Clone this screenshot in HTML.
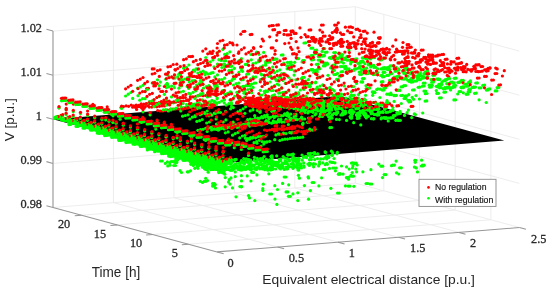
<!DOCTYPE html>
<html><head><meta charset="utf-8"><style>
html,body{margin:0;padding:0;background:#fff;}
svg{display:block;}
</style></head><body>
<svg width="550" height="292" viewBox="0 0 550 292">
<rect width="550" height="292" fill="#fff"/>
<line x1="113.46" y1="202.62" x2="113.46" y2="26.22" stroke="#ebebeb" stroke-width="0.9"/>
<line x1="173.92" y1="197.74" x2="173.92" y2="21.34" stroke="#ebebeb" stroke-width="0.9"/>
<line x1="234.38" y1="192.86" x2="234.38" y2="16.46" stroke="#ebebeb" stroke-width="0.9"/>
<line x1="294.84" y1="187.98" x2="294.84" y2="11.58" stroke="#ebebeb" stroke-width="0.9"/>
<line x1="355.30" y1="183.10" x2="355.30" y2="6.70" stroke="#ebebeb" stroke-width="0.9"/>
<line x1="53.00" y1="163.40" x2="355.30" y2="139.00" stroke="#ebebeb" stroke-width="0.9"/>
<line x1="53.00" y1="119.30" x2="355.30" y2="94.90" stroke="#ebebeb" stroke-width="0.9"/>
<line x1="53.00" y1="75.20" x2="355.30" y2="50.80" stroke="#ebebeb" stroke-width="0.9"/>
<line x1="53.00" y1="31.10" x2="355.30" y2="6.70" stroke="#ebebeb" stroke-width="0.9"/>
<line x1="53.00" y1="207.50" x2="355.30" y2="183.10" stroke="#ebebeb" stroke-width="0.9"/>
<line x1="490.87" y1="219.77" x2="490.87" y2="43.37" stroke="#ebebeb" stroke-width="0.9"/>
<line x1="455.19" y1="210.12" x2="455.19" y2="33.72" stroke="#ebebeb" stroke-width="0.9"/>
<line x1="419.51" y1="200.47" x2="419.51" y2="24.07" stroke="#ebebeb" stroke-width="0.9"/>
<line x1="383.84" y1="190.82" x2="383.84" y2="14.42" stroke="#ebebeb" stroke-width="0.9"/>
<line x1="355.30" y1="139.00" x2="519.40" y2="183.39" stroke="#ebebeb" stroke-width="0.9"/>
<line x1="355.30" y1="94.90" x2="519.40" y2="139.29" stroke="#ebebeb" stroke-width="0.9"/>
<line x1="355.30" y1="50.80" x2="519.40" y2="95.19" stroke="#ebebeb" stroke-width="0.9"/>
<line x1="355.30" y1="6.70" x2="519.40" y2="51.09" stroke="#ebebeb" stroke-width="0.9"/>
<line x1="355.30" y1="183.10" x2="519.40" y2="227.49" stroke="#ebebeb" stroke-width="0.9"/>
<line x1="113.46" y1="202.62" x2="277.56" y2="247.01" stroke="#ebebeb" stroke-width="0.9"/>
<line x1="173.92" y1="197.74" x2="338.02" y2="242.13" stroke="#ebebeb" stroke-width="0.9"/>
<line x1="234.38" y1="192.86" x2="398.49" y2="237.25" stroke="#ebebeb" stroke-width="0.9"/>
<line x1="294.84" y1="187.98" x2="458.95" y2="232.37" stroke="#ebebeb" stroke-width="0.9"/>
<line x1="188.56" y1="244.17" x2="490.87" y2="219.77" stroke="#ebebeb" stroke-width="0.9"/>
<line x1="152.89" y1="234.52" x2="455.19" y2="210.12" stroke="#ebebeb" stroke-width="0.9"/>
<line x1="117.22" y1="224.87" x2="419.51" y2="200.47" stroke="#ebebeb" stroke-width="0.9"/>
<line x1="81.54" y1="215.22" x2="383.84" y2="190.82" stroke="#ebebeb" stroke-width="0.9"/>
<line x1="53" y1="31.10" x2="53" y2="207.50" stroke="#c4c4c4" stroke-width="2"/>
<line x1="53.00" y1="207.50" x2="217.10" y2="251.89" stroke="#979797" stroke-width="1.05"/>
<line x1="217.10" y1="251.89" x2="519.40" y2="227.49" stroke="#979797" stroke-width="1.05"/>
<line x1="53.00" y1="207.50" x2="46.45" y2="205.73" stroke="#979797" stroke-width="1.05"/>
<line x1="53.00" y1="163.40" x2="46.45" y2="161.63" stroke="#979797" stroke-width="1.05"/>
<line x1="53.00" y1="119.30" x2="46.45" y2="117.53" stroke="#979797" stroke-width="1.05"/>
<line x1="53.00" y1="75.20" x2="46.45" y2="73.43" stroke="#979797" stroke-width="1.05"/>
<line x1="53.00" y1="31.10" x2="46.45" y2="29.33" stroke="#979797" stroke-width="1.05"/>
<line x1="188.56" y1="244.17" x2="181.79" y2="244.72" stroke="#979797" stroke-width="1.05"/>
<line x1="152.89" y1="234.52" x2="146.11" y2="235.07" stroke="#979797" stroke-width="1.05"/>
<line x1="117.22" y1="224.87" x2="110.44" y2="225.42" stroke="#979797" stroke-width="1.05"/>
<line x1="81.54" y1="215.22" x2="74.76" y2="215.77" stroke="#979797" stroke-width="1.05"/>
<line x1="217.10" y1="251.89" x2="223.67" y2="253.67" stroke="#979797" stroke-width="1.05"/>
<line x1="277.56" y1="247.01" x2="284.13" y2="248.79" stroke="#979797" stroke-width="1.05"/>
<line x1="338.02" y1="242.13" x2="344.59" y2="243.91" stroke="#979797" stroke-width="1.05"/>
<line x1="398.49" y1="237.25" x2="405.05" y2="239.03" stroke="#979797" stroke-width="1.05"/>
<line x1="458.95" y1="232.37" x2="465.51" y2="234.15" stroke="#979797" stroke-width="1.05"/>
<line x1="519.40" y1="227.49" x2="525.97" y2="229.27" stroke="#979797" stroke-width="1.05"/>
<text x="42" y="31.75" text-anchor="end" style="font-family:'Liberation Serif',serif;font-size:12.3px;fill:#2a2a2a;stroke:#2a2a2a;stroke-width:0.3px">1.02</text>
<text x="42" y="75.85" text-anchor="end" style="font-family:'Liberation Serif',serif;font-size:12.3px;fill:#2a2a2a;stroke:#2a2a2a;stroke-width:0.3px">1.01</text>
<text x="42" y="119.95" text-anchor="end" style="font-family:'Liberation Serif',serif;font-size:12.3px;fill:#2a2a2a;stroke:#2a2a2a;stroke-width:0.3px">1</text>
<text x="42" y="164.05" text-anchor="end" style="font-family:'Liberation Serif',serif;font-size:12.3px;fill:#2a2a2a;stroke:#2a2a2a;stroke-width:0.3px">0.99</text>
<text x="42" y="208.15" text-anchor="end" style="font-family:'Liberation Serif',serif;font-size:12.3px;fill:#2a2a2a;stroke:#2a2a2a;stroke-width:0.3px">0.98</text>
<text x="64.1" y="228.05" text-anchor="middle" style="font-family:'Liberation Serif',serif;font-size:12.3px;fill:#2a2a2a;stroke:#2a2a2a;stroke-width:0.3px">20</text>
<text x="99.9" y="237.55" text-anchor="middle" style="font-family:'Liberation Serif',serif;font-size:12.3px;fill:#2a2a2a;stroke:#2a2a2a;stroke-width:0.3px">15</text>
<text x="136.1" y="246.95" text-anchor="middle" style="font-family:'Liberation Serif',serif;font-size:12.3px;fill:#2a2a2a;stroke:#2a2a2a;stroke-width:0.3px">10</text>
<text x="174.8" y="257.35" text-anchor="middle" style="font-family:'Liberation Serif',serif;font-size:12.3px;fill:#2a2a2a;stroke:#2a2a2a;stroke-width:0.3px">5</text>
<text x="230.7" y="266.95" text-anchor="middle" style="font-family:'Liberation Serif',serif;font-size:12.3px;fill:#2a2a2a;stroke:#2a2a2a;stroke-width:0.3px">0</text>
<text x="296.4" y="261.55" text-anchor="middle" style="font-family:'Liberation Serif',serif;font-size:12.3px;fill:#2a2a2a;stroke:#2a2a2a;stroke-width:0.3px">0.5</text>
<text x="351.9" y="256.85" text-anchor="middle" style="font-family:'Liberation Serif',serif;font-size:12.3px;fill:#2a2a2a;stroke:#2a2a2a;stroke-width:0.3px">1</text>
<text x="417.7" y="251.85" text-anchor="middle" style="font-family:'Liberation Serif',serif;font-size:12.3px;fill:#2a2a2a;stroke:#2a2a2a;stroke-width:0.3px">1.5</text>
<text x="473.2" y="247.15" text-anchor="middle" style="font-family:'Liberation Serif',serif;font-size:12.3px;fill:#2a2a2a;stroke:#2a2a2a;stroke-width:0.3px">2</text>
<text x="538.8" y="243.05" text-anchor="middle" style="font-family:'Liberation Serif',serif;font-size:12.3px;fill:#2a2a2a;stroke:#2a2a2a;stroke-width:0.3px">2.5</text>
<text x="116" y="276.5" text-anchor="middle" textLength="48.5" lengthAdjust="spacingAndGlyphs" style="font-family:'Liberation Sans',Arial,sans-serif;fill:#262626;font-size:13.8px">Time [h]</text>
<text x="368.6" y="284.3" text-anchor="middle" textLength="212.5" lengthAdjust="spacingAndGlyphs" style="font-family:'Liberation Sans',Arial,sans-serif;fill:#262626;font-size:13.4px">Equivalent electrical distance [p.u.]</text>
<text transform="translate(13.9,119.8) rotate(-90)" text-anchor="middle" textLength="43" lengthAdjust="spacingAndGlyphs" style="font-family:'Liberation Sans',Arial,sans-serif;fill:#262626;font-size:13.6px">V [p.u.]</text>
<polygon points="53.00,119.30 217.10,163.69 504.29,140.51 340.19,96.12" fill="#000"/><polygon points="55.42,117.90 219.52,162.29 219.52,171.49 55.42,118.99" fill="#0f0"/>
<g fill="#0f0"><circle cx="341.9" cy="56.4" r="1.6"/><circle cx="340.2" cy="56.5" r="1.6"/></g>
<g fill="#f00"><circle cx="340.2" cy="40.2" r="1.6"/></g>
<g fill="#0f0"><circle cx="332.8" cy="58.2" r="1.6"/><circle cx="331.1" cy="58.3" r="1.6"/></g>
<g fill="#f00"><circle cx="336.4" cy="31.2" r="1.6"/><circle cx="338.3" cy="22.8" r="1.6"/><circle cx="334.7" cy="31.3" r="1.6"/><circle cx="336.4" cy="25.0" r="1.6"/><circle cx="332.8" cy="37.7" r="1.6"/><circle cx="334.7" cy="25.1" r="1.6"/><circle cx="331.1" cy="37.9" r="1.6"/></g>
<g fill="#0f0"><circle cx="324.0" cy="56.0" r="1.6"/><circle cx="324.7" cy="48.7" r="1.6"/><circle cx="322.3" cy="56.1" r="1.6"/><circle cx="323.0" cy="48.8" r="1.6"/><circle cx="349.0" cy="60.0" r="1.6"/></g>
<g fill="#f00"><circle cx="322.3" cy="41.2" r="1.6"/></g>
<g fill="#0f0"><circle cx="347.3" cy="60.2" r="1.6"/></g>
<g fill="#f00"><circle cx="323.2" cy="25.0" r="1.6"/></g>
<g fill="#0f0"><circle cx="313.5" cy="59.7" r="1.6"/></g>
<g fill="#f00"><circle cx="321.5" cy="25.1" r="1.6"/></g>
<g fill="#0f0"><circle cx="311.8" cy="59.9" r="1.6"/></g>
<g fill="#f00"><circle cx="347.3" cy="41.4" r="1.6"/><circle cx="313.5" cy="37.3" r="1.6"/><circle cx="311.8" cy="37.5" r="1.6"/><circle cx="343.6" cy="34.4" r="1.6"/><circle cx="345.4" cy="27.2" r="1.6"/></g>
<g fill="#0f0"><circle cx="303.8" cy="61.8" r="1.6"/></g>
<g fill="#f00"><circle cx="341.9" cy="34.5" r="1.6"/><circle cx="339.9" cy="41.5" r="1.6"/></g>
<g fill="#0f0"><circle cx="302.1" cy="61.9" r="1.6"/></g>
<g fill="#f00"><circle cx="338.3" cy="41.6" r="1.6"/><circle cx="308.1" cy="36.7" r="1.6"/></g>
<g fill="#0f0"><circle cx="305.7" cy="42.8" r="1.6"/></g>
<g fill="#f00"><circle cx="306.4" cy="36.8" r="1.6"/></g>
<g fill="#0f0"><circle cx="304.0" cy="43.0" r="1.6"/><circle cx="331.1" cy="57.6" r="1.6"/><circle cx="329.4" cy="57.8" r="1.6"/><circle cx="356.1" cy="61.4" r="1.6"/></g>
<g fill="#f00"><circle cx="329.4" cy="43.4" r="1.6"/></g>
<g fill="#0f0"><circle cx="354.5" cy="61.5" r="1.6"/><circle cx="322.1" cy="51.4" r="1.6"/></g>
<g fill="#f00"><circle cx="354.5" cy="43.7" r="1.6"/><circle cx="320.6" cy="40.9" r="1.6"/></g>
<g fill="#0f0"><circle cx="349.0" cy="50.1" r="1.6"/><circle cx="316.7" cy="50.2" r="1.6"/></g>
<g fill="#f00"><circle cx="318.9" cy="41.0" r="1.6"/><circle cx="352.6" cy="27.5" r="1.6"/></g>
<g fill="#0f0"><circle cx="315.0" cy="50.4" r="1.6"/></g>
<g fill="#f00"><circle cx="350.7" cy="26.9" r="1.6"/><circle cx="315.2" cy="40.9" r="1.6"/></g>
<g fill="#0f0"><circle cx="312.8" cy="48.1" r="1.6"/></g>
<g fill="#f00"><circle cx="286.0" cy="30.4" r="1.6"/><circle cx="349.0" cy="27.1" r="1.6"/><circle cx="313.5" cy="41.1" r="1.6"/></g>
<g fill="#0f0"><circle cx="311.1" cy="48.2" r="1.6"/></g>
<g fill="#f00"><circle cx="284.3" cy="30.5" r="1.6"/></g>
<g fill="#0f0"><circle cx="338.3" cy="58.6" r="1.6"/></g>
<g fill="#f00"><circle cx="309.2" cy="45.3" r="1.6"/><circle cx="341.8" cy="39.7" r="1.6"/></g>
<g fill="#0f0"><circle cx="336.6" cy="58.8" r="1.6"/><circle cx="336.4" cy="58.2" r="1.6"/><circle cx="335.5" cy="52.5" r="1.6"/><circle cx="363.3" cy="61.9" r="1.6"/></g>
<g fill="#f00"><circle cx="336.6" cy="44.5" r="1.6"/></g>
<g fill="#0f0"><circle cx="333.8" cy="52.6" r="1.6"/></g>
<g fill="#f00"><circle cx="278.4" cy="24.9" r="1.6"/></g>
<g fill="#0f0"><circle cx="361.6" cy="62.1" r="1.6"/></g>
<g fill="#f00"><circle cx="276.7" cy="25.1" r="1.6"/></g>
<g fill="#0f0"><circle cx="298.6" cy="58.6" r="1.6"/></g>
<g fill="#f00"><circle cx="337.4" cy="30.0" r="1.6"/></g>
<g fill="#0f0"><circle cx="327.7" cy="64.2" r="1.6"/></g>
<g fill="#f00"><circle cx="274.6" cy="29.7" r="1.6"/><circle cx="336.8" cy="28.2" r="1.6"/></g>
<g fill="#0f0"><circle cx="296.9" cy="58.7" r="1.6"/></g>
<g fill="#f00"><circle cx="335.7" cy="30.1" r="1.6"/></g>
<g fill="#0f0"><circle cx="326.0" cy="64.3" r="1.6"/></g>
<g fill="#f00"><circle cx="272.9" cy="29.8" r="1.6"/><circle cx="273.3" cy="25.5" r="1.6"/><circle cx="361.6" cy="44.3" r="1.6"/><circle cx="269.7" cy="36.8" r="1.6"/><circle cx="332.3" cy="32.6" r="1.6"/><circle cx="271.6" cy="25.6" r="1.6"/><circle cx="327.7" cy="41.8" r="1.6"/><circle cx="269.3" cy="26.1" r="1.6"/><circle cx="299.9" cy="27.9" r="1.6"/><circle cx="326.0" cy="41.9" r="1.6"/></g>
<g fill="#0f0"><circle cx="258.6" cy="60.6" r="1.6"/></g>
<g fill="#f00"><circle cx="359.7" cy="30.7" r="1.6"/><circle cx="263.4" cy="40.9" r="1.6"/></g>
<g fill="#0f0"><circle cx="259.0" cy="54.3" r="1.6"/><circle cx="318.1" cy="64.2" r="1.6"/><circle cx="320.0" cy="56.3" r="1.6"/></g>
<g fill="#f00"><circle cx="354.2" cy="42.7" r="1.6"/><circle cx="357.8" cy="29.2" r="1.6"/></g>
<g fill="#0f0"><circle cx="316.4" cy="64.3" r="1.6"/><circle cx="318.3" cy="56.4" r="1.6"/></g>
<g fill="#f00"><circle cx="352.5" cy="42.8" r="1.6"/></g>
<g fill="#0f0"><circle cx="256.6" cy="52.1" r="1.6"/></g>
<g fill="#f00"><circle cx="356.1" cy="29.3" r="1.6"/><circle cx="293.1" cy="31.6" r="1.6"/><circle cx="291.4" cy="31.7" r="1.6"/></g>
<g fill="#0f0"><circle cx="345.4" cy="59.3" r="1.6"/><circle cx="252.7" cy="54.4" r="1.6"/><circle cx="343.5" cy="63.1" r="1.6"/><circle cx="283.0" cy="54.9" r="1.6"/><circle cx="343.7" cy="59.4" r="1.6"/><circle cx="251.0" cy="54.5" r="1.6"/><circle cx="281.3" cy="55.0" r="1.6"/><circle cx="342.6" cy="54.5" r="1.6"/><circle cx="370.4" cy="63.1" r="1.6"/><circle cx="340.9" cy="54.7" r="1.6"/><circle cx="368.7" cy="63.2" r="1.6"/><circle cx="334.9" cy="64.9" r="1.6"/><circle cx="336.4" cy="57.7" r="1.6"/><circle cx="333.2" cy="65.0" r="1.6"/></g>
<g fill="#f00"><circle cx="310.8" cy="29.9" r="1.6"/><circle cx="368.7" cy="45.8" r="1.6"/><circle cx="340.4" cy="32.8" r="1.6"/><circle cx="276.9" cy="35.1" r="1.6"/><circle cx="309.1" cy="30.0" r="1.6"/></g>
<g fill="#0f0"><circle cx="361.3" cy="66.1" r="1.6"/></g>
<g fill="#f00"><circle cx="244.8" cy="31.3" r="1.6"/><circle cx="334.9" cy="43.4" r="1.6"/></g>
<g fill="#0f0"><circle cx="359.7" cy="66.2" r="1.6"/><circle cx="265.7" cy="63.5" r="1.6"/></g>
<g fill="#f00"><circle cx="365.0" cy="41.5" r="1.6"/><circle cx="243.1" cy="31.5" r="1.6"/><circle cx="333.2" cy="43.5" r="1.6"/><circle cx="240.8" cy="34.2" r="1.6"/><circle cx="363.3" cy="41.6" r="1.6"/></g>
<g fill="#0f0"><circle cx="325.2" cy="65.8" r="1.6"/></g>
<g fill="#f00"><circle cx="365.0" cy="31.2" r="1.6"/></g>
<g fill="#0f0"><circle cx="323.5" cy="65.9" r="1.6"/><circle cx="327.1" cy="52.1" r="1.6"/></g>
<g fill="#f00"><circle cx="363.3" cy="31.3" r="1.6"/><circle cx="361.2" cy="37.5" r="1.6"/></g>
<g fill="#0f0"><circle cx="263.7" cy="52.4" r="1.6"/><circle cx="325.4" cy="52.3" r="1.6"/></g>
<g fill="#f00"><circle cx="359.6" cy="37.7" r="1.6"/></g>
<g fill="#0f0"><circle cx="352.5" cy="61.7" r="1.6"/></g>
<g fill="#f00"><circle cx="356.0" cy="48.5" r="1.6"/></g>
<g fill="#0f0"><circle cx="350.6" cy="63.8" r="1.6"/></g>
<g fill="#f00"><circle cx="323.5" cy="48.5" r="1.6"/></g>
<g fill="#0f0"><circle cx="350.8" cy="61.8" r="1.6"/><circle cx="225.7" cy="60.7" r="1.6"/><circle cx="224.0" cy="60.9" r="1.6"/></g>
<g fill="#f00"><circle cx="350.8" cy="47.5" r="1.6"/><circle cx="292.7" cy="30.9" r="1.6"/></g>
<g fill="#0f0"><circle cx="283.8" cy="63.2" r="1.6"/><circle cx="317.2" cy="53.5" r="1.6"/></g>
<g fill="#f00"><circle cx="322.5" cy="32.2" r="1.6"/><circle cx="291.0" cy="31.1" r="1.6"/></g>
<g fill="#0f0"><circle cx="315.5" cy="53.7" r="1.6"/><circle cx="222.8" cy="49.4" r="1.6"/></g>
<g fill="#f00"><circle cx="351.7" cy="32.6" r="1.6"/><circle cx="288.8" cy="34.8" r="1.6"/></g>
<g fill="#0f0"><circle cx="342.0" cy="66.5" r="1.6"/><circle cx="343.5" cy="59.5" r="1.6"/><circle cx="218.9" cy="59.7" r="1.6"/><circle cx="312.9" cy="55.6" r="1.6"/></g>
<g fill="#f00"><circle cx="350.0" cy="32.7" r="1.6"/><circle cx="287.1" cy="34.9" r="1.6"/></g>
<g fill="#0f0"><circle cx="340.3" cy="66.6" r="1.6"/></g>
<g fill="#f00"><circle cx="222.8" cy="40.3" r="1.6"/></g>
<g fill="#0f0"><circle cx="311.2" cy="55.7" r="1.6"/></g>
<g fill="#f00"><circle cx="375.9" cy="46.3" r="1.6"/></g>
<g fill="#0f0"><circle cx="214.0" cy="66.8" r="1.6"/><circle cx="217.5" cy="52.5" r="1.6"/></g>
<g fill="#f00"><circle cx="347.6" cy="30.9" r="1.6"/><circle cx="220.1" cy="41.0" r="1.6"/><circle cx="284.0" cy="34.4" r="1.6"/></g>
<g fill="#0f0"><circle cx="340.7" cy="53.9" r="1.6"/><circle cx="277.0" cy="59.0" r="1.6"/><circle cx="370.4" cy="58.9" r="1.6"/></g>
<g fill="#f00"><circle cx="251.9" cy="34.4" r="1.6"/><circle cx="217.1" cy="48.0" r="1.6"/><circle cx="217.5" cy="43.5" r="1.6"/><circle cx="342.0" cy="43.3" r="1.6"/></g>
<g fill="#0f0"><circle cx="339.0" cy="54.0" r="1.6"/><circle cx="275.3" cy="59.1" r="1.6"/></g>
<g fill="#f00"><circle cx="311.8" cy="37.8" r="1.6"/><circle cx="250.2" cy="34.6" r="1.6"/><circle cx="372.1" cy="43.1" r="1.6"/><circle cx="340.3" cy="43.4" r="1.6"/></g>
<g fill="#0f0"><circle cx="273.3" cy="59.7" r="1.6"/></g>
<g fill="#f00"><circle cx="374.0" cy="32.2" r="1.6"/><circle cx="212.2" cy="53.4" r="1.6"/><circle cx="370.4" cy="43.3" r="1.6"/></g>
<g fill="#0f0"><circle cx="332.3" cy="67.7" r="1.6"/></g>
<g fill="#f00"><circle cx="279.6" cy="32.4" r="1.6"/><circle cx="368.5" cy="45.5" r="1.6"/></g>
<g fill="#0f0"><circle cx="334.2" cy="56.5" r="1.6"/><circle cx="207.5" cy="62.9" r="1.6"/><circle cx="330.6" cy="67.8" r="1.6"/></g>
<g fill="#f00"><circle cx="366.8" cy="45.6" r="1.6"/></g>
<g fill="#0f0"><circle cx="332.5" cy="56.6" r="1.6"/><circle cx="205.8" cy="57.5" r="1.6"/><circle cx="359.7" cy="63.2" r="1.6"/></g>
<g fill="#f00"><circle cx="367.3" cy="33.1" r="1.6"/></g>
<g fill="#0f0"><circle cx="358.0" cy="63.4" r="1.6"/></g>
<g fill="#f00"><circle cx="205.8" cy="48.8" r="1.6"/></g>
<g fill="#0f0"><circle cx="198.8" cy="68.9" r="1.6"/><circle cx="356.9" cy="58.9" r="1.6"/></g>
<g fill="#f00"><circle cx="202.8" cy="51.1" r="1.6"/></g>
<g fill="#0f0"><circle cx="384.7" cy="67.7" r="1.6"/><circle cx="197.1" cy="69.1" r="1.6"/><circle cx="355.2" cy="59.1" r="1.6"/><circle cx="290.9" cy="64.6" r="1.6"/><circle cx="260.8" cy="59.9" r="1.6"/><circle cx="324.4" cy="55.3" r="1.6"/></g>
<g fill="#f00"><circle cx="329.6" cy="35.8" r="1.6"/></g>
<g fill="#0f0"><circle cx="383.0" cy="67.8" r="1.6"/></g>
<g fill="#f00"><circle cx="233.1" cy="44.8" r="1.6"/></g>
<g fill="#0f0"><circle cx="259.1" cy="60.1" r="1.6"/><circle cx="322.7" cy="55.4" r="1.6"/></g>
<g fill="#f00"><circle cx="232.4" cy="43.2" r="1.6"/></g>
<g fill="#0f0"><circle cx="229.9" cy="51.8" r="1.6"/><circle cx="349.1" cy="68.9" r="1.6"/><circle cx="320.0" cy="60.0" r="1.6"/></g>
<g fill="#f00"><circle cx="296.0" cy="33.4" r="1.6"/></g>
<g fill="#0f0"><circle cx="224.6" cy="64.4" r="1.6"/><circle cx="227.2" cy="53.7" r="1.6"/><circle cx="347.4" cy="69.0" r="1.6"/></g>
<g fill="#f00"><circle cx="229.9" cy="42.7" r="1.6"/><circle cx="325.1" cy="36.1" r="1.6"/></g>
<g fill="#0f0"><circle cx="318.3" cy="60.1" r="1.6"/></g>
<g fill="#f00"><circle cx="294.3" cy="33.5" r="1.6"/><circle cx="383.0" cy="49.2" r="1.6"/></g>
<g fill="#0f0"><circle cx="223.0" cy="64.5" r="1.6"/></g>
<g fill="#f00"><circle cx="323.4" cy="36.2" r="1.6"/><circle cx="227.2" cy="44.7" r="1.6"/></g>
<g fill="#0f0"><circle cx="224.6" cy="54.3" r="1.6"/></g>
<g fill="#f00"><circle cx="291.1" cy="38.4" r="1.6"/><circle cx="353.7" cy="36.9" r="1.6"/><circle cx="192.5" cy="56.4" r="1.6"/></g>
<g fill="#0f0"><circle cx="375.6" cy="67.3" r="1.6"/></g>
<g fill="#f00"><circle cx="290.7" cy="34.7" r="1.6"/></g>
<g fill="#0f0"><circle cx="188.9" cy="65.0" r="1.6"/><circle cx="221.1" cy="60.4" r="1.6"/></g>
<g fill="#f00"><circle cx="349.1" cy="46.8" r="1.6"/><circle cx="190.8" cy="56.6" r="1.6"/><circle cx="224.2" cy="47.9" r="1.6"/><circle cx="224.6" cy="45.2" r="1.6"/></g>
<g fill="#0f0"><circle cx="373.9" cy="67.4" r="1.6"/><circle cx="345.2" cy="58.2" r="1.6"/></g>
<g fill="#f00"><circle cx="347.4" cy="46.9" r="1.6"/></g>
<g fill="#0f0"><circle cx="186.3" cy="67.3" r="1.6"/></g>
<g fill="#f00"><circle cx="188.9" cy="56.5" r="1.6"/><circle cx="379.2" cy="42.7" r="1.6"/></g>
<g fill="#0f0"><circle cx="343.6" cy="58.4" r="1.6"/></g>
<g fill="#f00"><circle cx="319.9" cy="30.1" r="1.6"/><circle cx="284.8" cy="43.6" r="1.6"/><circle cx="377.5" cy="42.9" r="1.6"/><circle cx="186.3" cy="58.8" r="1.6"/></g>
<g fill="#0f0"><circle cx="183.6" cy="68.2" r="1.6"/></g>
<g fill="#f00"><circle cx="219.3" cy="51.2" r="1.6"/></g>
<g fill="#0f0"><circle cx="341.4" cy="57.6" r="1.6"/></g>
<g fill="#f00"><circle cx="375.6" cy="45.6" r="1.6"/></g>
<g fill="#0f0"><circle cx="180.5" cy="74.0" r="1.6"/></g>
<g fill="#f00"><circle cx="183.6" cy="59.7" r="1.6"/><circle cx="313.7" cy="39.1" r="1.6"/></g>
<g fill="#0f0"><circle cx="339.7" cy="57.7" r="1.6"/></g>
<g fill="#f00"><circle cx="373.9" cy="45.7" r="1.6"/><circle cx="343.7" cy="42.0" r="1.6"/></g>
<g fill="#0f0"><circle cx="178.8" cy="74.2" r="1.6"/><circle cx="213.0" cy="59.9" r="1.6"/></g>
<g fill="#f00"><circle cx="342.0" cy="42.2" r="1.6"/><circle cx="370.3" cy="51.5" r="1.6"/></g>
<g fill="#0f0"><circle cx="367.5" cy="58.5" r="1.6"/><circle cx="304.4" cy="60.5" r="1.6"/><circle cx="210.3" cy="61.9" r="1.6"/></g>
<g fill="#f00"><circle cx="213.0" cy="51.2" r="1.6"/></g>
<g fill="#0f0"><circle cx="364.9" cy="63.7" r="1.6"/><circle cx="174.9" cy="75.1" r="1.6"/><circle cx="365.8" cy="58.6" r="1.6"/><circle cx="302.7" cy="60.6" r="1.6"/><circle cx="240.0" cy="62.3" r="1.6"/><circle cx="205.9" cy="72.6" r="1.6"/></g>
<g fill="#f00"><circle cx="176.8" cy="64.2" r="1.6"/><circle cx="210.3" cy="53.2" r="1.6"/></g>
<g fill="#0f0"><circle cx="207.7" cy="62.5" r="1.6"/></g>
<g fill="#f00"><circle cx="278.0" cy="32.6" r="1.6"/></g>
<g fill="#0f0"><circle cx="238.3" cy="62.5" r="1.6"/><circle cx="364.0" cy="57.8" r="1.6"/></g>
<g fill="#f00"><circle cx="210.0" cy="51.8" r="1.6"/></g>
<g fill="#0f0"><circle cx="204.2" cy="72.8" r="1.6"/><circle cx="391.8" cy="65.8" r="1.6"/></g>
<g fill="#f00"><circle cx="365.1" cy="49.1" r="1.6"/></g>
<g fill="#0f0"><circle cx="331.5" cy="57.6" r="1.6"/><circle cx="362.3" cy="57.9" r="1.6"/></g>
<g fill="#f00"><circle cx="207.7" cy="53.8" r="1.6"/></g>
<g fill="#0f0"><circle cx="268.0" cy="61.0" r="1.6"/></g>
<g fill="#f00"><circle cx="173.2" cy="64.5" r="1.6"/></g>
<g fill="#0f0"><circle cx="267.3" cy="61.6" r="1.6"/><circle cx="167.5" cy="84.7" r="1.6"/><circle cx="390.1" cy="65.9" r="1.6"/></g>
<g fill="#f00"><circle cx="336.7" cy="32.3" r="1.6"/></g>
<g fill="#0f0"><circle cx="329.8" cy="57.8" r="1.6"/></g>
<g fill="#f00"><circle cx="366.0" cy="38.8" r="1.6"/></g>
<g fill="#0f0"><circle cx="266.3" cy="61.1" r="1.6"/><circle cx="265.6" cy="61.8" r="1.6"/><circle cx="165.8" cy="84.8" r="1.6"/><circle cx="327.1" cy="63.1" r="1.6"/></g>
<g fill="#f00"><circle cx="170.5" cy="66.4" r="1.6"/></g>
<g fill="#0f0"><circle cx="167.9" cy="75.2" r="1.6"/><circle cx="356.3" cy="68.8" r="1.6"/></g>
<g fill="#f00"><circle cx="364.3" cy="39.0" r="1.6"/><circle cx="168.4" cy="72.3" r="1.6"/></g>
<g fill="#0f0"><circle cx="231.8" cy="66.2" r="1.6"/><circle cx="165.8" cy="79.3" r="1.6"/></g>
<g fill="#f00"><circle cx="332.2" cy="38.9" r="1.6"/><circle cx="237.0" cy="45.0" r="1.6"/></g>
<g fill="#0f0"><circle cx="325.4" cy="63.2" r="1.6"/><circle cx="354.6" cy="68.9" r="1.6"/></g>
<g fill="#f00"><circle cx="167.9" cy="66.8" r="1.6"/></g>
<g fill="#0f0"><circle cx="230.1" cy="66.4" r="1.6"/></g>
<g fill="#f00"><circle cx="330.5" cy="39.0" r="1.6"/></g>
<g fill="#0f0"><circle cx="196.0" cy="68.9" r="1.6"/><circle cx="291.2" cy="62.2" r="1.6"/></g>
<g fill="#f00"><circle cx="360.9" cy="34.8" r="1.6"/></g>
<g fill="#0f0"><circle cx="228.3" cy="64.6" r="1.6"/><circle cx="382.8" cy="68.7" r="1.6"/><circle cx="194.5" cy="71.2" r="1.6"/><circle cx="160.3" cy="82.1" r="1.6"/><circle cx="384.7" cy="58.2" r="1.6"/><circle cx="352.4" cy="60.3" r="1.6"/><circle cx="289.5" cy="62.4" r="1.6"/><circle cx="381.1" cy="68.8" r="1.6"/></g>
<g fill="#f00"><circle cx="386.4" cy="49.1" r="1.6"/><circle cx="196.0" cy="60.4" r="1.6"/></g>
<g fill="#0f0"><circle cx="193.4" cy="70.2" r="1.6"/><circle cx="287.1" cy="68.8" r="1.6"/></g>
<g fill="#f00"><circle cx="292.0" cy="49.5" r="1.6"/></g>
<g fill="#0f0"><circle cx="350.7" cy="60.4" r="1.6"/></g>
<g fill="#f00"><circle cx="384.7" cy="49.3" r="1.6"/></g>
<g fill="#0f0"><circle cx="287.5" cy="62.4" r="1.6"/></g>
<g fill="#f00"><circle cx="226.4" cy="56.4" r="1.6"/><circle cx="262.2" cy="39.1" r="1.6"/></g>
<g fill="#0f0"><circle cx="157.5" cy="79.8" r="1.6"/></g>
<g fill="#f00"><circle cx="160.1" cy="69.8" r="1.6"/><circle cx="193.4" cy="61.7" r="1.6"/></g>
<g fill="#0f0"><circle cx="346.6" cy="68.6" r="1.6"/></g>
<g fill="#f00"><circle cx="382.8" cy="49.2" r="1.6"/></g>
<g fill="#0f0"><circle cx="154.8" cy="82.4" r="1.6"/><circle cx="348.5" cy="56.6" r="1.6"/></g>
<g fill="#f00"><circle cx="350.9" cy="47.4" r="1.6"/></g>
<g fill="#0f0"><circle cx="344.9" cy="68.7" r="1.6"/></g>
<g fill="#f00"><circle cx="157.5" cy="70.7" r="1.6"/><circle cx="381.1" cy="49.3" r="1.6"/><circle cx="321.7" cy="38.5" r="1.6"/></g>
<g fill="#0f0"><circle cx="346.8" cy="56.7" r="1.6"/></g>
<g fill="#f00"><circle cx="349.2" cy="47.6" r="1.6"/><circle cx="320.0" cy="38.7" r="1.6"/></g>
<g fill="#0f0"><circle cx="152.2" cy="83.1" r="1.6"/></g>
<g fill="#f00"><circle cx="154.8" cy="73.3" r="1.6"/></g>
<g fill="#0f0"><circle cx="373.9" cy="65.4" r="1.6"/></g>
<g fill="#f00"><circle cx="253.5" cy="47.5" r="1.6"/><circle cx="154.0" cy="68.8" r="1.6"/></g>
<g fill="#0f0"><circle cx="217.5" cy="64.0" r="1.6"/><circle cx="374.7" cy="57.6" r="1.6"/></g>
<g fill="#f00"><circle cx="378.5" cy="43.2" r="1.6"/><circle cx="148.4" cy="88.3" r="1.6"/><circle cx="344.9" cy="52.1" r="1.6"/><circle cx="152.2" cy="74.0" r="1.6"/></g>
<g fill="#0f0"><circle cx="372.2" cy="65.5" r="1.6"/><circle cx="181.5" cy="79.3" r="1.6"/><circle cx="247.1" cy="64.3" r="1.6"/></g>
<g fill="#f00"><circle cx="152.3" cy="68.9" r="1.6"/></g>
<g fill="#0f0"><circle cx="373.0" cy="57.7" r="1.6"/></g>
<g fill="#f00"><circle cx="146.7" cy="88.5" r="1.6"/><circle cx="184.0" cy="65.7" r="1.6"/></g>
<g fill="#0f0"><circle cx="213.1" cy="72.7" r="1.6"/></g>
<g fill="#f00"><circle cx="217.5" cy="55.3" r="1.6"/></g>
<g fill="#0f0"><circle cx="179.8" cy="79.4" r="1.6"/><circle cx="180.3" cy="75.0" r="1.6"/><circle cx="245.4" cy="64.4" r="1.6"/></g>
<g fill="#f00"><circle cx="217.1" cy="53.1" r="1.6"/></g>
<g fill="#0f0"><circle cx="211.4" cy="72.8" r="1.6"/><circle cx="399.0" cy="69.9" r="1.6"/><circle cx="338.6" cy="62.5" r="1.6"/></g>
<g fill="#f00"><circle cx="372.2" cy="53.1" r="1.6"/><circle cx="214.8" cy="56.6" r="1.6"/><circle cx="214.4" cy="57.4" r="1.6"/></g>
<g fill="#0f0"><circle cx="177.7" cy="76.9" r="1.6"/></g>
<g fill="#f00"><circle cx="180.3" cy="66.6" r="1.6"/></g>
<g fill="#0f0"><circle cx="397.3" cy="70.0" r="1.6"/><circle cx="336.9" cy="62.6" r="1.6"/><circle cx="275.1" cy="59.0" r="1.6"/><circle cx="334.3" cy="70.3" r="1.6"/><circle cx="143.0" cy="85.3" r="1.6"/></g>
<g fill="#f00"><circle cx="372.5" cy="42.4" r="1.6"/><circle cx="212.7" cy="57.5" r="1.6"/><circle cx="310.2" cy="41.4" r="1.6"/><circle cx="177.7" cy="68.5" r="1.6"/></g>
<g fill="#0f0"><circle cx="175.0" cy="78.1" r="1.6"/><circle cx="273.4" cy="59.1" r="1.6"/><circle cx="332.6" cy="70.4" r="1.6"/><circle cx="363.4" cy="69.7" r="1.6"/></g>
<g fill="#f00"><circle cx="308.5" cy="41.6" r="1.6"/></g>
<g fill="#0f0"><circle cx="241.5" cy="58.6" r="1.6"/></g>
<g fill="#f00"><circle cx="143.0" cy="77.5" r="1.6"/></g>
<g fill="#0f0"><circle cx="140.3" cy="86.9" r="1.6"/></g>
<g fill="#f00"><circle cx="244.2" cy="47.8" r="1.6"/><circle cx="175.5" cy="70.1" r="1.6"/><circle cx="173.2" cy="78.1" r="1.6"/><circle cx="175.0" cy="69.6" r="1.6"/></g>
<g fill="#0f0"><circle cx="361.7" cy="69.8" r="1.6"/><circle cx="270.2" cy="62.0" r="1.6"/><circle cx="238.9" cy="60.9" r="1.6"/></g>
<g fill="#f00"><circle cx="397.3" cy="50.6" r="1.6"/><circle cx="140.3" cy="79.1" r="1.6"/><circle cx="241.5" cy="49.6" r="1.6"/></g>
<g fill="#0f0"><circle cx="137.6" cy="88.1" r="1.6"/><circle cx="362.1" cy="61.4" r="1.6"/></g>
<g fill="#f00"><circle cx="206.8" cy="60.3" r="1.6"/></g>
<g fill="#0f0"><circle cx="268.5" cy="62.2" r="1.6"/><circle cx="203.2" cy="71.0" r="1.6"/><circle cx="389.9" cy="69.6" r="1.6"/></g>
<g fill="#f00"><circle cx="238.5" cy="53.3" r="1.6"/><circle cx="238.9" cy="51.8" r="1.6"/><circle cx="137.6" cy="80.3" r="1.6"/></g>
<g fill="#0f0"><circle cx="360.4" cy="61.5" r="1.6"/></g>
<g fill="#f00"><circle cx="205.1" cy="60.5" r="1.6"/></g>
<g fill="#0f0"><circle cx="232.4" cy="72.8" r="1.6"/></g>
<g fill="#f00"><circle cx="305.0" cy="34.6" r="1.6"/></g>
<g fill="#0f0"><circle cx="167.1" cy="83.3" r="1.6"/><circle cx="388.2" cy="69.7" r="1.6"/></g>
<g fill="#f00"><circle cx="203.2" cy="62.6" r="1.6"/></g>
<g fill="#0f0"><circle cx="294.3" cy="71.1" r="1.6"/><circle cx="200.5" cy="72.0" r="1.6"/></g>
<g fill="#f00"><circle cx="299.1" cy="51.7" r="1.6"/></g>
<g fill="#0f0"><circle cx="130.9" cy="92.5" r="1.6"/><circle cx="294.7" cy="62.3" r="1.6"/></g>
<g fill="#f00"><circle cx="200.5" cy="63.5" r="1.6"/></g>
<g fill="#0f0"><circle cx="197.9" cy="73.1" r="1.6"/></g>
<g fill="#f00"><circle cx="301.0" cy="37.3" r="1.6"/><circle cx="233.6" cy="55.6" r="1.6"/><circle cx="223.5" cy="92.7" r="1.6"/></g>
<g fill="#0f0"><circle cx="353.7" cy="70.4" r="1.6"/><circle cx="228.9" cy="70.9" r="1.6"/><circle cx="194.8" cy="80.7" r="1.6"/><circle cx="292.3" cy="65.0" r="1.6"/></g>
<g fill="#f00"><circle cx="200.4" cy="59.4" r="1.6"/><circle cx="130.9" cy="85.3" r="1.6"/></g>
<g fill="#0f0"><circle cx="355.6" cy="59.9" r="1.6"/><circle cx="128.2" cy="94.2" r="1.6"/></g>
<g fill="#f00"><circle cx="188.6" cy="100.6" r="1.6"/></g>
<g fill="#0f0"><circle cx="352.0" cy="70.5" r="1.6"/></g>
<g fill="#f00"><circle cx="197.9" cy="64.7" r="1.6"/><circle cx="220.9" cy="93.6" r="1.6"/></g>
<g fill="#0f0"><circle cx="193.1" cy="80.8" r="1.6"/><circle cx="354.0" cy="60.0" r="1.6"/></g>
<g fill="#f00"><circle cx="358.0" cy="43.8" r="1.6"/><circle cx="328.0" cy="39.6" r="1.6"/><circle cx="128.2" cy="87.0" r="1.6"/></g>
<g fill="#0f0"><circle cx="227.2" cy="65.6" r="1.6"/><circle cx="125.6" cy="96.0" r="1.6"/><circle cx="159.3" cy="85.6" r="1.6"/></g>
<g fill="#f00"><circle cx="186.1" cy="100.5" r="1.6"/><circle cx="356.3" cy="43.9" r="1.6"/><circle cx="384.6" cy="53.4" r="1.6"/><circle cx="125.6" cy="88.8" r="1.6"/><circle cx="227.2" cy="56.9" r="1.6"/></g>
<g fill="#0f0"><circle cx="224.6" cy="66.4" r="1.6"/></g>
<g fill="#f00"><circle cx="191.1" cy="74.4" r="1.6"/></g>
<g fill="#0f0"><circle cx="381.8" cy="59.8" r="1.6"/></g>
<g fill="#f00"><circle cx="159.3" cy="76.4" r="1.6"/><circle cx="183.5" cy="101.0" r="1.6"/></g>
<g fill="#0f0"><circle cx="214.5" cy="101.3" r="1.6"/><circle cx="189.2" cy="77.7" r="1.6"/><circle cx="188.6" cy="79.5" r="1.6"/></g>
<g fill="#f00"><circle cx="215.8" cy="93.2" r="1.6"/><circle cx="155.5" cy="85.8" r="1.6"/></g>
<g fill="#0f0"><circle cx="380.1" cy="59.9" r="1.6"/><circle cx="221.9" cy="67.5" r="1.6"/></g>
<g fill="#f00"><circle cx="224.6" cy="57.7" r="1.6"/></g>
<g fill="#0f0"><circle cx="187.5" cy="77.7" r="1.6"/><circle cx="186.9" cy="79.6" r="1.6"/></g>
<g fill="#f00"><circle cx="181.0" cy="101.3" r="1.6"/><circle cx="153.8" cy="86.0" r="1.6"/></g>
<g fill="#0f0"><circle cx="345.8" cy="66.4" r="1.6"/></g>
<g fill="#f00"><circle cx="154.5" cy="82.6" r="1.6"/><circle cx="213.3" cy="94.2" r="1.6"/><circle cx="379.4" cy="54.3" r="1.6"/><circle cx="289.0" cy="43.0" r="1.6"/></g>
<g fill="#0f0"><circle cx="406.1" cy="69.6" r="1.6"/></g>
<g fill="#f00"><circle cx="221.9" cy="58.8" r="1.6"/></g>
<g fill="#0f0"><circle cx="344.1" cy="66.6" r="1.6"/></g>
<g fill="#f00"><circle cx="152.8" cy="82.8" r="1.6"/><circle cx="187.5" cy="69.2" r="1.6"/></g>
<g fill="#0f0"><circle cx="184.8" cy="79.0" r="1.6"/><circle cx="209.5" cy="102.5" r="1.6"/></g>
<g fill="#f00"><circle cx="178.4" cy="101.6" r="1.6"/></g>
<g fill="#0f0"><circle cx="404.4" cy="69.7" r="1.6"/><circle cx="251.3" cy="59.8" r="1.6"/></g>
<g fill="#f00"><circle cx="210.8" cy="94.2" r="1.6"/><circle cx="253.8" cy="48.4" r="1.6"/></g>
<g fill="#0f0"><circle cx="181.8" cy="82.5" r="1.6"/><circle cx="182.1" cy="80.8" r="1.6"/></g>
<g fill="#f00"><circle cx="184.8" cy="70.6" r="1.6"/><circle cx="380.2" cy="37.7" r="1.6"/><circle cx="175.9" cy="102.1" r="1.6"/></g>
<g fill="#0f0"><circle cx="206.9" cy="102.5" r="1.6"/></g>
<g fill="#f00"><circle cx="379.6" cy="38.5" r="1.6"/><circle cx="208.2" cy="95.8" r="1.6"/></g>
<g fill="#0f0"><circle cx="370.5" cy="71.1" r="1.6"/><circle cx="248.7" cy="61.4" r="1.6"/><circle cx="147.4" cy="89.5" r="1.6"/></g>
<g fill="#f00"><circle cx="251.3" cy="50.8" r="1.6"/></g>
<g fill="#0f0"><circle cx="180.1" cy="82.7" r="1.6"/><circle cx="341.4" cy="61.8" r="1.6"/></g>
<g fill="#f00"><circle cx="316.1" cy="39.4" r="1.6"/><circle cx="378.5" cy="37.8" r="1.6"/></g>
<g fill="#0f0"><circle cx="370.6" cy="67.0" r="1.6"/></g>
<g fill="#f00"><circle cx="182.1" cy="72.4" r="1.6"/></g>
<g fill="#0f0"><circle cx="368.8" cy="71.2" r="1.6"/><circle cx="204.4" cy="102.9" r="1.6"/></g>
<g fill="#f00"><circle cx="173.4" cy="102.4" r="1.6"/></g>
<g fill="#0f0"><circle cx="339.7" cy="62.0" r="1.6"/></g>
<g fill="#f00"><circle cx="404.4" cy="52.5" r="1.6"/><circle cx="147.4" cy="81.7" r="1.6"/></g>
<g fill="#0f0"><circle cx="144.8" cy="91.3" r="1.6"/></g>
<g fill="#f00"><circle cx="314.4" cy="39.6" r="1.6"/><circle cx="248.7" cy="52.3" r="1.6"/><circle cx="205.7" cy="95.5" r="1.6"/><circle cx="180.3" cy="72.5" r="1.6"/></g>
<g fill="#0f0"><circle cx="242.5" cy="71.3" r="1.6"/><circle cx="210.3" cy="73.5" r="1.6"/></g>
<g fill="#f00"><circle cx="170.8" cy="102.6" r="1.6"/><circle cx="144.8" cy="83.4" r="1.6"/></g>
<g fill="#0f0"><circle cx="397.0" cy="71.1" r="1.6"/><circle cx="242.3" cy="67.8" r="1.6"/></g>
<g fill="#f00"><circle cx="246.0" cy="53.9" r="1.6"/></g>
<g fill="#0f0"><circle cx="366.7" cy="68.2" r="1.6"/><circle cx="301.4" cy="78.6" r="1.6"/></g>
<g fill="#f00"><circle cx="312.2" cy="38.8" r="1.6"/></g>
<g fill="#0f0"><circle cx="398.9" cy="62.9" r="1.6"/><circle cx="174.3" cy="87.7" r="1.6"/></g>
<g fill="#f00"><circle cx="203.1" cy="95.7" r="1.6"/><circle cx="402.5" cy="47.3" r="1.6"/><circle cx="370.5" cy="49.8" r="1.6"/></g>
<g fill="#0f0"><circle cx="174.4" cy="84.1" r="1.6"/></g>
<g fill="#f00"><circle cx="210.3" cy="65.0" r="1.6"/></g>
<g fill="#0f0"><circle cx="395.3" cy="71.3" r="1.6"/><circle cx="240.6" cy="67.9" r="1.6"/><circle cx="365.0" cy="68.3" r="1.6"/></g>
<g fill="#f00"><circle cx="400.6" cy="51.4" r="1.6"/></g>
<g fill="#0f0"><circle cx="207.7" cy="73.9" r="1.6"/></g>
<g fill="#f00"><circle cx="341.3" cy="39.3" r="1.6"/></g>
<g fill="#0f0"><circle cx="199.3" cy="102.9" r="1.6"/></g>
<g fill="#f00"><circle cx="368.8" cy="49.9" r="1.6"/><circle cx="200.6" cy="95.2" r="1.6"/></g>
<g fill="#0f0"><circle cx="138.0" cy="95.7" r="1.6"/><circle cx="171.7" cy="86.0" r="1.6"/></g>
<g fill="#f00"><circle cx="398.9" cy="51.5" r="1.6"/><circle cx="240.7" cy="60.1" r="1.6"/><circle cx="174.4" cy="74.9" r="1.6"/><circle cx="207.7" cy="65.4" r="1.6"/></g>
<g fill="#0f0"><circle cx="205.0" cy="74.8" r="1.6"/></g>
<g fill="#f00"><circle cx="276.5" cy="40.6" r="1.6"/><circle cx="165.7" cy="104.0" r="1.6"/></g>
<g fill="#0f0"><circle cx="196.8" cy="103.7" r="1.6"/><circle cx="360.9" cy="71.8" r="1.6"/></g>
<g fill="#f00"><circle cx="207.5" cy="63.3" r="1.6"/></g>
<g fill="#0f0"><circle cx="225.6" cy="111.3" r="1.6"/></g>
<g fill="#f00"><circle cx="397.0" cy="52.0" r="1.6"/><circle cx="138.0" cy="88.6" r="1.6"/><circle cx="198.1" cy="95.7" r="1.6"/></g>
<g fill="#0f0"><circle cx="201.9" cy="80.5" r="1.6"/><circle cx="169.1" cy="86.9" r="1.6"/><circle cx="362.8" cy="61.2" r="1.6"/></g>
<g fill="#f00"><circle cx="171.7" cy="76.9" r="1.6"/><circle cx="272.9" cy="47.8" r="1.6"/></g>
<g fill="#0f0"><circle cx="359.2" cy="72.0" r="1.6"/></g>
<g fill="#f00"><circle cx="205.0" cy="66.3" r="1.6"/><circle cx="395.3" cy="52.1" r="1.6"/><circle cx="163.2" cy="103.6" r="1.6"/></g>
<g fill="#0f0"><circle cx="194.2" cy="104.0" r="1.6"/><circle cx="200.3" cy="80.7" r="1.6"/><circle cx="361.1" cy="61.4" r="1.6"/></g>
<g fill="#f00"><circle cx="271.2" cy="47.9" r="1.6"/></g>
<g fill="#0f0"><circle cx="234.4" cy="68.3" r="1.6"/></g>
<g fill="#f00"><circle cx="195.5" cy="96.6" r="1.6"/></g>
<g fill="#0f0"><circle cx="132.7" cy="98.4" r="1.6"/><circle cx="166.4" cy="87.6" r="1.6"/></g>
<g fill="#f00"><circle cx="169.1" cy="77.7" r="1.6"/></g>
<g fill="#0f0"><circle cx="388.9" cy="67.4" r="1.6"/></g>
<g fill="#f00"><circle cx="391.7" cy="56.8" r="1.6"/></g>
<g fill="#0f0"><circle cx="388.2" cy="68.9" r="1.6"/><circle cx="191.7" cy="104.1" r="1.6"/></g>
<g fill="#f00"><circle cx="395.8" cy="39.9" r="1.6"/></g>
<g fill="#0f0"><circle cx="220.5" cy="112.5" r="1.6"/></g>
<g fill="#f00"><circle cx="160.7" cy="103.4" r="1.6"/><circle cx="132.7" cy="91.3" r="1.6"/></g>
<g fill="#0f0"><circle cx="231.7" cy="70.0" r="1.6"/></g>
<g fill="#f00"><circle cx="234.4" cy="59.6" r="1.6"/><circle cx="166.4" cy="78.5" r="1.6"/></g>
<g fill="#0f0"><circle cx="387.2" cy="67.5" r="1.6"/></g>
<g fill="#f00"><circle cx="162.6" cy="91.4" r="1.6"/><circle cx="392.8" cy="46.2" r="1.6"/><circle cx="167.3" cy="74.1" r="1.6"/></g>
<g fill="#0f0"><circle cx="325.8" cy="63.3" r="1.6"/><circle cx="386.5" cy="69.1" r="1.6"/></g>
<g fill="#f00"><circle cx="359.2" cy="53.9" r="1.6"/></g>
<g fill="#0f0"><circle cx="189.1" cy="104.5" r="1.6"/></g>
<g fill="#f00"><circle cx="158.1" cy="103.8" r="1.6"/></g>
<g fill="#0f0"><circle cx="218.0" cy="112.3" r="1.6"/></g>
<g fill="#f00"><circle cx="231.7" cy="61.3" r="1.6"/></g>
<g fill="#0f0"><circle cx="229.1" cy="70.5" r="1.6"/></g>
<g fill="#f00"><circle cx="198.3" cy="69.0" r="1.6"/><circle cx="160.9" cy="91.5" r="1.6"/><circle cx="165.6" cy="74.2" r="1.6"/></g>
<g fill="#0f0"><circle cx="324.1" cy="63.5" r="1.6"/></g>
<g fill="#f00"><circle cx="190.4" cy="96.7" r="1.6"/><circle cx="230.3" cy="63.8" r="1.6"/></g>
<g fill="#0f0"><circle cx="259.5" cy="69.0" r="1.6"/><circle cx="92.9" cy="106.6" r="1.6"/></g>
<g fill="#f00"><circle cx="155.6" cy="104.7" r="1.6"/></g>
<g fill="#0f0"><circle cx="215.4" cy="113.4" r="1.6"/><circle cx="186.6" cy="104.5" r="1.6"/><circle cx="413.2" cy="71.9" r="1.6"/></g>
<g fill="#f00"><circle cx="229.1" cy="61.8" r="1.6"/><circle cx="386.5" cy="54.9" r="1.6"/><circle cx="92.9" cy="104.4" r="1.6"/></g>
<g fill="#0f0"><circle cx="257.8" cy="69.1" r="1.6"/></g>
<g fill="#f00"><circle cx="296.2" cy="41.6" r="1.6"/></g>
<g fill="#0f0"><circle cx="191.9" cy="80.8" r="1.6"/></g>
<g fill="#f00"><circle cx="358.1" cy="40.5" r="1.6"/></g>
<g fill="#0f0"><circle cx="254.5" cy="77.5" r="1.6"/><circle cx="411.5" cy="72.0" r="1.6"/><circle cx="288.7" cy="65.8" r="1.6"/></g>
<g fill="#f00"><circle cx="228.7" cy="57.4" r="1.6"/></g>
<g fill="#0f0"><circle cx="258.4" cy="61.7" r="1.6"/></g>
<g fill="#f00"><circle cx="153.0" cy="104.7" r="1.6"/></g>
<g fill="#0f0"><circle cx="348.5" cy="70.9" r="1.6"/></g>
<g fill="#f00"><circle cx="185.4" cy="97.6" r="1.6"/><circle cx="191.9" cy="72.3" r="1.6"/></g>
<g fill="#0f0"><circle cx="189.3" cy="82.0" r="1.6"/><circle cx="287.0" cy="65.9" r="1.6"/></g>
<g fill="#f00"><circle cx="227.0" cy="57.5" r="1.6"/><circle cx="260.9" cy="46.5" r="1.6"/><circle cx="157.2" cy="83.5" r="1.6"/><circle cx="151.5" cy="103.3" r="1.6"/></g>
<g fill="#0f0"><circle cx="187.2" cy="86.4" r="1.6"/><circle cx="377.7" cy="72.7" r="1.6"/><circle cx="255.8" cy="62.9" r="1.6"/></g>
<g fill="#f00"><circle cx="258.4" cy="52.7" r="1.6"/></g>
<g fill="#0f0"><circle cx="346.8" cy="71.1" r="1.6"/></g>
<g fill="#f00"><circle cx="189.8" cy="75.9" r="1.6"/><circle cx="190.1" cy="74.3" r="1.6"/></g>
<g fill="#0f0"><circle cx="210.3" cy="113.9" r="1.6"/><circle cx="253.2" cy="70.0" r="1.6"/><circle cx="377.7" cy="68.9" r="1.6"/></g>
<g fill="#f00"><circle cx="182.8" cy="97.7" r="1.6"/><circle cx="189.3" cy="73.6" r="1.6"/></g>
<g fill="#0f0"><circle cx="376.0" cy="72.8" r="1.6"/></g>
<g fill="#f00"><circle cx="187.4" cy="79.0" r="1.6"/><circle cx="154.6" cy="85.0" r="1.6"/></g>
<g fill="#0f0"><circle cx="251.5" cy="70.2" r="1.6"/></g>
<g fill="#f00"><circle cx="148.9" cy="103.9" r="1.6"/><circle cx="255.8" cy="53.9" r="1.6"/></g>
<g fill="#0f0"><circle cx="253.1" cy="63.6" r="1.6"/></g>
<g fill="#f00"><circle cx="411.5" cy="52.9" r="1.6"/><circle cx="148.0" cy="105.7" r="1.6"/></g>
<g fill="#0f0"><circle cx="207.8" cy="114.3" r="1.6"/></g>
<g fill="#f00"><circle cx="221.0" cy="64.6" r="1.6"/></g>
<g fill="#0f0"><circle cx="312.6" cy="69.5" r="1.6"/></g>
<g fill="#f00"><circle cx="180.3" cy="97.7" r="1.6"/></g>
<g fill="#0f0"><circle cx="217.5" cy="74.9" r="1.6"/></g>
<g fill="#f00"><circle cx="319.3" cy="43.2" r="1.6"/><circle cx="349.8" cy="43.3" r="1.6"/><circle cx="208.5" cy="105.0" r="1.6"/><circle cx="146.4" cy="104.1" r="1.6"/><circle cx="219.3" cy="64.8" r="1.6"/><circle cx="253.1" cy="54.6" r="1.6"/></g>
<g fill="#0f0"><circle cx="404.2" cy="71.2" r="1.6"/></g>
<g fill="#f00"><circle cx="145.4" cy="106.6" r="1.6"/></g>
<g fill="#0f0"><circle cx="311.0" cy="69.7" r="1.6"/></g>
<g fill="#f00"><circle cx="377.7" cy="51.9" r="1.6"/></g>
<g fill="#0f0"><circle cx="205.3" cy="113.7" r="1.6"/><circle cx="181.5" cy="86.0" r="1.6"/><circle cx="246.7" cy="74.3" r="1.6"/><circle cx="214.8" cy="76.9" r="1.6"/></g>
<g fill="#f00"><circle cx="177.8" cy="98.4" r="1.6"/><circle cx="313.4" cy="57.4" r="1.6"/><circle cx="217.5" cy="66.5" r="1.6"/></g>
<g fill="#0f0"><circle cx="402.5" cy="71.4" r="1.6"/></g>
<g fill="#f00"><circle cx="407.8" cy="50.8" r="1.6"/><circle cx="205.9" cy="105.2" r="1.6"/><circle cx="376.0" cy="52.1" r="1.6"/><circle cx="143.9" cy="104.2" r="1.6"/></g>
<g fill="#0f0"><circle cx="145.1" cy="98.7" r="1.6"/></g>
<g fill="#f00"><circle cx="142.9" cy="106.2" r="1.6"/></g>
<g fill="#0f0"><circle cx="178.9" cy="88.2" r="1.6"/></g>
<g fill="#f00"><circle cx="181.5" cy="76.8" r="1.6"/><circle cx="214.8" cy="68.5" r="1.6"/><circle cx="247.8" cy="61.2" r="1.6"/><circle cx="315.2" cy="42.1" r="1.6"/><circle cx="406.1" cy="50.9" r="1.6"/></g>
<g fill="#0f0"><circle cx="368.0" cy="73.5" r="1.6"/></g>
<g fill="#f00"><circle cx="145.1" cy="91.6" r="1.6"/><circle cx="203.4" cy="106.0" r="1.6"/><circle cx="404.2" cy="54.0" r="1.6"/><circle cx="141.3" cy="104.6" r="1.6"/></g>
<g fill="#0f0"><circle cx="369.9" cy="64.7" r="1.6"/></g>
<g fill="#f00"><circle cx="140.3" cy="106.8" r="1.6"/></g>
<g fill="#0f0"><circle cx="142.5" cy="98.7" r="1.6"/></g>
<g fill="#f00"><circle cx="178.9" cy="79.0" r="1.6"/></g>
<g fill="#0f0"><circle cx="200.2" cy="114.7" r="1.6"/></g>
<g fill="#f00"><circle cx="404.1" cy="51.2" r="1.6"/></g>
<g fill="#0f0"><circle cx="366.3" cy="73.7" r="1.6"/></g>
<g fill="#f00"><circle cx="402.5" cy="54.1" r="1.6"/></g>
<g fill="#0f0"><circle cx="368.2" cy="64.8" r="1.6"/></g>
<g fill="#f00"><circle cx="138.8" cy="105.3" r="1.6"/><circle cx="142.5" cy="91.6" r="1.6"/><circle cx="402.4" cy="51.4" r="1.6"/></g>
<g fill="#0f0"><circle cx="241.5" cy="70.3" r="1.6"/></g>
<g fill="#f00"><circle cx="200.9" cy="105.4" r="1.6"/></g>
<g fill="#0f0"><circle cx="139.8" cy="100.2" r="1.6"/></g>
<g fill="#f00"><circle cx="372.3" cy="46.5" r="1.6"/><circle cx="169.6" cy="105.0" r="1.6"/><circle cx="137.8" cy="106.7" r="1.6"/><circle cx="169.2" cy="101.2" r="1.6"/><circle cx="403.0" cy="42.5" r="1.6"/><circle cx="370.6" cy="46.6" r="1.6"/></g>
<g fill="#0f0"><circle cx="396.1" cy="67.4" r="1.6"/></g>
<g fill="#f00"><circle cx="139.8" cy="93.1" r="1.6"/><circle cx="274.9" cy="54.2" r="1.6"/></g>
<g fill="#0f0"><circle cx="238.9" cy="72.3" r="1.6"/></g>
<g fill="#f00"><circle cx="136.2" cy="105.6" r="1.6"/><circle cx="241.5" cy="61.6" r="1.6"/><circle cx="135.3" cy="107.3" r="1.6"/><circle cx="167.1" cy="104.4" r="1.6"/></g>
<g fill="#0f0"><circle cx="195.1" cy="115.6" r="1.6"/><circle cx="394.4" cy="67.6" r="1.6"/><circle cx="202.9" cy="84.5" r="1.6"/></g>
<g fill="#f00"><circle cx="366.3" cy="55.8" r="1.6"/><circle cx="166.6" cy="101.4" r="1.6"/><circle cx="238.9" cy="63.6" r="1.6"/><circle cx="195.8" cy="106.8" r="1.6"/></g>
<g fill="#0f0"><circle cx="234.5" cy="78.7" r="1.6"/></g>
<g fill="#f00"><circle cx="133.7" cy="105.8" r="1.6"/><circle cx="164.5" cy="105.9" r="1.6"/><circle cx="238.5" cy="61.9" r="1.6"/></g>
<g fill="#0f0"><circle cx="201.7" cy="82.6" r="1.6"/><circle cx="201.2" cy="84.7" r="1.6"/></g>
<g fill="#f00"><circle cx="132.7" cy="107.2" r="1.6"/></g>
<g fill="#0f0"><circle cx="232.8" cy="78.9" r="1.6"/></g>
<g fill="#f00"><circle cx="164.1" cy="102.2" r="1.6"/></g>
<g fill="#0f0"><circle cx="360.0" cy="68.0" r="1.6"/><circle cx="420.4" cy="72.8" r="1.6"/></g>
<g fill="#f00"><circle cx="193.2" cy="106.6" r="1.6"/><circle cx="131.2" cy="105.1" r="1.6"/><circle cx="393.6" cy="55.4" r="1.6"/><circle cx="201.7" cy="74.2" r="1.6"/><circle cx="162.0" cy="105.9" r="1.6"/></g>
<g fill="#0f0"><circle cx="199.1" cy="83.7" r="1.6"/></g>
<g fill="#f00"><circle cx="235.8" cy="62.8" r="1.6"/></g>
<g fill="#0f0"><circle cx="66.1" cy="114.5" r="1.6"/></g>
<g fill="#f00"><circle cx="365.3" cy="43.6" r="1.6"/><circle cx="66.1" cy="113.2" r="1.6"/></g>
<g fill="#0f0"><circle cx="358.3" cy="68.1" r="1.6"/><circle cx="164.4" cy="94.3" r="1.6"/><circle cx="224.2" cy="102.9" r="1.6"/><circle cx="265.6" cy="65.2" r="1.6"/><circle cx="418.7" cy="72.9" r="1.6"/></g>
<g fill="#f00"><circle cx="331.6" cy="48.6" r="1.6"/><circle cx="161.6" cy="101.7" r="1.6"/><circle cx="234.1" cy="62.9" r="1.6"/><circle cx="190.7" cy="107.6" r="1.6"/></g>
<g fill="#0f0"><circle cx="196.1" cy="87.5" r="1.6"/></g>
<g fill="#f00"><circle cx="128.6" cy="106.3" r="1.6"/></g>
<g fill="#0f0"><circle cx="261.7" cy="74.8" r="1.6"/><circle cx="196.4" cy="85.1" r="1.6"/></g>
<g fill="#f00"><circle cx="199.1" cy="75.3" r="1.6"/><circle cx="159.5" cy="106.3" r="1.6"/><circle cx="164.4" cy="86.5" r="1.6"/><circle cx="66.2" cy="104.1" r="1.6"/></g>
<g fill="#0f0"><circle cx="62.7" cy="115.9" r="1.6"/></g>
<g fill="#f00"><circle cx="329.9" cy="48.7" r="1.6"/><circle cx="265.6" cy="56.2" r="1.6"/></g>
<g fill="#0f0"><circle cx="262.9" cy="65.8" r="1.6"/></g>
<g fill="#f00"><circle cx="197.3" cy="77.5" r="1.6"/><circle cx="62.7" cy="114.6" r="1.6"/></g>
<g fill="#0f0"><circle cx="194.4" cy="87.6" r="1.6"/></g>
<g fill="#f00"><circle cx="159.0" cy="102.6" r="1.6"/></g>
<g fill="#0f0"><circle cx="384.8" cy="72.3" r="1.6"/><circle cx="65.8" cy="100.4" r="1.6"/></g>
<g fill="#f00"><circle cx="188.2" cy="107.7" r="1.6"/></g>
<g fill="#0f0"><circle cx="260.3" cy="71.0" r="1.6"/></g>
<g fill="#f00"><circle cx="196.4" cy="76.7" r="1.6"/></g>
<g fill="#0f0"><circle cx="61.0" cy="116.7" r="1.6"/></g>
<g fill="#f00"><circle cx="126.1" cy="105.8" r="1.6"/><circle cx="156.9" cy="106.8" r="1.6"/></g>
<g fill="#0f0"><circle cx="291.6" cy="69.4" r="1.6"/></g>
<g fill="#f00"><circle cx="65.8" cy="98.0" r="1.6"/><circle cx="61.0" cy="115.4" r="1.6"/><circle cx="330.4" cy="39.4" r="1.6"/></g>
<g fill="#0f0"><circle cx="159.0" cy="96.7" r="1.6"/><circle cx="59.8" cy="117.8" r="1.6"/><circle cx="260.3" cy="67.2" r="1.6"/><circle cx="64.4" cy="100.5" r="1.6"/></g>
<g fill="#f00"><circle cx="262.9" cy="56.8" r="1.6"/><circle cx="389.4" cy="49.5" r="1.6"/></g>
<g fill="#0f0"><circle cx="383.1" cy="72.4" r="1.6"/><circle cx="59.8" cy="116.8" r="1.6"/><circle cx="219.2" cy="102.4" r="1.6"/><circle cx="258.6" cy="71.2" r="1.6"/></g>
<g fill="#f00"><circle cx="156.5" cy="103.3" r="1.6"/><circle cx="64.4" cy="98.1" r="1.6"/></g>
<g fill="#0f0"><circle cx="289.9" cy="69.5" r="1.6"/></g>
<g fill="#f00"><circle cx="418.7" cy="53.7" r="1.6"/><circle cx="228.2" cy="66.1" r="1.6"/><circle cx="194.2" cy="76.3" r="1.6"/><circle cx="328.7" cy="39.5" r="1.6"/><circle cx="185.6" cy="107.8" r="1.6"/></g>
<g fill="#0f0"><circle cx="62.9" cy="100.6" r="1.6"/></g>
<g fill="#f00"><circle cx="123.5" cy="106.6" r="1.6"/></g>
<g fill="#0f0"><circle cx="224.6" cy="78.2" r="1.6"/><circle cx="58.1" cy="117.8" r="1.6"/><circle cx="58.0" cy="118.0" r="1.6"/></g>
<g fill="#f00"><circle cx="154.4" cy="106.6" r="1.6"/><circle cx="159.0" cy="88.8" r="1.6"/></g>
<g fill="#0f0"><circle cx="58.1" cy="116.4" r="1.6"/></g>
<g fill="#f00"><circle cx="259.9" cy="60.8" r="1.6"/><circle cx="58.0" cy="116.7" r="1.6"/></g>
<g fill="#0f0"><circle cx="188.8" cy="93.3" r="1.6"/></g>
<g fill="#f00"><circle cx="62.9" cy="98.2" r="1.6"/></g>
<g fill="#0f0"><circle cx="319.8" cy="68.7" r="1.6"/></g>
<g fill="#f00"><circle cx="260.3" cy="58.1" r="1.6"/></g>
<g fill="#0f0"><circle cx="315.7" cy="82.2" r="1.6"/><circle cx="216.6" cy="102.9" r="1.6"/><circle cx="61.5" cy="100.8" r="1.6"/></g>
<g fill="#f00"><circle cx="226.5" cy="66.3" r="1.6"/><circle cx="192.5" cy="76.5" r="1.6"/><circle cx="357.0" cy="43.9" r="1.6"/></g>
<g fill="#0f0"><circle cx="411.3" cy="73.0" r="1.6"/></g>
<g fill="#f00"><circle cx="153.9" cy="102.7" r="1.6"/></g>
<g fill="#0f0"><circle cx="56.4" cy="118.0" r="1.6"/></g>
<g fill="#f00"><circle cx="59.0" cy="107.8" r="1.6"/></g>
<g fill="#0f0"><circle cx="59.0" cy="107.8" r="1.6"/><circle cx="188.7" cy="88.4" r="1.6"/></g>
<g fill="#f00"><circle cx="61.5" cy="98.3" r="1.6"/><circle cx="355.6" cy="46.6" r="1.6"/></g>
<g fill="#0f0"><circle cx="56.4" cy="116.6" r="1.6"/></g>
<g fill="#f00"><circle cx="59.0" cy="106.5" r="1.6"/><circle cx="121.0" cy="107.5" r="1.6"/><circle cx="224.6" cy="69.7" r="1.6"/></g>
<g fill="#0f0"><circle cx="221.9" cy="79.5" r="1.6"/></g>
<g fill="#f00"><circle cx="255.0" cy="72.3" r="1.6"/></g>
<g fill="#0f0"><circle cx="318.1" cy="68.9" r="1.6"/></g>
<g fill="#f00"><circle cx="384.8" cy="52.3" r="1.6"/><circle cx="151.8" cy="107.1" r="1.6"/></g>
<g fill="#0f0"><circle cx="409.6" cy="73.1" r="1.6"/></g>
<g fill="#f00"><circle cx="354.6" cy="46.4" r="1.6"/><circle cx="414.9" cy="53.0" r="1.6"/></g>
<g fill="#0f0"><circle cx="54.7" cy="118.5" r="1.6"/><circle cx="316.1" cy="72.0" r="1.6"/><circle cx="54.7" cy="117.3" r="1.6"/><circle cx="214.1" cy="103.1" r="1.6"/></g>
<g fill="#f00"><circle cx="320.5" cy="54.8" r="1.6"/></g>
<g fill="#0f0"><circle cx="152.3" cy="100.5" r="1.6"/></g>
<g fill="#f00"><circle cx="383.1" cy="52.4" r="1.6"/><circle cx="151.4" cy="103.3" r="1.6"/><circle cx="290.7" cy="47.4" r="1.6"/><circle cx="188.7" cy="79.3" r="1.6"/><circle cx="180.5" cy="109.0" r="1.6"/><circle cx="221.9" cy="71.1" r="1.6"/><circle cx="413.2" cy="53.2" r="1.6"/></g>
<g fill="#0f0"><circle cx="219.3" cy="79.6" r="1.6"/></g>
<g fill="#f00"><circle cx="149.3" cy="107.1" r="1.6"/></g>
<g fill="#0f0"><circle cx="313.7" cy="72.4" r="1.6"/></g>
<g fill="#f00"><circle cx="152.3" cy="93.3" r="1.6"/></g>
<g fill="#0f0"><circle cx="211.5" cy="103.9" r="1.6"/><circle cx="375.1" cy="74.5" r="1.6"/><circle cx="149.6" cy="101.4" r="1.6"/><circle cx="216.2" cy="85.2" r="1.6"/><circle cx="183.4" cy="91.3" r="1.6"/></g>
<g fill="#f00"><circle cx="349.4" cy="52.6" r="1.6"/><circle cx="148.9" cy="102.8" r="1.6"/><circle cx="178.0" cy="108.8" r="1.6"/><circle cx="219.3" cy="71.1" r="1.6"/></g>
<g fill="#0f0"><circle cx="373.4" cy="74.6" r="1.6"/></g>
<g fill="#f00"><circle cx="350.2" cy="44.3" r="1.6"/></g>
<g fill="#0f0"><circle cx="214.5" cy="85.4" r="1.6"/></g>
<g fill="#f00"><circle cx="379.4" cy="51.0" r="1.6"/></g>
<g fill="#0f0"><circle cx="248.7" cy="74.0" r="1.6"/></g>
<g fill="#f00"><circle cx="149.6" cy="94.3" r="1.6"/></g>
<g fill="#0f0"><circle cx="209.0" cy="104.6" r="1.6"/><circle cx="147.0" cy="103.5" r="1.6"/></g>
<g fill="#f00"><circle cx="411.2" cy="47.2" r="1.6"/></g>
<g fill="#0f0"><circle cx="180.7" cy="92.0" r="1.6"/></g>
<g fill="#f00"><circle cx="183.4" cy="82.1" r="1.6"/><circle cx="146.3" cy="103.5" r="1.6"/><circle cx="175.5" cy="109.1" r="1.6"/><circle cx="406.0" cy="62.3" r="1.6"/><circle cx="348.5" cy="44.4" r="1.6"/><circle cx="377.7" cy="51.1" r="1.6"/><circle cx="181.6" cy="85.0" r="1.6"/><circle cx="144.2" cy="107.9" r="1.6"/><circle cx="409.5" cy="47.4" r="1.6"/><circle cx="147.0" cy="96.4" r="1.6"/><circle cx="248.7" cy="65.3" r="1.6"/></g>
<g fill="#0f0"><circle cx="400.6" cy="78.3" r="1.6"/></g>
<g fill="#f00"><circle cx="180.7" cy="82.9" r="1.6"/><circle cx="176.9" cy="96.1" r="1.6"/><circle cx="179.9" cy="85.1" r="1.6"/></g>
<g fill="#0f0"><circle cx="243.2" cy="79.7" r="1.6"/></g>
<g fill="#f00"><circle cx="172.9" cy="109.0" r="1.6"/><circle cx="407.1" cy="47.8" r="1.6"/><circle cx="141.7" cy="107.9" r="1.6"/><circle cx="373.4" cy="56.2" r="1.6"/><circle cx="175.2" cy="96.2" r="1.6"/></g>
<g fill="#0f0"><circle cx="203.9" cy="105.0" r="1.6"/><circle cx="208.9" cy="85.6" r="1.6"/><circle cx="241.5" cy="79.8" r="1.6"/></g>
<g fill="#f00"><circle cx="141.2" cy="103.8" r="1.6"/><circle cx="170.4" cy="109.3" r="1.6"/><circle cx="342.6" cy="46.2" r="1.6"/></g>
<g fill="#0f0"><circle cx="107.2" cy="109.1" r="1.6"/></g>
<g fill="#f00"><circle cx="208.9" cy="77.1" r="1.6"/></g>
<g fill="#0f0"><circle cx="201.4" cy="104.5" r="1.6"/><circle cx="206.2" cy="86.6" r="1.6"/></g>
<g fill="#f00"><circle cx="175.9" cy="83.2" r="1.6"/><circle cx="107.2" cy="106.9" r="1.6"/></g>
<g fill="#0f0"><circle cx="427.5" cy="73.6" r="1.6"/><circle cx="73.2" cy="116.4" r="1.6"/></g>
<g fill="#f00"><circle cx="340.9" cy="46.3" r="1.6"/><circle cx="73.2" cy="115.1" r="1.6"/></g>
<g fill="#0f0"><circle cx="171.5" cy="96.9" r="1.6"/></g>
<g fill="#f00"><circle cx="167.8" cy="110.2" r="1.6"/></g>
<g fill="#0f0"><circle cx="272.7" cy="67.1" r="1.6"/></g>
<g fill="#f00"><circle cx="136.6" cy="109.4" r="1.6"/><circle cx="174.2" cy="83.3" r="1.6"/></g>
<g fill="#0f0"><circle cx="425.8" cy="73.8" r="1.6"/><circle cx="198.8" cy="105.7" r="1.6"/><circle cx="203.5" cy="88.2" r="1.6"/></g>
<g fill="#f00"><circle cx="206.2" cy="78.2" r="1.6"/><circle cx="136.2" cy="105.2" r="1.6"/><circle cx="171.5" cy="89.1" r="1.6"/><circle cx="275.2" cy="50.7" r="1.6"/></g>
<g fill="#0f0"><circle cx="270.1" cy="69.2" r="1.6"/></g>
<g fill="#f00"><circle cx="165.3" cy="110.4" r="1.6"/></g>
<g fill="#0f0"><circle cx="69.8" cy="117.8" r="1.6"/></g>
<g fill="#f00"><circle cx="272.7" cy="58.1" r="1.6"/><circle cx="73.3" cy="104.1" r="1.6"/><circle cx="69.8" cy="116.5" r="1.6"/></g>
<g fill="#0f0"><circle cx="73.0" cy="102.3" r="1.6"/></g>
<g fill="#f00"><circle cx="203.5" cy="79.8" r="1.6"/></g>
<g fill="#0f0"><circle cx="391.9" cy="73.6" r="1.6"/><circle cx="196.3" cy="105.9" r="1.6"/><circle cx="68.1" cy="118.6" r="1.6"/></g>
<g fill="#f00"><circle cx="337.5" cy="43.0" r="1.6"/><circle cx="73.0" cy="99.9" r="1.6"/><circle cx="68.1" cy="117.3" r="1.6"/></g>
<g fill="#0f0"><circle cx="166.2" cy="99.2" r="1.6"/></g>
<g fill="#f00"><circle cx="270.1" cy="60.1" r="1.6"/></g>
<g fill="#0f0"><circle cx="267.4" cy="69.4" r="1.6"/><circle cx="66.9" cy="120.0" r="1.6"/></g>
<g fill="#f00"><circle cx="162.8" cy="110.9" r="1.6"/></g>
<g fill="#0f0"><circle cx="71.5" cy="102.5" r="1.6"/><circle cx="390.3" cy="73.8" r="1.6"/><circle cx="66.9" cy="118.0" r="1.6"/></g>
<g fill="#f00"><circle cx="71.5" cy="100.0" r="1.6"/><circle cx="396.6" cy="49.2" r="1.6"/><circle cx="335.8" cy="43.1" r="1.6"/></g>
<g fill="#0f0"><circle cx="231.7" cy="80.5" r="1.6"/><circle cx="193.8" cy="105.7" r="1.6"/><circle cx="70.1" cy="102.6" r="1.6"/></g>
<g fill="#f00"><circle cx="201.3" cy="77.5" r="1.6"/></g>
<g fill="#0f0"><circle cx="65.2" cy="120.1" r="1.6"/><circle cx="65.1" cy="119.9" r="1.6"/></g>
<g fill="#f00"><circle cx="166.2" cy="91.4" r="1.6"/></g>
<g fill="#0f0"><circle cx="264.0" cy="75.1" r="1.6"/><circle cx="98.7" cy="110.2" r="1.6"/><circle cx="65.2" cy="118.8" r="1.6"/></g>
<g fill="#f00"><circle cx="65.1" cy="118.6" r="1.6"/><circle cx="70.1" cy="100.1" r="1.6"/><circle cx="267.4" cy="60.4" r="1.6"/><circle cx="160.2" cy="111.0" r="1.6"/><circle cx="98.7" cy="108.0" r="1.6"/><circle cx="333.6" cy="45.5" r="1.6"/></g>
<g fill="#0f0"><circle cx="418.4" cy="76.7" r="1.6"/><circle cx="68.6" cy="102.7" r="1.6"/><circle cx="63.5" cy="120.5" r="1.6"/></g>
<g fill="#f00"><circle cx="199.6" cy="77.6" r="1.6"/></g>
<g fill="#0f0"><circle cx="66.2" cy="109.7" r="1.6"/></g>
<g fill="#f00"><circle cx="66.2" cy="109.7" r="1.6"/></g>
<g fill="#0f0"><circle cx="195.8" cy="90.8" r="1.6"/></g>
<g fill="#f00"><circle cx="68.6" cy="100.3" r="1.6"/><circle cx="422.0" cy="59.7" r="1.6"/></g>
<g fill="#0f0"><circle cx="63.5" cy="118.8" r="1.6"/></g>
<g fill="#f00"><circle cx="231.7" cy="72.1" r="1.6"/></g>
<g fill="#0f0"><circle cx="191.2" cy="106.6" r="1.6"/></g>
<g fill="#f00"><circle cx="66.2" cy="108.4" r="1.6"/></g>
<g fill="#0f0"><circle cx="229.1" cy="81.4" r="1.6"/><circle cx="416.7" cy="76.8" r="1.6"/></g>
<g fill="#f00"><circle cx="361.7" cy="48.7" r="1.6"/></g>
<g fill="#0f0"><circle cx="61.8" cy="120.1" r="1.6"/></g>
<g fill="#f00"><circle cx="157.7" cy="110.6" r="1.6"/></g>
<g fill="#0f0"><circle cx="261.0" cy="74.1" r="1.6"/></g>
<g fill="#f00"><circle cx="420.4" cy="59.8" r="1.6"/></g>
<g fill="#0f0"><circle cx="61.8" cy="119.0" r="1.6"/><circle cx="159.4" cy="103.2" r="1.6"/><circle cx="193.1" cy="92.3" r="1.6"/></g>
<g fill="#f00"><circle cx="262.1" cy="67.3" r="1.6"/><circle cx="195.8" cy="81.6" r="1.6"/></g>
<g fill="#0f0"><circle cx="226.4" cy="82.9" r="1.6"/></g>
<g fill="#f00"><circle cx="229.1" cy="73.0" r="1.6"/><circle cx="297.9" cy="47.9" r="1.6"/><circle cx="329.5" cy="43.7" r="1.6"/><circle cx="159.4" cy="96.1" r="1.6"/></g>
<g fill="#0f0"><circle cx="156.8" cy="104.7" r="1.6"/><circle cx="384.2" cy="68.8" r="1.6"/><circle cx="190.5" cy="93.8" r="1.6"/><circle cx="382.3" cy="75.3" r="1.6"/></g>
<g fill="#f00"><circle cx="193.1" cy="83.2" r="1.6"/><circle cx="418.4" cy="55.8" r="1.6"/><circle cx="294.3" cy="53.7" r="1.6"/><circle cx="226.4" cy="74.4" r="1.6"/></g>
<g fill="#0f0"><circle cx="186.1" cy="107.0" r="1.6"/><circle cx="382.5" cy="69.0" r="1.6"/><circle cx="255.8" cy="76.9" r="1.6"/></g>
<g fill="#f00"><circle cx="156.8" cy="97.6" r="1.6"/></g>
<g fill="#0f0"><circle cx="380.6" cy="75.5" r="1.6"/><circle cx="154.1" cy="106.6" r="1.6"/></g>
<g fill="#f00"><circle cx="416.7" cy="55.9" r="1.6"/><circle cx="292.6" cy="53.9" r="1.6"/><circle cx="190.5" cy="84.6" r="1.6"/></g>
<g fill="#0f0"><circle cx="121.6" cy="108.4" r="1.6"/><circle cx="183.6" cy="107.5" r="1.6"/></g>
<g fill="#f00"><circle cx="121.6" cy="106.2" r="1.6"/><circle cx="154.1" cy="99.5" r="1.6"/><circle cx="255.8" cy="68.2" r="1.6"/></g>
<g fill="#0f0"><circle cx="253.1" cy="76.9" r="1.6"/><circle cx="407.7" cy="80.2" r="1.6"/><circle cx="316.9" cy="70.1" r="1.6"/><circle cx="250.3" cy="85.4" r="1.6"/></g>
<g fill="#f00"><circle cx="187.8" cy="85.3" r="1.6"/><circle cx="414.2" cy="52.2" r="1.6"/></g>
<g fill="#0f0"><circle cx="181.1" cy="107.0" r="1.6"/><circle cx="248.7" cy="85.7" r="1.6"/><circle cx="315.2" cy="70.3" r="1.6"/><circle cx="250.5" cy="78.8" r="1.6"/><circle cx="248.6" cy="85.5" r="1.6"/></g>
<g fill="#f00"><circle cx="253.1" cy="68.2" r="1.6"/><circle cx="380.6" cy="56.6" r="1.6"/></g>
<g fill="#0f0"><circle cx="217.1" cy="84.6" r="1.6"/></g>
<g fill="#f00"><circle cx="320.8" cy="45.4" r="1.6"/></g>
<g fill="#0f0"><circle cx="216.0" cy="87.4" r="1.6"/><circle cx="280.9" cy="77.2" r="1.6"/></g>
<g fill="#f00"><circle cx="252.8" cy="65.4" r="1.6"/><circle cx="251.8" cy="68.9" r="1.6"/></g>
<g fill="#0f0"><circle cx="247.1" cy="85.8" r="1.6"/><circle cx="374.3" cy="73.7" r="1.6"/><circle cx="215.4" cy="84.7" r="1.6"/></g>
<g fill="#f00"><circle cx="250.5" cy="70.1" r="1.6"/></g>
<g fill="#0f0"><circle cx="406.8" cy="67.3" r="1.6"/></g>
<g fill="#f00"><circle cx="349.7" cy="47.4" r="1.6"/></g>
<g fill="#0f0"><circle cx="279.2" cy="77.3" r="1.6"/><circle cx="213.3" cy="89.1" r="1.6"/></g>
<g fill="#f00"><circle cx="216.0" cy="79.0" r="1.6"/></g>
<g fill="#0f0"><circle cx="434.6" cy="75.2" r="1.6"/><circle cx="372.6" cy="73.8" r="1.6"/><circle cx="80.3" cy="118.4" r="1.6"/><circle cx="244.6" cy="86.5" r="1.6"/><circle cx="178.6" cy="100.0" r="1.6"/><circle cx="405.1" cy="67.4" r="1.6"/></g>
<g fill="#f00"><circle cx="80.3" cy="117.0" r="1.6"/></g>
<g fill="#0f0"><circle cx="279.9" cy="69.8" r="1.6"/></g>
<g fill="#f00"><circle cx="407.9" cy="56.6" r="1.6"/></g>
<g fill="#0f0"><circle cx="176.0" cy="108.0" r="1.6"/></g>
<g fill="#f00"><circle cx="348.1" cy="47.5" r="1.6"/></g>
<g fill="#0f0"><circle cx="432.9" cy="75.3" r="1.6"/><circle cx="242.9" cy="86.6" r="1.6"/></g>
<g fill="#f00"><circle cx="213.3" cy="80.7" r="1.6"/></g>
<g fill="#0f0"><circle cx="210.7" cy="89.9" r="1.6"/></g>
<g fill="#f00"><circle cx="178.6" cy="92.2" r="1.6"/></g>
<g fill="#0f0"><circle cx="210.3" cy="89.0" r="1.6"/><circle cx="176.0" cy="100.7" r="1.6"/><circle cx="277.2" cy="71.2" r="1.6"/></g>
<g fill="#f00"><circle cx="408.8" cy="44.6" r="1.6"/></g>
<g fill="#0f0"><circle cx="369.9" cy="73.0" r="1.6"/></g>
<g fill="#f00"><circle cx="279.9" cy="60.8" r="1.6"/></g>
<g fill="#0f0"><circle cx="76.9" cy="119.7" r="1.6"/></g>
<g fill="#f00"><circle cx="76.9" cy="118.4" r="1.6"/></g>
<g fill="#0f0"><circle cx="274.6" cy="78.1" r="1.6"/></g>
<g fill="#f00"><circle cx="211.2" cy="81.4" r="1.6"/></g>
<g fill="#0f0"><circle cx="399.1" cy="76.2" r="1.6"/><circle cx="80.1" cy="104.3" r="1.6"/><circle cx="208.6" cy="89.1" r="1.6"/></g>
<g fill="#f00"><circle cx="210.7" cy="81.5" r="1.6"/></g>
<g fill="#0f0"><circle cx="75.3" cy="120.6" r="1.6"/></g>
<g fill="#f00"><circle cx="407.1" cy="44.7" r="1.6"/></g>
<g fill="#0f0"><circle cx="368.2" cy="73.1" r="1.6"/><circle cx="173.3" cy="102.8" r="1.6"/></g>
<g fill="#f00"><circle cx="176.0" cy="92.9" r="1.6"/><circle cx="80.1" cy="101.8" r="1.6"/><circle cx="75.3" cy="119.3" r="1.6"/></g>
<g fill="#0f0"><circle cx="274.5" cy="72.7" r="1.6"/><circle cx="272.9" cy="78.2" r="1.6"/><circle cx="74.0" cy="122.6" r="1.6"/></g>
<g fill="#f00"><circle cx="277.2" cy="62.2" r="1.6"/><circle cx="404.6" cy="51.3" r="1.6"/></g>
<g fill="#0f0"><circle cx="74.0" cy="121.7" r="1.6"/><circle cx="170.9" cy="108.8" r="1.6"/><circle cx="78.6" cy="104.4" r="1.6"/><circle cx="335.7" cy="74.4" r="1.6"/><circle cx="397.4" cy="76.4" r="1.6"/><circle cx="74.0" cy="120.4" r="1.6"/></g>
<g fill="#f00"><circle cx="78.6" cy="102.0" r="1.6"/><circle cx="432.9" cy="56.9" r="1.6"/></g>
<g fill="#0f0"><circle cx="238.9" cy="83.1" r="1.6"/></g>
<g fill="#f00"><circle cx="173.3" cy="95.0" r="1.6"/></g>
<g fill="#0f0"><circle cx="77.2" cy="104.5" r="1.6"/><circle cx="72.3" cy="121.9" r="1.6"/><circle cx="72.2" cy="121.9" r="1.6"/><circle cx="334.0" cy="74.6" r="1.6"/></g>
<g fill="#f00"><circle cx="274.5" cy="63.6" r="1.6"/></g>
<g fill="#0f0"><circle cx="72.3" cy="120.4" r="1.6"/></g>
<g fill="#f00"><circle cx="72.2" cy="120.6" r="1.6"/><circle cx="242.4" cy="66.9" r="1.6"/><circle cx="77.2" cy="102.1" r="1.6"/></g>
<g fill="#0f0"><circle cx="329.9" cy="87.9" r="1.6"/></g>
<g fill="#f00"><circle cx="371.2" cy="50.3" r="1.6"/></g>
<g fill="#0f0"><circle cx="270.8" cy="76.3" r="1.6"/><circle cx="70.7" cy="124.5" r="1.6"/><circle cx="427.5" cy="71.0" r="1.6"/><circle cx="75.7" cy="104.6" r="1.6"/></g>
<g fill="#f00"><circle cx="429.2" cy="64.0" r="1.6"/></g>
<g fill="#0f0"><circle cx="202.9" cy="93.4" r="1.6"/><circle cx="70.7" cy="121.7" r="1.6"/><circle cx="73.3" cy="111.6" r="1.6"/></g>
<g fill="#f00"><circle cx="75.7" cy="102.2" r="1.6"/><circle cx="238.9" cy="74.6" r="1.6"/></g>
<g fill="#0f0"><circle cx="70.7" cy="120.6" r="1.6"/></g>
<g fill="#f00"><circle cx="240.7" cy="67.0" r="1.6"/><circle cx="73.3" cy="110.3" r="1.6"/></g>
<g fill="#0f0"><circle cx="236.2" cy="83.6" r="1.6"/><circle cx="202.1" cy="94.0" r="1.6"/><circle cx="425.6" cy="73.6" r="1.6"/><circle cx="269.1" cy="76.4" r="1.6"/><circle cx="69.0" cy="124.6" r="1.6"/></g>
<g fill="#f00"><circle cx="427.5" cy="64.1" r="1.6"/><circle cx="368.8" cy="50.8" r="1.6"/></g>
<g fill="#0f0"><circle cx="69.0" cy="122.4" r="1.6"/><circle cx="165.8" cy="109.5" r="1.6"/></g>
<g fill="#f00"><circle cx="334.8" cy="60.0" r="1.6"/></g>
<g fill="#0f0"><circle cx="166.5" cy="105.2" r="1.6"/><circle cx="69.0" cy="120.6" r="1.6"/><circle cx="200.4" cy="94.1" r="1.6"/><circle cx="423.9" cy="73.7" r="1.6"/><circle cx="200.3" cy="94.2" r="1.6"/></g>
<g fill="#f00"><circle cx="202.9" cy="84.2" r="1.6"/><circle cx="236.1" cy="76.3" r="1.6"/><circle cx="269.2" cy="68.2" r="1.6"/></g>
<g fill="#0f0"><circle cx="233.5" cy="85.0" r="1.6"/></g>
<g fill="#f00"><circle cx="236.2" cy="75.2" r="1.6"/><circle cx="166.5" cy="98.1" r="1.6"/></g>
<g fill="#0f0"><circle cx="163.3" cy="109.8" r="1.6"/><circle cx="328.0" cy="75.3" r="1.6"/><circle cx="197.6" cy="95.9" r="1.6"/><circle cx="264.6" cy="77.6" r="1.6"/></g>
<g fill="#f00"><circle cx="200.3" cy="85.1" r="1.6"/><circle cx="425.6" cy="57.3" r="1.6"/><circle cx="233.5" cy="76.5" r="1.6"/><circle cx="163.9" cy="100.0" r="1.6"/></g>
<g fill="#0f0"><circle cx="262.9" cy="78.7" r="1.6"/><circle cx="195.0" cy="98.4" r="1.6"/></g>
<g fill="#f00"><circle cx="423.9" cy="57.4" r="1.6"/><circle cx="197.6" cy="86.7" r="1.6"/><circle cx="420.3" cy="68.1" r="1.6"/><circle cx="161.2" cy="101.9" r="1.6"/><circle cx="262.9" cy="70.0" r="1.6"/></g>
<g fill="#0f0"><circle cx="260.3" cy="79.7" r="1.6"/><circle cx="416.7" cy="76.0" r="1.6"/></g>
<g fill="#f00"><circle cx="191.2" cy="103.5" r="1.6"/><circle cx="195.0" cy="89.2" r="1.6"/><circle cx="296.3" cy="57.7" r="1.6"/></g>
<g fill="#0f0"><circle cx="415.0" cy="76.1" r="1.6"/><circle cx="224.3" cy="90.4" r="1.6"/></g>
<g fill="#f00"><circle cx="189.5" cy="103.7" r="1.6"/><circle cx="260.3" cy="71.0" r="1.6"/></g>
<g fill="#0f0"><circle cx="255.9" cy="83.0" r="1.6"/><circle cx="222.6" cy="90.5" r="1.6"/></g>
<g fill="#f00"><circle cx="258.9" cy="68.7" r="1.6"/><circle cx="257.6" cy="72.7" r="1.6"/></g>
<g fill="#0f0"><circle cx="254.2" cy="83.1" r="1.6"/></g>
<g fill="#f00"><circle cx="223.1" cy="82.2" r="1.6"/><circle cx="257.2" cy="71.2" r="1.6"/><circle cx="190.2" cy="86.8" r="1.6"/><circle cx="353.0" cy="59.4" r="1.6"/></g>
<g fill="#0f0"><circle cx="87.5" cy="120.3" r="1.6"/></g>
<g fill="#f00"><circle cx="87.5" cy="119.0" r="1.6"/><circle cx="386.7" cy="48.3" r="1.6"/><circle cx="415.0" cy="58.2" r="1.6"/><circle cx="255.5" cy="71.3" r="1.6"/></g>
<g fill="#0f0"><circle cx="251.7" cy="84.2" r="1.6"/><circle cx="317.2" cy="71.9" r="1.6"/></g>
<g fill="#f00"><circle cx="188.5" cy="86.9" r="1.6"/><circle cx="220.5" cy="83.4" r="1.6"/><circle cx="351.3" cy="59.5" r="1.6"/></g>
<g fill="#0f0"><circle cx="283.1" cy="80.5" r="1.6"/></g>
<g fill="#f00"><circle cx="185.8" cy="94.4" r="1.6"/></g>
<g fill="#0f0"><circle cx="183.1" cy="103.5" r="1.6"/></g>
<g fill="#f00"><circle cx="87.6" cy="111.0" r="1.6"/><circle cx="415.3" cy="50.1" r="1.6"/></g>
<g fill="#0f0"><circle cx="284.3" cy="73.5" r="1.6"/><circle cx="250.1" cy="84.4" r="1.6"/><circle cx="315.5" cy="72.0" r="1.6"/><circle cx="215.7" cy="95.6" r="1.6"/><circle cx="84.1" cy="121.7" r="1.6"/><circle cx="407.7" cy="76.2" r="1.6"/></g>
<g fill="#f00"><circle cx="84.1" cy="120.3" r="1.6"/></g>
<g fill="#0f0"><circle cx="217.5" cy="86.9" r="1.6"/><circle cx="406.2" cy="78.7" r="1.6"/></g>
<g fill="#f00"><circle cx="218.7" cy="81.0" r="1.6"/></g>
<g fill="#0f0"><circle cx="87.2" cy="106.2" r="1.6"/></g>
<g fill="#f00"><circle cx="218.3" cy="81.8" r="1.6"/><circle cx="216.0" cy="90.2" r="1.6"/></g>
<g fill="#0f0"><circle cx="180.5" cy="105.6" r="1.6"/></g>
<g fill="#f00"><circle cx="183.1" cy="95.7" r="1.6"/></g>
<g fill="#0f0"><circle cx="82.4" cy="122.5" r="1.6"/></g>
<g fill="#f00"><circle cx="87.2" cy="103.8" r="1.6"/><circle cx="82.4" cy="121.2" r="1.6"/><circle cx="284.3" cy="64.5" r="1.6"/></g>
<g fill="#0f0"><circle cx="281.7" cy="73.7" r="1.6"/><circle cx="215.8" cy="87.0" r="1.6"/><circle cx="81.2" cy="123.8" r="1.6"/><circle cx="85.8" cy="106.3" r="1.6"/><circle cx="404.5" cy="78.9" r="1.6"/></g>
<g fill="#f00"><circle cx="285.4" cy="58.6" r="1.6"/><circle cx="348.2" cy="56.5" r="1.6"/></g>
<g fill="#0f0"><circle cx="81.2" cy="122.5" r="1.6"/><circle cx="313.0" cy="69.9" r="1.6"/></g>
<g fill="#f00"><circle cx="85.8" cy="103.9" r="1.6"/><circle cx="215.6" cy="83.1" r="1.6"/><circle cx="180.5" cy="97.8" r="1.6"/></g>
<g fill="#0f0"><circle cx="246.0" cy="85.5" r="1.6"/><circle cx="113.0" cy="115.8" r="1.6"/><circle cx="342.8" cy="71.6" r="1.6"/><circle cx="84.3" cy="106.4" r="1.6"/></g>
<g fill="#f00"><circle cx="249.6" cy="71.0" r="1.6"/></g>
<g fill="#0f0"><circle cx="79.5" cy="123.5" r="1.6"/><circle cx="277.9" cy="80.4" r="1.6"/><circle cx="79.4" cy="123.8" r="1.6"/></g>
<g fill="#f00"><circle cx="283.7" cy="58.8" r="1.6"/></g>
<g fill="#0f0"><circle cx="341.2" cy="76.1" r="1.6"/></g>
<g fill="#f00"><circle cx="113.0" cy="113.6" r="1.6"/></g>
<g fill="#0f0"><circle cx="79.5" cy="122.2" r="1.6"/></g>
<g fill="#f00"><circle cx="378.4" cy="53.1" r="1.6"/><circle cx="79.4" cy="122.5" r="1.6"/><circle cx="84.3" cy="104.0" r="1.6"/><circle cx="281.7" cy="64.7" r="1.6"/><circle cx="316.1" cy="52.3" r="1.6"/></g>
<g fill="#0f0"><circle cx="311.3" cy="70.0" r="1.6"/><circle cx="77.8" cy="126.4" r="1.6"/></g>
<g fill="#f00"><circle cx="213.9" cy="83.3" r="1.6"/></g>
<g fill="#0f0"><circle cx="432.7" cy="79.4" r="1.6"/><circle cx="82.9" cy="106.5" r="1.6"/><circle cx="434.6" cy="71.9" r="1.6"/><circle cx="210.1" cy="96.2" r="1.6"/><circle cx="341.1" cy="71.8" r="1.6"/></g>
<g fill="#f00"><circle cx="247.9" cy="71.2" r="1.6"/></g>
<g fill="#0f0"><circle cx="77.8" cy="123.8" r="1.6"/><circle cx="276.2" cy="80.5" r="1.6"/><circle cx="80.5" cy="113.6" r="1.6"/></g>
<g fill="#f00"><circle cx="246.0" cy="77.0" r="1.6"/></g>
<g fill="#0f0"><circle cx="77.8" cy="123.0" r="1.6"/><circle cx="339.5" cy="76.2" r="1.6"/></g>
<g fill="#f00"><circle cx="82.9" cy="104.1" r="1.6"/></g>
<g fill="#0f0"><circle cx="243.3" cy="86.3" r="1.6"/></g>
<g fill="#f00"><circle cx="80.5" cy="112.3" r="1.6"/><circle cx="314.5" cy="52.4" r="1.6"/></g>
<g fill="#0f0"><circle cx="209.3" cy="94.9" r="1.6"/><circle cx="76.1" cy="126.5" r="1.6"/><circle cx="431.0" cy="79.5" r="1.6"/><circle cx="173.7" cy="109.0" r="1.6"/><circle cx="76.1" cy="124.1" r="1.6"/><circle cx="275.2" cy="78.4" r="1.6"/></g>
<g fill="#f00"><circle cx="376.0" cy="51.1" r="1.6"/></g>
<g fill="#0f0"><circle cx="76.1" cy="122.8" r="1.6"/><circle cx="207.4" cy="97.0" r="1.6"/></g>
<g fill="#f00"><circle cx="210.1" cy="87.1" r="1.6"/><circle cx="341.9" cy="59.0" r="1.6"/></g>
<g fill="#0f0"><circle cx="207.6" cy="95.1" r="1.6"/></g>
<g fill="#f00"><circle cx="243.3" cy="77.8" r="1.6"/></g>
<g fill="#0f0"><circle cx="240.7" cy="87.4" r="1.6"/><circle cx="337.5" cy="73.4" r="1.6"/></g>
<g fill="#f00"><circle cx="173.7" cy="101.9" r="1.6"/><circle cx="276.4" cy="66.8" r="1.6"/></g>
<g fill="#0f0"><circle cx="171.0" cy="109.9" r="1.6"/><circle cx="105.7" cy="119.9" r="1.6"/></g>
<g fill="#f00"><circle cx="207.4" cy="87.9" r="1.6"/></g>
<g fill="#0f0"><circle cx="396.5" cy="78.7" r="1.6"/></g>
<g fill="#f00"><circle cx="105.7" cy="117.7" r="1.6"/><circle cx="240.7" cy="79.0" r="1.6"/><circle cx="432.7" cy="59.5" r="1.6"/><circle cx="308.6" cy="56.9" r="1.6"/><circle cx="371.6" cy="53.4" r="1.6"/></g>
<g fill="#0f0"><circle cx="398.5" cy="68.8" r="1.6"/></g>
<g fill="#f00"><circle cx="370.8" cy="55.1" r="1.6"/><circle cx="171.0" cy="102.8" r="1.6"/></g>
<g fill="#0f0"><circle cx="270.1" cy="82.0" r="1.6"/></g>
<g fill="#f00"><circle cx="432.6" cy="55.1" r="1.6"/></g>
<g fill="#0f0"><circle cx="168.4" cy="111.0" r="1.6"/><circle cx="394.9" cy="78.8" r="1.6"/></g>
<g fill="#f00"><circle cx="431.0" cy="59.7" r="1.6"/></g>
<g fill="#0f0"><circle cx="202.1" cy="99.8" r="1.6"/></g>
<g fill="#f00"><circle cx="306.9" cy="57.0" r="1.6"/><circle cx="369.9" cy="53.5" r="1.6"/></g>
<g fill="#0f0"><circle cx="396.8" cy="69.0" r="1.6"/></g>
<g fill="#f00"><circle cx="427.4" cy="69.0" r="1.6"/><circle cx="430.9" cy="55.2" r="1.6"/></g>
<g fill="#0f0"><circle cx="267.4" cy="83.5" r="1.6"/></g>
<g fill="#f00"><circle cx="270.1" cy="73.3" r="1.6"/><circle cx="168.4" cy="103.9" r="1.6"/><circle cx="198.3" cy="104.8" r="1.6"/></g>
<g fill="#0f0"><circle cx="423.9" cy="76.6" r="1.6"/></g>
<g fill="#f00"><circle cx="202.1" cy="90.6" r="1.6"/></g>
<g fill="#0f0"><circle cx="361.5" cy="74.3" r="1.6"/></g>
<g fill="#f00"><circle cx="335.1" cy="55.9" r="1.6"/><circle cx="267.4" cy="74.8" r="1.6"/></g>
<g fill="#0f0"><circle cx="231.4" cy="92.7" r="1.6"/></g>
<g fill="#f00"><circle cx="428.5" cy="54.8" r="1.6"/></g>
<g fill="#0f0"><circle cx="264.7" cy="84.0" r="1.6"/></g>
<g fill="#f00"><circle cx="196.6" cy="105.0" r="1.6"/></g>
<g fill="#0f0"><circle cx="422.2" cy="76.7" r="1.6"/></g>
<g fill="#f00"><circle cx="101.9" cy="107.9" r="1.6"/></g>
<g fill="#0f0"><circle cx="359.8" cy="74.4" r="1.6"/></g>
<g fill="#f00"><circle cx="394.9" cy="59.6" r="1.6"/></g>
<g fill="#0f0"><circle cx="230.3" cy="91.8" r="1.6"/><circle cx="229.7" cy="92.9" r="1.6"/><circle cx="421.1" cy="75.6" r="1.6"/></g>
<g fill="#f00"><circle cx="266.0" cy="71.0" r="1.6"/><circle cx="264.7" cy="75.3" r="1.6"/><circle cx="364.0" cy="52.1" r="1.6"/></g>
<g fill="#0f0"><circle cx="388.6" cy="75.3" r="1.6"/><circle cx="419.4" cy="75.8" r="1.6"/><circle cx="227.6" cy="93.4" r="1.6"/></g>
<g fill="#f00"><circle cx="230.3" cy="83.4" r="1.6"/><circle cx="197.3" cy="88.8" r="1.6"/></g>
<g fill="#0f0"><circle cx="192.9" cy="104.7" r="1.6"/><circle cx="94.6" cy="122.2" r="1.6"/></g>
<g fill="#f00"><circle cx="264.3" cy="70.2" r="1.6"/></g>
<g fill="#0f0"><circle cx="294.1" cy="75.1" r="1.6"/></g>
<g fill="#f00"><circle cx="362.3" cy="52.3" r="1.6"/><circle cx="94.6" cy="120.9" r="1.6"/><circle cx="422.2" cy="60.2" r="1.6"/></g>
<g fill="#0f0"><circle cx="386.9" cy="75.4" r="1.6"/></g>
<g fill="#f00"><circle cx="195.6" cy="89.0" r="1.6"/><circle cx="227.6" cy="85.0" r="1.6"/><circle cx="262.6" cy="70.3" r="1.6"/></g>
<g fill="#0f0"><circle cx="225.0" cy="94.4" r="1.6"/></g>
<g fill="#f00"><circle cx="192.9" cy="96.8" r="1.6"/></g>
<g fill="#0f0"><circle cx="190.2" cy="106.6" r="1.6"/></g>
<g fill="#f00"><circle cx="423.1" cy="50.0" r="1.6"/><circle cx="294.1" cy="66.0" r="1.6"/></g>
<g fill="#0f0"><circle cx="384.2" cy="76.6" r="1.6"/><circle cx="91.2" cy="123.6" r="1.6"/></g>
<g fill="#f00"><circle cx="296.6" cy="54.4" r="1.6"/><circle cx="91.2" cy="122.3" r="1.6"/><circle cx="225.0" cy="85.9" r="1.6"/></g>
<g fill="#0f0"><circle cx="94.4" cy="108.1" r="1.6"/></g>
<g fill="#f00"><circle cx="421.4" cy="50.2" r="1.6"/><circle cx="190.2" cy="98.7" r="1.6"/></g>
<g fill="#0f0"><circle cx="187.6" cy="107.7" r="1.6"/></g>
<g fill="#f00"><circle cx="389.3" cy="52.5" r="1.6"/></g>
<g fill="#0f0"><circle cx="89.5" cy="124.4" r="1.6"/><circle cx="320.1" cy="77.3" r="1.6"/><circle cx="413.4" cy="77.9" r="1.6"/><circle cx="382.5" cy="76.8" r="1.6"/></g>
<g fill="#f00"><circle cx="94.4" cy="105.7" r="1.6"/></g>
<g fill="#0f0"><circle cx="288.8" cy="77.2" r="1.6"/></g>
<g fill="#f00"><circle cx="355.3" cy="61.3" r="1.6"/><circle cx="89.5" cy="123.1" r="1.6"/><circle cx="291.5" cy="67.1" r="1.6"/></g>
<g fill="#0f0"><circle cx="88.3" cy="126.5" r="1.6"/><circle cx="88.3" cy="125.8" r="1.6"/><circle cx="412.1" cy="79.4" r="1.6"/><circle cx="92.9" cy="108.2" r="1.6"/></g>
<g fill="#f00"><circle cx="418.9" cy="53.5" r="1.6"/></g>
<g fill="#0f0"><circle cx="88.3" cy="124.5" r="1.6"/></g>
<g fill="#f00"><circle cx="418.0" cy="55.7" r="1.6"/><circle cx="387.6" cy="52.7" r="1.6"/><circle cx="92.9" cy="105.8" r="1.6"/></g>
<g fill="#0f0"><circle cx="318.4" cy="77.4" r="1.6"/><circle cx="411.7" cy="78.0" r="1.6"/><circle cx="120.1" cy="119.2" r="1.6"/></g>
<g fill="#f00"><circle cx="187.6" cy="99.8" r="1.6"/></g>
<g fill="#0f0"><circle cx="253.1" cy="87.4" r="1.6"/><circle cx="285.4" cy="83.3" r="1.6"/><circle cx="251.6" cy="92.7" r="1.6"/></g>
<g fill="#f00"><circle cx="222.7" cy="83.7" r="1.6"/></g>
<g fill="#0f0"><circle cx="91.5" cy="108.4" r="1.6"/></g>
<g fill="#f00"><circle cx="120.1" cy="117.0" r="1.6"/></g>
<g fill="#0f0"><circle cx="86.6" cy="125.6" r="1.6"/><circle cx="410.4" cy="79.5" r="1.6"/><circle cx="86.5" cy="125.7" r="1.6"/></g>
<g fill="#f00"><circle cx="288.8" cy="68.2" r="1.6"/></g>
<g fill="#0f0"><circle cx="86.6" cy="124.3" r="1.6"/></g>
<g fill="#f00"><circle cx="86.5" cy="124.4" r="1.6"/><circle cx="91.5" cy="105.9" r="1.6"/></g>
<g fill="#0f0"><circle cx="84.9" cy="128.2" r="1.6"/><circle cx="90.0" cy="108.5" r="1.6"/><circle cx="217.1" cy="99.0" r="1.6"/><circle cx="84.9" cy="126.6" r="1.6"/></g>
<g fill="#f00"><circle cx="221.1" cy="83.8" r="1.6"/></g>
<g fill="#0f0"><circle cx="217.2" cy="97.8" r="1.6"/><circle cx="439.8" cy="79.4" r="1.6"/><circle cx="250.5" cy="88.9" r="1.6"/><circle cx="87.6" cy="115.5" r="1.6"/><circle cx="84.9" cy="125.3" r="1.6"/></g>
<g fill="#f00"><circle cx="253.1" cy="78.9" r="1.6"/><circle cx="90.0" cy="106.1" r="1.6"/></g>
<g fill="#0f0"><circle cx="84.9" cy="124.6" r="1.6"/></g>
<g fill="#f00"><circle cx="87.6" cy="114.2" r="1.6"/></g>
<g fill="#0f0"><circle cx="344.2" cy="85.9" r="1.6"/><circle cx="83.2" cy="128.2" r="1.6"/></g>
<g fill="#f00"><circle cx="443.5" cy="62.5" r="1.6"/></g>
<g fill="#0f0"><circle cx="180.8" cy="110.9" r="1.6"/><circle cx="83.2" cy="125.7" r="1.6"/><circle cx="438.1" cy="79.6" r="1.6"/><circle cx="83.2" cy="124.9" r="1.6"/></g>
<g fill="#f00"><circle cx="283.5" cy="74.2" r="1.6"/><circle cx="217.2" cy="88.7" r="1.6"/><circle cx="250.5" cy="80.4" r="1.6"/></g>
<g fill="#0f0"><circle cx="247.8" cy="89.5" r="1.6"/></g>
<g fill="#f00"><circle cx="441.8" cy="62.6" r="1.6"/><circle cx="319.3" cy="55.0" r="1.6"/><circle cx="443.5" cy="54.4" r="1.6"/><circle cx="180.8" cy="103.7" r="1.6"/></g>
<g fill="#0f0"><circle cx="278.9" cy="85.0" r="1.6"/><circle cx="112.9" cy="122.4" r="1.6"/><circle cx="211.9" cy="100.4" r="1.6"/></g>
<g fill="#f00"><circle cx="112.9" cy="120.2" r="1.6"/></g>
<g fill="#0f0"><circle cx="405.6" cy="73.4" r="1.6"/></g>
<g fill="#f00"><circle cx="247.8" cy="81.0" r="1.6"/><circle cx="441.8" cy="54.5" r="1.6"/><circle cx="334.4" cy="106.2" r="1.6"/></g>
<g fill="#0f0"><circle cx="403.7" cy="78.9" r="1.6"/><circle cx="244.8" cy="90.5" r="1.6"/></g>
<g fill="#f00"><circle cx="178.2" cy="105.3" r="1.6"/></g>
<g fill="#0f0"><circle cx="277.2" cy="84.1" r="1.6"/><circle cx="403.9" cy="73.5" r="1.6"/></g>
<g fill="#f00"><circle cx="332.7" cy="106.3" r="1.6"/></g>
<g fill="#0f0"><circle cx="209.2" cy="101.8" r="1.6"/></g>
<g fill="#f00"><circle cx="408.0" cy="57.5" r="1.6"/><circle cx="439.7" cy="55.0" r="1.6"/><circle cx="211.9" cy="91.2" r="1.6"/></g>
<g fill="#0f0"><circle cx="402.0" cy="79.0" r="1.6"/><circle cx="243.1" cy="90.7" r="1.6"/></g>
<g fill="#f00"><circle cx="434.5" cy="73.0" r="1.6"/></g>
<g fill="#0f0"><circle cx="143.0" cy="111.8" r="1.6"/><circle cx="274.5" cy="85.7" r="1.6"/></g>
<g fill="#f00"><circle cx="277.2" cy="75.4" r="1.6"/></g>
<g fill="#0f0"><circle cx="338.3" cy="79.3" r="1.6"/></g>
<g fill="#f00"><circle cx="406.3" cy="57.6" r="1.6"/><circle cx="438.0" cy="55.1" r="1.6"/><circle cx="211.0" cy="88.3" r="1.6"/><circle cx="143.0" cy="109.6" r="1.6"/><circle cx="210.1" cy="91.4" r="1.6"/><circle cx="209.2" cy="92.6" r="1.6"/></g>
<g fill="#0f0"><circle cx="336.6" cy="79.4" r="1.6"/></g>
<g fill="#f00"><circle cx="209.3" cy="88.5" r="1.6"/><circle cx="208.4" cy="91.5" r="1.6"/></g>
<g fill="#0f0"><circle cx="271.9" cy="86.9" r="1.6"/></g>
<g fill="#f00"><circle cx="274.5" cy="77.0" r="1.6"/><circle cx="109.0" cy="113.1" r="1.6"/><circle cx="207.6" cy="93.1" r="1.6"/><circle cx="205.4" cy="101.1" r="1.6"/></g>
<g fill="#0f0"><circle cx="238.5" cy="92.2" r="1.6"/><circle cx="293.6" cy="118.6" r="1.6"/></g>
<g fill="#f00"><circle cx="402.0" cy="61.8" r="1.6"/></g>
<g fill="#0f0"><circle cx="304.2" cy="77.3" r="1.6"/><circle cx="239.1" cy="86.7" r="1.6"/></g>
<g fill="#f00"><circle cx="203.8" cy="101.2" r="1.6"/><circle cx="371.1" cy="57.2" r="1.6"/><circle cx="271.9" cy="78.2" r="1.6"/></g>
<g fill="#0f0"><circle cx="236.8" cy="92.3" r="1.6"/><circle cx="302.5" cy="77.4" r="1.6"/></g>
<g fill="#f00"><circle cx="273.2" cy="70.3" r="1.6"/></g>
<g fill="#0f0"><circle cx="395.7" cy="77.1" r="1.6"/><circle cx="291.0" cy="118.4" r="1.6"/><circle cx="234.7" cy="96.3" r="1.6"/></g>
<g fill="#f00"><circle cx="237.4" cy="86.3" r="1.6"/><circle cx="369.5" cy="57.4" r="1.6"/></g>
<g fill="#0f0"><circle cx="200.0" cy="107.8" r="1.6"/></g>
<g fill="#f00"><circle cx="339.0" cy="53.2" r="1.6"/></g>
<g fill="#0f0"><circle cx="362.3" cy="82.0" r="1.6"/></g>
<g fill="#f00"><circle cx="271.5" cy="72.3" r="1.6"/></g>
<g fill="#0f0"><circle cx="101.7" cy="124.1" r="1.6"/><circle cx="266.0" cy="91.2" r="1.6"/></g>
<g fill="#f00"><circle cx="101.7" cy="122.8" r="1.6"/></g>
<g fill="#0f0"><circle cx="456.0" cy="78.2" r="1.6"/><circle cx="394.0" cy="77.2" r="1.6"/></g>
<g fill="#f00"><circle cx="429.3" cy="60.2" r="1.6"/></g>
<g fill="#0f0"><circle cx="231.7" cy="100.0" r="1.6"/></g>
<g fill="#f00"><circle cx="430.2" cy="56.5" r="1.6"/><circle cx="234.7" cy="87.9" r="1.6"/></g>
<g fill="#0f0"><circle cx="256.3" cy="122.8" r="1.6"/></g>
<g fill="#f00"><circle cx="303.7" cy="62.3" r="1.6"/><circle cx="269.8" cy="72.5" r="1.6"/><circle cx="200.0" cy="99.9" r="1.6"/><circle cx="367.3" cy="56.4" r="1.6"/><circle cx="323.2" cy="104.0" r="1.6"/></g>
<g fill="#0f0"><circle cx="264.3" cy="91.3" r="1.6"/><circle cx="197.4" cy="108.5" r="1.6"/><circle cx="454.3" cy="78.3" r="1.6"/><circle cx="391.3" cy="80.2" r="1.6"/></g>
<g fill="#f00"><circle cx="301.3" cy="68.0" r="1.6"/></g>
<g fill="#0f0"><circle cx="230.0" cy="100.1" r="1.6"/></g>
<g fill="#f00"><circle cx="428.5" cy="56.6" r="1.6"/></g>
<g fill="#0f0"><circle cx="98.3" cy="125.5" r="1.6"/></g>
<g fill="#f00"><circle cx="98.3" cy="124.2" r="1.6"/><circle cx="365.6" cy="56.6" r="1.6"/><circle cx="321.5" cy="104.1" r="1.6"/></g>
<g fill="#0f0"><circle cx="286.0" cy="119.3" r="1.6"/><circle cx="253.8" cy="122.5" r="1.6"/><circle cx="101.5" cy="110.1" r="1.6"/></g>
<g fill="#f00"><circle cx="197.4" cy="100.6" r="1.6"/></g>
<g fill="#0f0"><circle cx="389.6" cy="80.4" r="1.6"/><circle cx="96.7" cy="126.4" r="1.6"/><circle cx="295.9" cy="79.8" r="1.6"/></g>
<g fill="#f00"><circle cx="426.0" cy="59.1" r="1.6"/></g>
<g fill="#0f0"><circle cx="420.5" cy="79.6" r="1.6"/></g>
<g fill="#f00"><circle cx="101.5" cy="107.6" r="1.6"/><circle cx="298.6" cy="69.6" r="1.6"/><circle cx="96.7" cy="125.0" r="1.6"/></g>
<g fill="#0f0"><circle cx="95.4" cy="128.4" r="1.6"/><circle cx="95.4" cy="127.2" r="1.6"/><circle cx="100.0" cy="110.2" r="1.6"/><circle cx="95.4" cy="125.9" r="1.6"/></g>
<g fill="#f00"><circle cx="263.8" cy="78.9" r="1.6"/><circle cx="425.1" cy="58.2" r="1.6"/><circle cx="100.0" cy="107.7" r="1.6"/></g>
<g fill="#0f0"><circle cx="419.2" cy="78.6" r="1.6"/><circle cx="418.8" cy="79.7" r="1.6"/><circle cx="260.3" cy="90.3" r="1.6"/><circle cx="251.3" cy="123.0" r="1.6"/><circle cx="292.5" cy="85.1" r="1.6"/><circle cx="93.8" cy="128.5" r="1.6"/><circle cx="98.6" cy="110.3" r="1.6"/></g>
<g fill="#f00"><circle cx="295.9" cy="70.8" r="1.6"/></g>
<g fill="#0f0"><circle cx="93.8" cy="127.4" r="1.6"/><circle cx="93.6" cy="127.7" r="1.6"/><circle cx="93.8" cy="126.7" r="1.6"/></g>
<g fill="#f00"><circle cx="262.1" cy="79.0" r="1.6"/><circle cx="93.6" cy="126.3" r="1.6"/><circle cx="98.6" cy="107.9" r="1.6"/></g>
<g fill="#0f0"><circle cx="417.5" cy="78.7" r="1.6"/><circle cx="92.1" cy="130.2" r="1.6"/><circle cx="416.6" cy="81.0" r="1.6"/></g>
<g fill="#f00"><circle cx="450.6" cy="70.4" r="1.6"/></g>
<g fill="#0f0"><circle cx="351.3" cy="91.9" r="1.6"/><circle cx="292.2" cy="80.1" r="1.6"/><circle cx="97.1" cy="110.4" r="1.6"/><circle cx="224.4" cy="99.7" r="1.6"/></g>
<g fill="#f00"><circle cx="260.3" cy="81.8" r="1.6"/><circle cx="94.7" cy="118.0" r="1.6"/></g>
<g fill="#0f0"><circle cx="92.1" cy="127.7" r="1.6"/><circle cx="224.2" cy="99.3" r="1.6"/><circle cx="94.7" cy="117.4" r="1.6"/><circle cx="280.9" cy="119.4" r="1.6"/></g>
<g fill="#f00"><circle cx="97.1" cy="108.0" r="1.6"/></g>
<g fill="#0f0"><circle cx="248.7" cy="122.9" r="1.6"/><circle cx="92.1" cy="126.6" r="1.6"/></g>
<g fill="#f00"><circle cx="94.7" cy="116.1" r="1.6"/></g>
<g fill="#0f0"><circle cx="447.0" cy="79.4" r="1.6"/></g>
<g fill="#f00"><circle cx="390.2" cy="58.9" r="1.6"/><circle cx="420.5" cy="62.1" r="1.6"/></g>
<g fill="#0f0"><circle cx="188.0" cy="114.8" r="1.6"/><circle cx="90.4" cy="130.1" r="1.6"/></g>
<g fill="#f00"><circle cx="290.7" cy="80.2" r="1.6"/></g>
<g fill="#0f0"><circle cx="414.9" cy="81.1" r="1.6"/></g>
<g fill="#f00"><circle cx="448.9" cy="70.6" r="1.6"/></g>
<g fill="#0f0"><circle cx="290.5" cy="80.2" r="1.6"/><circle cx="90.4" cy="128.0" r="1.6"/><circle cx="90.4" cy="126.4" r="1.6"/><circle cx="221.7" cy="101.0" r="1.6"/><circle cx="445.3" cy="79.5" r="1.6"/></g>
<g fill="#f00"><circle cx="224.4" cy="90.5" r="1.6"/><circle cx="418.8" cy="62.2" r="1.6"/></g>
<g fill="#0f0"><circle cx="278.4" cy="119.9" r="1.6"/><circle cx="246.2" cy="123.3" r="1.6"/></g>
<g fill="#f00"><circle cx="188.0" cy="107.7" r="1.6"/><circle cx="356.2" cy="60.7" r="1.6"/></g>
<g fill="#0f0"><circle cx="185.3" cy="115.5" r="1.6"/></g>
<g fill="#f00"><circle cx="221.7" cy="91.9" r="1.6"/></g>
<g fill="#0f0"><circle cx="243.6" cy="124.3" r="1.6"/></g>
<g fill="#f00"><circle cx="322.8" cy="61.8" r="1.6"/></g>
<g fill="#0f0"><circle cx="410.8" cy="81.2" r="1.6"/><circle cx="412.7" cy="73.7" r="1.6"/></g>
<g fill="#f00"><circle cx="185.3" cy="108.4" r="1.6"/></g>
<g fill="#0f0"><circle cx="182.6" cy="116.2" r="1.6"/></g>
<g fill="#f00"><circle cx="447.0" cy="59.2" r="1.6"/><circle cx="311.1" cy="100.2" r="1.6"/></g>
<g fill="#0f0"><circle cx="216.4" cy="104.5" r="1.6"/></g>
<g fill="#f00"><circle cx="321.1" cy="61.9" r="1.6"/></g>
<g fill="#0f0"><circle cx="409.1" cy="81.3" r="1.6"/><circle cx="411.0" cy="73.8" r="1.6"/><circle cx="273.3" cy="120.9" r="1.6"/></g>
<g fill="#f00"><circle cx="218.2" cy="94.3" r="1.6"/></g>
<g fill="#0f0"><circle cx="241.1" cy="124.0" r="1.6"/><circle cx="150.1" cy="114.8" r="1.6"/></g>
<g fill="#f00"><circle cx="445.3" cy="59.3" r="1.6"/><circle cx="182.6" cy="109.1" r="1.6"/><circle cx="284.3" cy="78.4" r="1.6"/></g>
<g fill="#0f0"><circle cx="281.7" cy="88.2" r="1.6"/></g>
<g fill="#f00"><circle cx="309.4" cy="100.4" r="1.6"/><circle cx="150.1" cy="112.6" r="1.6"/></g>
<g fill="#0f0"><circle cx="436.3" cy="90.6" r="1.6"/></g>
<g fill="#f00"><circle cx="216.4" cy="95.3" r="1.6"/><circle cx="216.5" cy="94.4" r="1.6"/><circle cx="217.2" cy="91.2" r="1.6"/></g>
<g fill="#0f0"><circle cx="438.1" cy="78.8" r="1.6"/><circle cx="238.6" cy="124.4" r="1.6"/></g>
<g fill="#f00"><circle cx="212.6" cy="104.9" r="1.6"/></g>
<g fill="#0f0"><circle cx="279.0" cy="89.6" r="1.6"/></g>
<g fill="#f00"><circle cx="281.7" cy="79.5" r="1.6"/></g>
<g fill="#0f0"><circle cx="311.3" cy="83.6" r="1.6"/><circle cx="246.2" cy="93.4" r="1.6"/></g>
<g fill="#f00"><circle cx="116.1" cy="113.9" r="1.6"/><circle cx="214.8" cy="94.4" r="1.6"/><circle cx="215.6" cy="91.4" r="1.6"/><circle cx="349.3" cy="56.2" r="1.6"/></g>
<g fill="#0f0"><circle cx="436.4" cy="79.0" r="1.6"/><circle cx="244.5" cy="97.2" r="1.6"/><circle cx="245.7" cy="93.0" r="1.6"/></g>
<g fill="#f00"><circle cx="248.2" cy="83.5" r="1.6"/></g>
<g fill="#0f0"><circle cx="402.8" cy="86.7" r="1.6"/></g>
<g fill="#f00"><circle cx="210.9" cy="105.1" r="1.6"/><circle cx="409.1" cy="61.3" r="1.6"/></g>
<g fill="#0f0"><circle cx="309.6" cy="83.8" r="1.6"/><circle cx="268.2" cy="121.6" r="1.6"/><circle cx="236.0" cy="124.8" r="1.6"/><circle cx="309.5" cy="83.5" r="1.6"/></g>
<g fill="#f00"><circle cx="279.0" cy="80.9" r="1.6"/><circle cx="280.3" cy="75.4" r="1.6"/></g>
<g fill="#0f0"><circle cx="244.0" cy="93.2" r="1.6"/><circle cx="401.1" cy="86.9" r="1.6"/><circle cx="142.8" cy="119.5" r="1.6"/></g>
<g fill="#f00"><circle cx="244.5" cy="88.8" r="1.6"/></g>
<g fill="#0f0"><circle cx="241.9" cy="98.4" r="1.6"/><circle cx="207.2" cy="111.0" r="1.6"/><circle cx="307.8" cy="83.6" r="1.6"/></g>
<g fill="#f00"><circle cx="142.8" cy="117.3" r="1.6"/></g>
<g fill="#0f0"><circle cx="308.4" cy="79.7" r="1.6"/><circle cx="108.9" cy="126.1" r="1.6"/><circle cx="265.7" cy="121.7" r="1.6"/><circle cx="233.5" cy="125.3" r="1.6"/></g>
<g fill="#f00"><circle cx="108.9" cy="124.8" r="1.6"/></g>
<g fill="#0f0"><circle cx="463.2" cy="80.3" r="1.6"/></g>
<g fill="#f00"><circle cx="408.1" cy="53.1" r="1.6"/><circle cx="311.5" cy="64.6" r="1.6"/><circle cx="436.4" cy="63.1" r="1.6"/><circle cx="209.7" cy="95.2" r="1.6"/></g>
<g fill="#0f0"><circle cx="273.2" cy="90.5" r="1.6"/><circle cx="239.2" cy="100.1" r="1.6"/></g>
<g fill="#f00"><circle cx="207.2" cy="103.1" r="1.6"/><circle cx="241.9" cy="89.9" r="1.6"/></g>
<g fill="#0f0"><circle cx="204.5" cy="112.6" r="1.6"/></g>
<g fill="#f00"><circle cx="437.3" cy="55.9" r="1.6"/></g>
<g fill="#0f0"><circle cx="304.5" cy="85.7" r="1.6"/><circle cx="305.7" cy="81.0" r="1.6"/><circle cx="461.5" cy="80.4" r="1.6"/></g>
<g fill="#f00"><circle cx="308.4" cy="70.7" r="1.6"/><circle cx="374.4" cy="56.5" r="1.6"/></g>
<g fill="#0f0"><circle cx="231.0" cy="125.4" r="1.6"/></g>
<g fill="#f00"><circle cx="208.0" cy="95.3" r="1.6"/><circle cx="330.4" cy="103.1" r="1.6"/></g>
<g fill="#0f0"><circle cx="271.5" cy="90.6" r="1.6"/><circle cx="295.9" cy="114.3" r="1.6"/><circle cx="105.5" cy="127.5" r="1.6"/></g>
<g fill="#f00"><circle cx="310.9" cy="58.6" r="1.6"/><circle cx="105.5" cy="126.1" r="1.6"/><circle cx="239.2" cy="91.6" r="1.6"/><circle cx="204.5" cy="104.8" r="1.6"/><circle cx="435.6" cy="56.1" r="1.6"/></g>
<g fill="#0f0"><circle cx="201.9" cy="113.6" r="1.6"/></g>
<g fill="#f00"><circle cx="372.7" cy="56.7" r="1.6"/><circle cx="239.7" cy="87.9" r="1.6"/></g>
<g fill="#0f0"><circle cx="108.6" cy="112.0" r="1.6"/></g>
<g fill="#f00"><circle cx="298.0" cy="101.9" r="1.6"/><circle cx="328.7" cy="103.2" r="1.6"/></g>
<g fill="#0f0"><circle cx="102.6" cy="133.3" r="1.6"/><circle cx="303.1" cy="82.4" r="1.6"/></g>
<g fill="#f00"><circle cx="237.4" cy="95.0" r="1.6"/><circle cx="433.2" cy="61.7" r="1.6"/></g>
<g fill="#0f0"><circle cx="103.8" cy="128.3" r="1.6"/></g>
<g fill="#f00"><circle cx="305.7" cy="71.9" r="1.6"/><circle cx="108.6" cy="109.6" r="1.6"/><circle cx="103.8" cy="127.0" r="1.6"/></g>
<g fill="#0f0"><circle cx="260.6" cy="122.3" r="1.6"/><circle cx="228.4" cy="125.9" r="1.6"/></g>
<g fill="#f00"><circle cx="373.2" cy="51.0" r="1.6"/></g>
<g fill="#0f0"><circle cx="102.6" cy="130.1" r="1.6"/><circle cx="102.6" cy="129.2" r="1.6"/><circle cx="107.2" cy="112.1" r="1.6"/></g>
<g fill="#f00"><circle cx="327.5" cy="102.7" r="1.6"/></g>
<g fill="#0f0"><circle cx="102.6" cy="127.9" r="1.6"/><circle cx="427.7" cy="76.7" r="1.6"/></g>
<g fill="#f00"><circle cx="201.9" cy="105.7" r="1.6"/></g>
<g fill="#0f0"><circle cx="100.9" cy="133.1" r="1.6"/></g>
<g fill="#f00"><circle cx="107.2" cy="109.7" r="1.6"/><circle cx="432.2" cy="57.8" r="1.6"/></g>
<g fill="#0f0"><circle cx="267.4" cy="91.6" r="1.6"/></g>
<g fill="#f00"><circle cx="337.6" cy="62.2" r="1.6"/></g>
<g fill="#0f0"><circle cx="364.2" cy="78.5" r="1.6"/></g>
<g fill="#f00"><circle cx="371.5" cy="51.2" r="1.6"/><circle cx="303.1" cy="73.4" r="1.6"/></g>
<g fill="#0f0"><circle cx="105.7" cy="112.2" r="1.6"/><circle cx="231.6" cy="106.6" r="1.6"/><circle cx="100.9" cy="129.5" r="1.6"/></g>
<g fill="#f00"><circle cx="461.5" cy="62.5" r="1.6"/></g>
<g fill="#0f0"><circle cx="100.8" cy="129.6" r="1.6"/><circle cx="362.6" cy="81.8" r="1.6"/><circle cx="100.9" cy="128.1" r="1.6"/><circle cx="225.9" cy="126.2" r="1.6"/><circle cx="258.0" cy="122.4" r="1.6"/></g>
<g fill="#f00"><circle cx="100.8" cy="128.3" r="1.6"/><circle cx="105.7" cy="109.8" r="1.6"/></g>
<g fill="#0f0"><circle cx="99.2" cy="133.5" r="1.6"/><circle cx="231.4" cy="104.2" r="1.6"/><circle cx="358.5" cy="94.6" r="1.6"/><circle cx="99.2" cy="132.1" r="1.6"/><circle cx="290.8" cy="114.1" r="1.6"/><circle cx="231.5" cy="102.9" r="1.6"/></g>
<g fill="#f00"><circle cx="335.9" cy="62.3" r="1.6"/></g>
<g fill="#0f0"><circle cx="362.5" cy="78.6" r="1.6"/><circle cx="104.3" cy="112.3" r="1.6"/></g>
<g fill="#f00"><circle cx="267.4" cy="83.2" r="1.6"/></g>
<g fill="#0f0"><circle cx="264.7" cy="92.9" r="1.6"/><circle cx="99.2" cy="129.3" r="1.6"/></g>
<g fill="#f00"><circle cx="457.7" cy="70.0" r="1.6"/></g>
<g fill="#0f0"><circle cx="101.9" cy="119.4" r="1.6"/><circle cx="454.1" cy="82.9" r="1.6"/></g>
<g fill="#f00"><circle cx="104.3" cy="109.9" r="1.6"/></g>
<g fill="#0f0"><circle cx="360.9" cy="81.9" r="1.6"/><circle cx="99.2" cy="128.2" r="1.6"/></g>
<g fill="#f00"><circle cx="101.9" cy="118.0" r="1.6"/></g>
<g fill="#0f0"><circle cx="97.5" cy="133.2" r="1.6"/><circle cx="423.7" cy="78.0" r="1.6"/><circle cx="296.6" cy="87.0" r="1.6"/><circle cx="97.5" cy="132.2" r="1.6"/><circle cx="195.1" cy="116.7" r="1.6"/></g>
<g fill="#f00"><circle cx="291.9" cy="104.0" r="1.6"/></g>
<g fill="#0f0"><circle cx="255.5" cy="123.3" r="1.6"/></g>
<g fill="#f00"><circle cx="427.6" cy="62.0" r="1.6"/></g>
<g fill="#0f0"><circle cx="223.3" cy="126.1" r="1.6"/></g>
<g fill="#f00"><circle cx="322.3" cy="105.0" r="1.6"/></g>
<g fill="#0f0"><circle cx="97.5" cy="129.9" r="1.6"/></g>
<g fill="#f00"><circle cx="291.7" cy="102.3" r="1.6"/><circle cx="456.0" cy="70.1" r="1.6"/></g>
<g fill="#0f0"><circle cx="288.3" cy="114.5" r="1.6"/><circle cx="452.4" cy="83.0" r="1.6"/></g>
<g fill="#f00"><circle cx="297.8" cy="79.1" r="1.6"/></g>
<g fill="#0f0"><circle cx="228.8" cy="103.7" r="1.6"/></g>
<g fill="#f00"><circle cx="231.5" cy="93.8" r="1.6"/><circle cx="363.3" cy="66.6" r="1.6"/></g>
<g fill="#0f0"><circle cx="97.5" cy="128.4" r="1.6"/><circle cx="262.1" cy="95.0" r="1.6"/></g>
<g fill="#f00"><circle cx="264.7" cy="84.4" r="1.6"/></g>
<g fill="#0f0"><circle cx="422.0" cy="78.2" r="1.6"/></g>
<g fill="#f00"><circle cx="290.2" cy="104.1" r="1.6"/><circle cx="425.9" cy="62.1" r="1.6"/><circle cx="365.2" cy="56.5" r="1.6"/><circle cx="195.1" cy="109.6" r="1.6"/><circle cx="333.6" cy="57.5" r="1.6"/><circle cx="320.6" cy="105.2" r="1.6"/><circle cx="264.6" cy="81.6" r="1.6"/></g>
<g fill="#0f0"><circle cx="192.4" cy="117.2" r="1.6"/><circle cx="253.0" cy="123.6" r="1.6"/><circle cx="220.8" cy="126.8" r="1.6"/><circle cx="226.2" cy="105.1" r="1.6"/><circle cx="285.7" cy="115.0" r="1.6"/><circle cx="356.5" cy="83.4" r="1.6"/></g>
<g fill="#f00"><circle cx="228.8" cy="94.5" r="1.6"/><circle cx="262.1" cy="86.5" r="1.6"/></g>
<g fill="#0f0"><circle cx="419.9" cy="75.4" r="1.6"/></g>
<g fill="#f00"><circle cx="192.4" cy="110.1" r="1.6"/></g>
<g fill="#0f0"><circle cx="189.8" cy="119.0" r="1.6"/></g>
<g fill="#f00"><circle cx="454.1" cy="61.9" r="1.6"/></g>
<g fill="#0f0"><circle cx="250.4" cy="124.1" r="1.6"/><circle cx="218.3" cy="127.7" r="1.6"/></g>
<g fill="#f00"><circle cx="348.6" cy="105.2" r="1.6"/></g>
<g fill="#0f0"><circle cx="283.2" cy="115.6" r="1.6"/></g>
<g fill="#f00"><circle cx="318.3" cy="101.0" r="1.6"/><circle cx="226.2" cy="96.0" r="1.6"/></g>
<g fill="#0f0"><circle cx="418.2" cy="75.5" r="1.6"/><circle cx="350.0" cy="96.9" r="1.6"/></g>
<g fill="#f00"><circle cx="448.8" cy="76.9" r="1.6"/><circle cx="452.4" cy="62.0" r="1.6"/><circle cx="189.8" cy="111.8" r="1.6"/></g>
<g fill="#0f0"><circle cx="288.8" cy="91.0" r="1.6"/></g>
<g fill="#f00"><circle cx="291.5" cy="80.7" r="1.6"/><circle cx="346.9" cy="105.3" r="1.6"/></g>
<g fill="#0f0"><circle cx="347.5" cy="102.9" r="1.6"/></g>
<g fill="#f00"><circle cx="316.6" cy="101.1" r="1.6"/></g>
<g fill="#0f0"><circle cx="247.9" cy="124.3" r="1.6"/><circle cx="215.7" cy="127.8" r="1.6"/></g>
<g fill="#f00"><circle cx="223.5" cy="97.6" r="1.6"/></g>
<g fill="#0f0"><circle cx="280.6" cy="115.5" r="1.6"/><circle cx="382.9" cy="81.7" r="1.6"/><circle cx="445.3" cy="80.7" r="1.6"/><circle cx="286.1" cy="92.2" r="1.6"/></g>
<g fill="#f00"><circle cx="288.8" cy="82.3" r="1.6"/></g>
<g fill="#0f0"><circle cx="245.3" cy="124.6" r="1.6"/></g>
<g fill="#f00"><circle cx="123.3" cy="115.4" r="1.6"/></g>
<g fill="#0f0"><circle cx="381.2" cy="81.9" r="1.6"/><circle cx="213.2" cy="127.4" r="1.6"/><circle cx="443.6" cy="80.8" r="1.6"/><circle cx="251.7" cy="98.9" r="1.6"/><circle cx="278.1" cy="115.9" r="1.6"/><circle cx="284.4" cy="92.4" r="1.6"/></g>
<g fill="#f00"><circle cx="416.3" cy="63.5" r="1.6"/><circle cx="286.1" cy="83.4" r="1.6"/><circle cx="287.4" cy="75.8" r="1.6"/></g>
<g fill="#0f0"><circle cx="282.7" cy="92.5" r="1.6"/></g>
<g fill="#f00"><circle cx="385.4" cy="58.0" r="1.6"/></g>
<g fill="#0f0"><circle cx="210.6" cy="127.7" r="1.6"/><circle cx="376.6" cy="89.5" r="1.6"/></g>
<g fill="#f00"><circle cx="251.7" cy="90.4" r="1.6"/></g>
<g fill="#0f0"><circle cx="214.3" cy="113.2" r="1.6"/><circle cx="275.6" cy="116.2" r="1.6"/><circle cx="315.5" cy="82.8" r="1.6"/><circle cx="116.0" cy="128.0" r="1.6"/></g>
<g fill="#f00"><circle cx="383.7" cy="58.1" r="1.6"/><circle cx="285.7" cy="74.9" r="1.6"/><circle cx="116.0" cy="126.7" r="1.6"/></g>
<g fill="#0f0"><circle cx="470.3" cy="82.2" r="1.6"/></g>
<g fill="#f00"><circle cx="318.7" cy="67.1" r="1.6"/></g>
<g fill="#0f0"><circle cx="280.3" cy="93.0" r="1.6"/><circle cx="311.6" cy="91.8" r="1.6"/><circle cx="246.4" cy="102.6" r="1.6"/><circle cx="240.3" cy="125.0" r="1.6"/></g>
<g fill="#f00"><circle cx="249.0" cy="92.6" r="1.6"/></g>
<g fill="#0f0"><circle cx="208.1" cy="128.5" r="1.6"/></g>
<g fill="#f00"><circle cx="214.3" cy="105.4" r="1.6"/><circle cx="443.6" cy="63.5" r="1.6"/></g>
<g fill="#0f0"><circle cx="211.7" cy="115.2" r="1.6"/><circle cx="273.0" cy="116.3" r="1.6"/></g>
<g fill="#f00"><circle cx="315.5" cy="73.8" r="1.6"/><circle cx="284.1" cy="75.0" r="1.6"/></g>
<g fill="#0f0"><circle cx="405.6" cy="85.6" r="1.6"/><circle cx="468.6" cy="82.4" r="1.6"/><circle cx="278.6" cy="93.1" r="1.6"/><circle cx="112.6" cy="129.4" r="1.6"/></g>
<g fill="#f00"><circle cx="337.5" cy="103.5" r="1.6"/><circle cx="211.7" cy="107.3" r="1.6"/><circle cx="246.4" cy="94.1" r="1.6"/><circle cx="112.6" cy="128.1" r="1.6"/><circle cx="380.3" cy="58.8" r="1.6"/></g>
<g fill="#0f0"><circle cx="209.0" cy="115.8" r="1.6"/><circle cx="403.9" cy="85.7" r="1.6"/><circle cx="205.6" cy="128.3" r="1.6"/><circle cx="338.0" cy="99.1" r="1.6"/><circle cx="310.3" cy="86.4" r="1.6"/><circle cx="115.8" cy="113.9" r="1.6"/><circle cx="270.5" cy="117.3" r="1.6"/><circle cx="110.9" cy="130.2" r="1.6"/><circle cx="109.7" cy="134.7" r="1.6"/></g>
<g fill="#f00"><circle cx="305.1" cy="102.6" r="1.6"/></g>
<g fill="#0f0"><circle cx="336.1" cy="102.7" r="1.6"/></g>
<g fill="#f00"><circle cx="115.8" cy="111.5" r="1.6"/><circle cx="335.8" cy="103.6" r="1.6"/><circle cx="110.9" cy="128.9" r="1.6"/><circle cx="378.6" cy="58.9" r="1.6"/><circle cx="440.3" cy="60.7" r="1.6"/></g>
<g fill="#0f0"><circle cx="336.3" cy="99.2" r="1.6"/><circle cx="109.7" cy="131.1" r="1.6"/><circle cx="308.6" cy="86.5" r="1.6"/><circle cx="114.3" cy="114.0" r="1.6"/><circle cx="109.7" cy="130.0" r="1.6"/></g>
<g fill="#f00"><circle cx="209.0" cy="108.0" r="1.6"/></g>
<g fill="#0f0"><circle cx="108.0" cy="135.2" r="1.6"/><circle cx="203.0" cy="129.3" r="1.6"/><circle cx="274.5" cy="94.8" r="1.6"/><circle cx="369.7" cy="88.1" r="1.6"/></g>
<g fill="#f00"><circle cx="114.3" cy="111.6" r="1.6"/></g>
<g fill="#0f0"><circle cx="433.5" cy="82.1" r="1.6"/><circle cx="334.4" cy="102.9" r="1.6"/><circle cx="336.1" cy="95.8" r="1.6"/><circle cx="267.9" cy="117.0" r="1.6"/><circle cx="112.9" cy="114.1" r="1.6"/></g>
<g fill="#f00"><circle cx="309.8" cy="76.0" r="1.6"/></g>
<g fill="#0f0"><circle cx="335.0" cy="98.1" r="1.6"/><circle cx="108.0" cy="131.1" r="1.6"/><circle cx="107.9" cy="131.5" r="1.6"/><circle cx="141.5" cy="122.3" r="1.6"/></g>
<g fill="#f00"><circle cx="406.9" cy="61.6" r="1.6"/></g>
<g fill="#0f0"><circle cx="273.0" cy="95.7" r="1.6"/><circle cx="108.0" cy="130.1" r="1.6"/></g>
<g fill="#f00"><circle cx="107.9" cy="130.2" r="1.6"/><circle cx="112.9" cy="111.7" r="1.6"/></g>
<g fill="#0f0"><circle cx="106.3" cy="135.5" r="1.6"/></g>
<g fill="#f00"><circle cx="141.5" cy="120.0" r="1.6"/></g>
<g fill="#0f0"><circle cx="368.0" cy="88.3" r="1.6"/><circle cx="333.3" cy="101.4" r="1.6"/><circle cx="431.8" cy="82.2" r="1.6"/></g>
<g fill="#f00"><circle cx="300.7" cy="106.4" r="1.6"/></g>
<g fill="#0f0"><circle cx="106.3" cy="134.2" r="1.6"/><circle cx="430.9" cy="85.1" r="1.6"/><circle cx="463.1" cy="80.8" r="1.6"/><circle cx="334.4" cy="95.9" r="1.6"/><circle cx="306.5" cy="84.2" r="1.6"/><circle cx="111.4" cy="114.3" r="1.6"/><circle cx="365.6" cy="95.3" r="1.6"/></g>
<g fill="#f00"><circle cx="376.4" cy="55.3" r="1.6"/><circle cx="274.5" cy="86.3" r="1.6"/></g>
<g fill="#0f0"><circle cx="271.9" cy="96.1" r="1.6"/><circle cx="200.5" cy="129.7" r="1.6"/><circle cx="106.3" cy="131.4" r="1.6"/></g>
<g fill="#f00"><circle cx="405.5" cy="61.1" r="1.6"/></g>
<g fill="#0f0"><circle cx="109.0" cy="121.3" r="1.6"/></g>
<g fill="#f00"><circle cx="464.9" cy="71.6" r="1.6"/><circle cx="466.7" cy="64.4" r="1.6"/><circle cx="111.4" cy="111.8" r="1.6"/></g>
<g fill="#0f0"><circle cx="106.3" cy="130.3" r="1.6"/></g>
<g fill="#f00"><circle cx="109.0" cy="120.0" r="1.6"/></g>
<g fill="#0f0"><circle cx="265.4" cy="117.1" r="1.6"/><circle cx="332.7" cy="98.1" r="1.6"/><circle cx="104.6" cy="135.6" r="1.6"/></g>
<g fill="#f00"><circle cx="404.5" cy="62.9" r="1.6"/></g>
<g fill="#0f0"><circle cx="202.2" cy="119.5" r="1.6"/><circle cx="303.8" cy="89.4" r="1.6"/><circle cx="331.6" cy="101.5" r="1.6"/><circle cx="104.6" cy="134.3" r="1.6"/><circle cx="429.2" cy="85.2" r="1.6"/><circle cx="461.2" cy="81.7" r="1.6"/><circle cx="304.8" cy="84.3" r="1.6"/></g>
<g fill="#f00"><circle cx="370.5" cy="70.9" r="1.6"/><circle cx="434.8" cy="63.2" r="1.6"/><circle cx="299.0" cy="104.2" r="1.6"/></g>
<g fill="#0f0"><circle cx="104.6" cy="131.8" r="1.6"/></g>
<g fill="#f00"><circle cx="329.5" cy="106.2" r="1.6"/><circle cx="304.9" cy="81.7" r="1.6"/></g>
<g fill="#0f0"><circle cx="366.0" cy="85.7" r="1.6"/></g>
<g fill="#f00"><circle cx="463.2" cy="71.7" r="1.6"/></g>
<g fill="#0f0"><circle cx="269.2" cy="97.7" r="1.6"/></g>
<g fill="#f00"><circle cx="271.9" cy="87.6" r="1.6"/></g>
<g fill="#0f0"><circle cx="104.6" cy="130.2" r="1.6"/><circle cx="197.9" cy="130.3" r="1.6"/></g>
<g fill="#f00"><circle cx="202.2" cy="112.4" r="1.6"/></g>
<g fill="#0f0"><circle cx="459.5" cy="81.9" r="1.6"/></g>
<g fill="#f00"><circle cx="298.8" cy="100.5" r="1.6"/></g>
<g fill="#0f0"><circle cx="262.9" cy="117.8" r="1.6"/></g>
<g fill="#f00"><circle cx="433.1" cy="63.4" r="1.6"/></g>
<g fill="#0f0"><circle cx="199.6" cy="120.7" r="1.6"/></g>
<g fill="#f00"><circle cx="297.3" cy="104.3" r="1.6"/><circle cx="327.8" cy="106.3" r="1.6"/></g>
<g fill="#0f0"><circle cx="233.3" cy="107.6" r="1.6"/><circle cx="300.3" cy="90.0" r="1.6"/></g>
<g fill="#f00"><circle cx="269.2" cy="89.2" r="1.6"/><circle cx="337.1" cy="67.0" r="1.6"/></g>
<g fill="#0f0"><circle cx="298.6" cy="92.9" r="1.6"/></g>
<g fill="#f00"><circle cx="199.6" cy="113.6" r="1.6"/></g>
<g fill="#0f0"><circle cx="260.3" cy="118.0" r="1.6"/><circle cx="196.9" cy="121.4" r="1.6"/><circle cx="425.1" cy="83.1" r="1.6"/></g>
<g fill="#f00"><circle cx="461.2" cy="63.2" r="1.6"/><circle cx="335.4" cy="67.1" r="1.6"/></g>
<g fill="#0f0"><circle cx="230.6" cy="108.8" r="1.6"/></g>
<g fill="#f00"><circle cx="258.6" cy="120.5" r="1.6"/><circle cx="233.3" cy="98.4" r="1.6"/></g>
<g fill="#0f0"><circle cx="357.2" cy="99.5" r="1.6"/></g>
<g fill="#f00"><circle cx="355.8" cy="104.7" r="1.6"/></g>
<g fill="#0f0"><circle cx="427.0" cy="71.6" r="1.6"/><circle cx="324.0" cy="105.7" r="1.6"/><circle cx="423.4" cy="83.2" r="1.6"/></g>
<g fill="#f00"><circle cx="298.6" cy="84.2" r="1.6"/><circle cx="196.9" cy="114.3" r="1.6"/></g>
<g fill="#0f0"><circle cx="295.9" cy="92.9" r="1.6"/></g>
<g fill="#f00"><circle cx="429.4" cy="59.9" r="1.6"/><circle cx="459.5" cy="63.3" r="1.6"/></g>
<g fill="#0f0"><circle cx="257.8" cy="118.2" r="1.6"/></g>
<g fill="#f00"><circle cx="354.1" cy="104.8" r="1.6"/></g>
<g fill="#0f0"><circle cx="425.3" cy="71.8" r="1.6"/></g>
<g fill="#f00"><circle cx="256.0" cy="121.3" r="1.6"/></g>
<g fill="#0f0"><circle cx="354.6" cy="101.8" r="1.6"/></g>
<g fill="#f00"><circle cx="230.6" cy="99.7" r="1.6"/></g>
<g fill="#0f0"><circle cx="254.7" cy="125.5" r="1.6"/><circle cx="390.0" cy="84.9" r="1.6"/></g>
<g fill="#f00"><circle cx="427.7" cy="60.0" r="1.6"/></g>
<g fill="#0f0"><circle cx="293.3" cy="95.1" r="1.6"/><circle cx="452.4" cy="82.1" r="1.6"/><circle cx="322.8" cy="100.6" r="1.6"/></g>
<g fill="#f00"><circle cx="295.9" cy="84.2" r="1.6"/><circle cx="332.0" cy="66.0" r="1.6"/></g>
<g fill="#0f0"><circle cx="255.2" cy="118.2" r="1.6"/><circle cx="259.9" cy="100.0" r="1.6"/><circle cx="388.3" cy="85.0" r="1.6"/><circle cx="258.8" cy="102.0" r="1.6"/><circle cx="260.5" cy="95.3" r="1.6"/><circle cx="450.7" cy="82.2" r="1.6"/><circle cx="321.1" cy="100.7" r="1.6"/><circle cx="252.2" cy="125.0" r="1.6"/><circle cx="323.7" cy="89.7" r="1.6"/></g>
<g fill="#f00"><circle cx="293.3" cy="86.4" r="1.6"/></g>
<g fill="#0f0"><circle cx="258.2" cy="100.1" r="1.6"/><circle cx="252.7" cy="119.7" r="1.6"/></g>
<g fill="#f00"><circle cx="258.8" cy="93.6" r="1.6"/></g>
<g fill="#0f0"><circle cx="322.0" cy="89.8" r="1.6"/><circle cx="449.6" cy="78.5" r="1.6"/><circle cx="249.7" cy="126.1" r="1.6"/></g>
<g fill="#f00"><circle cx="250.9" cy="121.3" r="1.6"/></g>
<g fill="#0f0"><circle cx="157.1" cy="122.4" r="1.6"/><circle cx="353.6" cy="86.5" r="1.6"/><circle cx="322.7" cy="84.9" r="1.6"/></g>
<g fill="#f00"><circle cx="157.1" cy="120.2" r="1.6"/></g>
<g fill="#0f0"><circle cx="123.1" cy="129.9" r="1.6"/><circle cx="287.4" cy="97.3" r="1.6"/></g>
<g fill="#f00"><circle cx="123.1" cy="128.6" r="1.6"/></g>
<g fill="#0f0"><circle cx="448.0" cy="78.6" r="1.6"/><circle cx="250.2" cy="119.0" r="1.6"/><circle cx="351.9" cy="86.6" r="1.6"/><circle cx="477.4" cy="82.9" r="1.6"/><circle cx="253.5" cy="104.5" r="1.6"/></g>
<g fill="#f00"><circle cx="253.6" cy="102.9" r="1.6"/></g>
<g fill="#0f0"><circle cx="253.1" cy="104.1" r="1.6"/></g>
<g fill="#f00"><circle cx="450.7" cy="64.2" r="1.6"/></g>
<g fill="#0f0"><circle cx="320.0" cy="86.1" r="1.6"/><circle cx="285.7" cy="97.4" r="1.6"/></g>
<g fill="#f00"><circle cx="322.7" cy="75.9" r="1.6"/><circle cx="451.0" cy="61.7" r="1.6"/></g>
<g fill="#0f0"><circle cx="318.8" cy="89.5" r="1.6"/><circle cx="475.8" cy="83.0" r="1.6"/><circle cx="247.6" cy="119.7" r="1.6"/><circle cx="119.8" cy="131.3" r="1.6"/><circle cx="251.4" cy="104.2" r="1.6"/></g>
<g fill="#f00"><circle cx="218.8" cy="109.6" r="1.6"/><circle cx="253.5" cy="96.1" r="1.6"/></g>
<g fill="#0f0"><circle cx="216.1" cy="119.0" r="1.6"/></g>
<g fill="#f00"><circle cx="119.8" cy="130.0" r="1.6"/></g>
<g fill="#0f0"><circle cx="412.7" cy="81.9" r="1.6"/><circle cx="317.4" cy="88.9" r="1.6"/></g>
<g fill="#f00"><circle cx="417.8" cy="62.5" r="1.6"/></g>
<g fill="#0f0"><circle cx="345.1" cy="101.0" r="1.6"/><circle cx="244.6" cy="126.7" r="1.6"/></g>
<g fill="#f00"><circle cx="245.9" cy="121.8" r="1.6"/></g>
<g fill="#0f0"><circle cx="122.9" cy="115.8" r="1.6"/><circle cx="317.3" cy="87.1" r="1.6"/></g>
<g fill="#f00"><circle cx="320.0" cy="77.1" r="1.6"/></g>
<g fill="#0f0"><circle cx="116.9" cy="137.0" r="1.6"/><circle cx="118.1" cy="132.2" r="1.6"/></g>
<g fill="#f00"><circle cx="312.3" cy="104.5" r="1.6"/><circle cx="122.9" cy="113.4" r="1.6"/></g>
<g fill="#0f0"><circle cx="343.2" cy="104.2" r="1.6"/></g>
<g fill="#f00"><circle cx="118.1" cy="130.8" r="1.6"/><circle cx="447.5" cy="63.9" r="1.6"/></g>
<g fill="#0f0"><circle cx="441.9" cy="84.4" r="1.6"/><circle cx="411.1" cy="82.1" r="1.6"/><circle cx="315.7" cy="89.0" r="1.6"/><circle cx="116.9" cy="133.2" r="1.6"/></g>
<g fill="#f00"><circle cx="416.1" cy="62.7" r="1.6"/></g>
<g fill="#0f0"><circle cx="343.4" cy="101.1" r="1.6"/><circle cx="121.4" cy="116.0" r="1.6"/></g>
<g fill="#f00"><circle cx="216.1" cy="111.2" r="1.6"/></g>
<g fill="#0f0"><circle cx="441.9" cy="82.0" r="1.6"/><circle cx="116.9" cy="131.9" r="1.6"/><circle cx="115.2" cy="137.2" r="1.6"/></g>
<g fill="#f00"><circle cx="250.0" cy="98.8" r="1.6"/><circle cx="121.4" cy="113.5" r="1.6"/></g>
<g fill="#0f0"><circle cx="440.6" cy="84.2" r="1.6"/><circle cx="281.7" cy="96.3" r="1.6"/><circle cx="115.2" cy="136.3" r="1.6"/><circle cx="341.6" cy="104.4" r="1.6"/></g>
<g fill="#f00"><circle cx="249.9" cy="98.0" r="1.6"/></g>
<g fill="#0f0"><circle cx="440.2" cy="84.5" r="1.6"/></g>
<g fill="#f00"><circle cx="317.3" cy="78.1" r="1.6"/></g>
<g fill="#0f0"><circle cx="120.0" cy="116.1" r="1.6"/><circle cx="115.2" cy="133.5" r="1.6"/><circle cx="115.0" cy="133.5" r="1.6"/><circle cx="342.1" cy="99.2" r="1.6"/><circle cx="115.2" cy="132.0" r="1.6"/><circle cx="340.4" cy="104.8" r="1.6"/><circle cx="280.2" cy="97.4" r="1.6"/></g>
<g fill="#f00"><circle cx="475.8" cy="64.9" r="1.6"/><circle cx="115.0" cy="132.1" r="1.6"/><circle cx="120.0" cy="113.7" r="1.6"/></g>
<g fill="#0f0"><circle cx="113.5" cy="137.1" r="1.6"/><circle cx="310.0" cy="101.0" r="1.6"/><circle cx="438.9" cy="84.3" r="1.6"/></g>
<g fill="#f00"><circle cx="317.0" cy="74.7" r="1.6"/></g>
<g fill="#0f0"><circle cx="309.2" cy="103.2" r="1.6"/></g>
<g fill="#f00"><circle cx="248.2" cy="98.1" r="1.6"/></g>
<g fill="#0f0"><circle cx="304.7" cy="119.0" r="1.6"/><circle cx="245.6" cy="106.8" r="1.6"/><circle cx="118.5" cy="116.2" r="1.6"/><circle cx="438.0" cy="86.1" r="1.6"/><circle cx="279.0" cy="98.4" r="1.6"/></g>
<g fill="#f00"><circle cx="281.7" cy="87.9" r="1.6"/></g>
<g fill="#0f0"><circle cx="470.3" cy="80.8" r="1.6"/><circle cx="113.5" cy="133.6" r="1.6"/></g>
<g fill="#f00"><circle cx="240.8" cy="122.9" r="1.6"/></g>
<g fill="#0f0"><circle cx="372.7" cy="95.3" r="1.6"/><circle cx="116.1" cy="123.2" r="1.6"/></g>
<g fill="#f00"><circle cx="473.9" cy="66.3" r="1.6"/><circle cx="118.5" cy="113.8" r="1.6"/></g>
<g fill="#0f0"><circle cx="239.5" cy="126.9" r="1.6"/><circle cx="113.5" cy="132.3" r="1.6"/><circle cx="468.4" cy="86.1" r="1.6"/><circle cx="338.7" cy="104.9" r="1.6"/></g>
<g fill="#f00"><circle cx="116.1" cy="121.9" r="1.6"/></g>
<g fill="#0f0"><circle cx="209.4" cy="122.0" r="1.6"/><circle cx="111.8" cy="137.4" r="1.6"/><circle cx="308.3" cy="101.1" r="1.6"/></g>
<g fill="#f00"><circle cx="377.6" cy="74.8" r="1.6"/></g>
<g fill="#0f0"><circle cx="339.9" cy="98.9" r="1.6"/><circle cx="111.8" cy="135.9" r="1.6"/><circle cx="310.9" cy="90.2" r="1.6"/></g>
<g fill="#f00"><circle cx="472.0" cy="69.6" r="1.6"/></g>
<g fill="#0f0"><circle cx="436.3" cy="86.3" r="1.6"/></g>
<g fill="#f00"><circle cx="441.9" cy="65.4" r="1.6"/></g>
<g fill="#0f0"><circle cx="243.1" cy="108.8" r="1.6"/></g>
<g fill="#f00"><circle cx="412.7" cy="57.4" r="1.6"/></g>
<g fill="#0f0"><circle cx="111.8" cy="133.6" r="1.6"/></g>
<g fill="#f00"><circle cx="379.5" cy="64.2" r="1.6"/><circle cx="279.0" cy="89.9" r="1.6"/><circle cx="245.8" cy="97.7" r="1.6"/></g>
<g fill="#0f0"><circle cx="302.2" cy="119.1" r="1.6"/><circle cx="111.8" cy="132.4" r="1.6"/></g>
<g fill="#f00"><circle cx="312.1" cy="82.4" r="1.6"/></g>
<g fill="#0f0"><circle cx="276.3" cy="99.3" r="1.6"/><circle cx="466.7" cy="86.2" r="1.6"/></g>
<g fill="#f00"><circle cx="306.2" cy="103.5" r="1.6"/><circle cx="336.6" cy="105.4" r="1.6"/><circle cx="238.2" cy="123.5" r="1.6"/><circle cx="209.4" cy="114.9" r="1.6"/></g>
<g fill="#0f0"><circle cx="307.2" cy="98.2" r="1.6"/><circle cx="237.0" cy="127.2" r="1.6"/></g>
<g fill="#f00"><circle cx="470.3" cy="69.8" r="1.6"/><circle cx="440.2" cy="65.6" r="1.6"/></g>
<g fill="#0f0"><circle cx="206.7" cy="123.0" r="1.6"/><circle cx="240.4" cy="110.4" r="1.6"/></g>
<g fill="#f00"><circle cx="304.5" cy="103.7" r="1.6"/><circle cx="334.9" cy="105.5" r="1.6"/><circle cx="243.1" cy="99.6" r="1.6"/><circle cx="276.3" cy="90.8" r="1.6"/></g>
<g fill="#0f0"><circle cx="299.7" cy="119.3" r="1.6"/><circle cx="305.7" cy="96.2" r="1.6"/></g>
<g fill="#f00"><circle cx="206.7" cy="115.8" r="1.6"/></g>
<g fill="#0f0"><circle cx="434.1" cy="80.3" r="1.6"/><circle cx="432.2" cy="85.2" r="1.6"/><circle cx="237.8" cy="111.9" r="1.6"/></g>
<g fill="#f00"><circle cx="240.4" cy="101.3" r="1.6"/><circle cx="463.1" cy="82.8" r="1.6"/></g>
<g fill="#0f0"><circle cx="432.4" cy="80.4" r="1.6"/><circle cx="297.1" cy="119.6" r="1.6"/></g>
<g fill="#f00"><circle cx="305.7" cy="87.5" r="1.6"/></g>
<g fill="#0f0"><circle cx="331.1" cy="108.1" r="1.6"/></g>
<g fill="#f00"><circle cx="362.9" cy="105.4" r="1.6"/></g>
<g fill="#0f0"><circle cx="430.5" cy="85.3" r="1.6"/><circle cx="231.9" cy="128.4" r="1.6"/><circle cx="364.3" cy="99.1" r="1.6"/></g>
<g fill="#f00"><circle cx="233.2" cy="123.4" r="1.6"/></g>
<g fill="#0f0"><circle cx="302.1" cy="98.6" r="1.6"/></g>
<g fill="#f00"><circle cx="238.6" cy="101.8" r="1.6"/></g>
<g fill="#0f0"><circle cx="301.1" cy="99.4" r="1.6"/></g>
<g fill="#f00"><circle cx="239.6" cy="96.5" r="1.6"/><circle cx="237.8" cy="102.8" r="1.6"/><circle cx="361.2" cy="105.6" r="1.6"/></g>
<g fill="#0f0"><circle cx="457.7" cy="94.0" r="1.6"/><circle cx="361.7" cy="102.6" r="1.6"/><circle cx="300.4" cy="98.7" r="1.6"/><circle cx="294.6" cy="119.6" r="1.6"/></g>
<g fill="#f00"><circle cx="464.1" cy="68.0" r="1.6"/><circle cx="303.1" cy="87.9" r="1.6"/><circle cx="237.0" cy="102.0" r="1.6"/><circle cx="230.6" cy="124.8" r="1.6"/></g>
<g fill="#0f0"><circle cx="330.0" cy="102.4" r="1.6"/><circle cx="299.7" cy="98.8" r="1.6"/><circle cx="299.4" cy="99.5" r="1.6"/></g>
<g fill="#f00"><circle cx="237.9" cy="96.7" r="1.6"/></g>
<g fill="#0f0"><circle cx="267.6" cy="101.2" r="1.6"/><circle cx="459.5" cy="82.3" r="1.6"/><circle cx="229.3" cy="127.3" r="1.6"/><circle cx="332.7" cy="89.5" r="1.6"/></g>
<g fill="#f00"><circle cx="370.7" cy="63.4" r="1.6"/></g>
<g fill="#0f0"><circle cx="267.1" cy="99.9" r="1.6"/><circle cx="265.9" cy="103.9" r="1.6"/><circle cx="296.6" cy="105.6" r="1.6"/><circle cx="328.3" cy="102.5" r="1.6"/></g>
<g fill="#f00"><circle cx="302.7" cy="80.7" r="1.6"/></g>
<g fill="#0f0"><circle cx="292.0" cy="120.0" r="1.6"/><circle cx="457.9" cy="82.4" r="1.6"/><circle cx="298.7" cy="94.1" r="1.6"/><circle cx="331.0" cy="89.6" r="1.6"/></g>
<g fill="#f00"><circle cx="301.7" cy="82.7" r="1.6"/></g>
<g fill="#0f0"><circle cx="226.8" cy="127.9" r="1.6"/><circle cx="265.4" cy="100.0" r="1.6"/></g>
<g fill="#f00"><circle cx="430.5" cy="64.4" r="1.6"/><circle cx="399.7" cy="62.8" r="1.6"/></g>
<g fill="#0f0"><circle cx="424.2" cy="86.0" r="1.6"/></g>
<g fill="#f00"><circle cx="265.9" cy="95.5" r="1.6"/></g>
<g fill="#0f0"><circle cx="390.8" cy="93.0" r="1.6"/><circle cx="297.0" cy="94.3" r="1.6"/><circle cx="164.3" cy="124.4" r="1.6"/><circle cx="329.8" cy="87.5" r="1.6"/><circle cx="289.5" cy="120.3" r="1.6"/></g>
<g fill="#f00"><circle cx="164.3" cy="122.2" r="1.6"/><circle cx="367.5" cy="61.4" r="1.6"/></g>
<g fill="#0f0"><circle cx="130.3" cy="131.9" r="1.6"/></g>
<g fill="#f00"><circle cx="398.0" cy="62.9" r="1.6"/></g>
<g fill="#0f0"><circle cx="294.7" cy="99.1" r="1.6"/><circle cx="295.0" cy="97.7" r="1.6"/><circle cx="224.3" cy="128.9" r="1.6"/><circle cx="422.5" cy="86.2" r="1.6"/></g>
<g fill="#f00"><circle cx="130.3" cy="130.5" r="1.6"/></g>
<g fill="#0f0"><circle cx="295.2" cy="96.2" r="1.6"/></g>
<g fill="#f00"><circle cx="429.5" cy="59.8" r="1.6"/><circle cx="395.8" cy="68.7" r="1.6"/></g>
<g fill="#0f0"><circle cx="484.6" cy="85.1" r="1.6"/><circle cx="225.9" cy="119.9" r="1.6"/></g>
<g fill="#f00"><circle cx="332.3" cy="72.1" r="1.6"/></g>
<g fill="#0f0"><circle cx="260.6" cy="106.6" r="1.6"/></g>
<g fill="#f00"><circle cx="457.9" cy="67.2" r="1.6"/><circle cx="332.9" cy="68.2" r="1.6"/></g>
<g fill="#0f0"><circle cx="327.1" cy="88.5" r="1.6"/><circle cx="293.1" cy="99.3" r="1.6"/></g>
<g fill="#f00"><circle cx="329.8" cy="78.5" r="1.6"/></g>
<g fill="#0f0"><circle cx="287.0" cy="121.1" r="1.6"/><circle cx="293.5" cy="96.3" r="1.6"/></g>
<g fill="#f00"><circle cx="394.2" cy="68.9" r="1.6"/></g>
<g fill="#0f0"><circle cx="260.3" cy="102.9" r="1.6"/><circle cx="450.5" cy="89.9" r="1.6"/><circle cx="482.9" cy="85.3" r="1.6"/></g>
<g fill="#f00"><circle cx="223.0" cy="125.0" r="1.6"/></g>
<g fill="#0f0"><circle cx="419.9" cy="87.1" r="1.6"/></g>
<g fill="#f00"><circle cx="458.7" cy="58.2" r="1.6"/></g>
<g fill="#0f0"><circle cx="221.7" cy="128.5" r="1.6"/><circle cx="126.9" cy="133.2" r="1.6"/><circle cx="223.3" cy="122.0" r="1.6"/></g>
<g fill="#f00"><circle cx="225.9" cy="112.0" r="1.6"/><circle cx="260.6" cy="98.2" r="1.6"/><circle cx="126.9" cy="131.9" r="1.6"/></g>
<g fill="#0f0"><circle cx="352.2" cy="102.2" r="1.6"/><circle cx="258.6" cy="103.0" r="1.6"/><circle cx="130.0" cy="117.8" r="1.6"/></g>
<g fill="#f00"><circle cx="327.1" cy="79.5" r="1.6"/></g>
<g fill="#0f0"><circle cx="124.0" cy="139.7" r="1.6"/><circle cx="284.4" cy="121.8" r="1.6"/><circle cx="418.2" cy="87.3" r="1.6"/><circle cx="124.0" cy="138.9" r="1.6"/><circle cx="125.2" cy="134.1" r="1.6"/></g>
<g fill="#f00"><circle cx="457.0" cy="58.3" r="1.6"/><circle cx="130.0" cy="115.3" r="1.6"/></g>
<g fill="#0f0"><circle cx="350.4" cy="106.2" r="1.6"/><circle cx="449.0" cy="86.8" r="1.6"/></g>
<g fill="#f00"><circle cx="125.2" cy="132.8" r="1.6"/><circle cx="220.5" cy="125.3" r="1.6"/><circle cx="258.8" cy="98.8" r="1.6"/></g>
<g fill="#0f0"><circle cx="219.2" cy="129.4" r="1.6"/></g>
<g fill="#f00"><circle cx="223.3" cy="114.2" r="1.6"/></g>
<g fill="#0f0"><circle cx="124.0" cy="134.9" r="1.6"/><circle cx="128.6" cy="117.9" r="1.6"/><circle cx="350.6" cy="102.4" r="1.6"/><circle cx="385.6" cy="87.8" r="1.6"/><circle cx="122.3" cy="140.2" r="1.6"/><circle cx="124.0" cy="133.6" r="1.6"/><circle cx="122.3" cy="139.4" r="1.6"/><circle cx="321.0" cy="95.0" r="1.6"/></g>
<g fill="#f00"><circle cx="128.6" cy="115.5" r="1.6"/></g>
<g fill="#0f0"><circle cx="288.8" cy="98.6" r="1.6"/><circle cx="122.3" cy="138.1" r="1.6"/><circle cx="155.8" cy="129.1" r="1.6"/><circle cx="348.7" cy="106.3" r="1.6"/><circle cx="447.3" cy="87.0" r="1.6"/><circle cx="384.0" cy="90.0" r="1.6"/></g>
<g fill="#f00"><circle cx="257.0" cy="99.0" r="1.6"/></g>
<g fill="#0f0"><circle cx="281.9" cy="122.1" r="1.6"/></g>
<g fill="#f00"><circle cx="257.2" cy="98.3" r="1.6"/></g>
<g fill="#0f0"><circle cx="122.3" cy="136.2" r="1.6"/><circle cx="127.1" cy="118.0" r="1.6"/></g>
<g fill="#f00"><circle cx="155.8" cy="126.8" r="1.6"/></g>
<g fill="#0f0"><circle cx="122.3" cy="135.1" r="1.6"/><circle cx="122.2" cy="135.4" r="1.6"/><circle cx="286.4" cy="103.7" r="1.6"/><circle cx="383.9" cy="87.9" r="1.6"/><circle cx="349.3" cy="100.9" r="1.6"/><circle cx="317.1" cy="104.6" r="1.6"/><circle cx="120.6" cy="140.4" r="1.6"/><circle cx="347.6" cy="107.0" r="1.6"/><circle cx="122.3" cy="134.0" r="1.6"/></g>
<g fill="#f00"><circle cx="217.9" cy="125.7" r="1.6"/><circle cx="122.2" cy="134.1" r="1.6"/><circle cx="127.1" cy="115.6" r="1.6"/></g>
<g fill="#0f0"><circle cx="287.3" cy="98.9" r="1.6"/><circle cx="216.6" cy="129.4" r="1.6"/><circle cx="120.6" cy="139.2" r="1.6"/><circle cx="252.9" cy="110.0" r="1.6"/><circle cx="316.3" cy="105.5" r="1.6"/><circle cx="120.6" cy="138.1" r="1.6"/><circle cx="286.1" cy="101.0" r="1.6"/><circle cx="445.1" cy="88.6" r="1.6"/></g>
<g fill="#f00"><circle cx="479.1" cy="78.0" r="1.6"/><circle cx="390.6" cy="59.8" r="1.6"/></g>
<g fill="#0f0"><circle cx="125.7" cy="118.1" r="1.6"/><circle cx="382.3" cy="90.1" r="1.6"/></g>
<g fill="#f00"><circle cx="255.3" cy="99.2" r="1.6"/></g>
<g fill="#0f0"><circle cx="253.0" cy="107.3" r="1.6"/></g>
<g fill="#f00"><circle cx="288.8" cy="90.1" r="1.6"/><circle cx="314.9" cy="107.9" r="1.6"/></g>
<g fill="#0f0"><circle cx="120.6" cy="135.2" r="1.6"/><circle cx="379.9" cy="97.5" r="1.6"/><circle cx="123.3" cy="125.2" r="1.6"/></g>
<g fill="#f00"><circle cx="125.7" cy="115.7" r="1.6"/></g>
<g fill="#0f0"><circle cx="315.4" cy="104.8" r="1.6"/><circle cx="120.6" cy="134.3" r="1.6"/><circle cx="345.9" cy="107.1" r="1.6"/><circle cx="118.9" cy="140.4" r="1.6"/></g>
<g fill="#f00"><circle cx="123.3" cy="123.8" r="1.6"/><circle cx="418.8" cy="67.1" r="1.6"/></g>
<g fill="#0f0"><circle cx="216.5" cy="124.1" r="1.6"/><circle cx="279.3" cy="121.8" r="1.6"/><circle cx="475.5" cy="87.1" r="1.6"/><circle cx="118.9" cy="139.3" r="1.6"/></g>
<g fill="#f00"><circle cx="123.3" cy="123.2" r="1.6"/><circle cx="215.4" cy="126.6" r="1.6"/></g>
<g fill="#0f0"><circle cx="118.9" cy="137.9" r="1.6"/></g>
<g fill="#f00"><circle cx="449.0" cy="68.2" r="1.6"/></g>
<g fill="#0f0"><circle cx="443.4" cy="88.8" r="1.6"/><circle cx="347.0" cy="100.0" r="1.6"/></g>
<g fill="#f00"><circle cx="477.4" cy="78.1" r="1.6"/></g>
<g fill="#0f0"><circle cx="318.0" cy="90.8" r="1.6"/><circle cx="250.2" cy="110.9" r="1.6"/><circle cx="118.9" cy="135.9" r="1.6"/><circle cx="214.1" cy="129.2" r="1.6"/></g>
<g fill="#f00"><circle cx="252.9" cy="100.8" r="1.6"/><circle cx="286.1" cy="92.6" r="1.6"/></g>
<g fill="#0f0"><circle cx="380.3" cy="89.2" r="1.6"/><circle cx="118.9" cy="134.4" r="1.6"/><circle cx="473.8" cy="87.2" r="1.6"/></g>
<g fill="#f00"><circle cx="355.0" cy="65.7" r="1.6"/><circle cx="313.3" cy="104.4" r="1.6"/><circle cx="216.5" cy="116.9" r="1.6"/><circle cx="447.3" cy="68.3" r="1.6"/></g>
<g fill="#0f0"><circle cx="276.8" cy="122.5" r="1.6"/></g>
<g fill="#f00"><circle cx="479.1" cy="64.7" r="1.6"/><circle cx="313.1" cy="103.0" r="1.6"/><circle cx="249.6" cy="106.0" r="1.6"/><circle cx="212.9" cy="126.5" r="1.6"/></g>
<g fill="#0f0"><circle cx="441.3" cy="87.7" r="1.6"/></g>
<g fill="#f00"><circle cx="283.5" cy="94.4" r="1.6"/></g>
<g fill="#0f0"><circle cx="211.6" cy="130.0" r="1.6"/></g>
<g fill="#f00"><circle cx="250.2" cy="101.7" r="1.6"/><circle cx="311.6" cy="104.6" r="1.6"/><circle cx="249.0" cy="105.4" r="1.6"/></g>
<g fill="#0f0"><circle cx="377.9" cy="88.9" r="1.6"/></g>
<g fill="#f00"><circle cx="351.4" cy="71.1" r="1.6"/></g>
<g fill="#0f0"><circle cx="312.9" cy="98.0" r="1.6"/></g>
<g fill="#f00"><circle cx="477.4" cy="64.9" r="1.6"/></g>
<g fill="#0f0"><circle cx="211.2" cy="127.3" r="1.6"/><circle cx="439.6" cy="87.8" r="1.6"/></g>
<g fill="#f00"><circle cx="311.0" cy="101.6" r="1.6"/></g>
<g fill="#0f0"><circle cx="274.3" cy="122.1" r="1.6"/></g>
<g fill="#f00"><circle cx="475.4" cy="68.8" r="1.6"/></g>
<g fill="#0f0"><circle cx="439.4" cy="86.8" r="1.6"/><circle cx="244.9" cy="113.3" r="1.6"/></g>
<g fill="#f00"><circle cx="349.7" cy="71.3" r="1.6"/><circle cx="247.6" cy="102.4" r="1.6"/><circle cx="470.2" cy="84.7" r="1.6"/><circle cx="246.9" cy="103.5" r="1.6"/><circle cx="211.2" cy="120.2" r="1.6"/><circle cx="370.0" cy="108.2" r="1.6"/><circle cx="312.9" cy="89.3" r="1.6"/></g>
<g fill="#0f0"><circle cx="371.4" cy="102.7" r="1.6"/><circle cx="310.2" cy="98.8" r="1.6"/></g>
<g fill="#f00"><circle cx="309.3" cy="101.7" r="1.6"/><circle cx="443.6" cy="65.3" r="1.6"/><circle cx="473.7" cy="68.9" r="1.6"/></g>
<g fill="#0f0"><circle cx="437.7" cy="87.0" r="1.6"/><circle cx="374.0" cy="91.8" r="1.6"/><circle cx="271.7" cy="123.2" r="1.6"/><circle cx="338.3" cy="107.4" r="1.6"/><circle cx="309.2" cy="99.4" r="1.6"/><circle cx="278.4" cy="97.2" r="1.6"/><circle cx="308.3" cy="100.7" r="1.6"/></g>
<g fill="#f00"><circle cx="207.8" cy="126.6" r="1.6"/><circle cx="368.3" cy="108.4" r="1.6"/><circle cx="244.9" cy="104.2" r="1.6"/><circle cx="441.9" cy="65.4" r="1.6"/></g>
<g fill="#0f0"><circle cx="307.5" cy="101.7" r="1.6"/><circle cx="372.3" cy="91.9" r="1.6"/></g>
<g fill="#f00"><circle cx="471.3" cy="71.2" r="1.6"/><circle cx="346.2" cy="72.4" r="1.6"/><circle cx="310.2" cy="90.1" r="1.6"/></g>
<g fill="#0f0"><circle cx="307.5" cy="99.6" r="1.6"/></g>
<g fill="#f00"><circle cx="276.7" cy="98.0" r="1.6"/></g>
<g fill="#0f0"><circle cx="337.1" cy="104.5" r="1.6"/><circle cx="276.7" cy="97.3" r="1.6"/></g>
<g fill="#f00"><circle cx="241.1" cy="113.6" r="1.6"/></g>
<g fill="#0f0"><circle cx="339.8" cy="93.9" r="1.6"/><circle cx="306.6" cy="100.8" r="1.6"/><circle cx="466.7" cy="84.1" r="1.6"/><circle cx="303.7" cy="110.9" r="1.6"/><circle cx="269.2" cy="122.6" r="1.6"/><circle cx="306.8" cy="98.2" r="1.6"/><circle cx="273.1" cy="107.0" r="1.6"/><circle cx="274.2" cy="102.7" r="1.6"/><circle cx="274.8" cy="100.5" r="1.6"/></g>
<g fill="#f00"><circle cx="377.9" cy="64.5" r="1.6"/><circle cx="307.5" cy="93.0" r="1.6"/></g>
<g fill="#0f0"><circle cx="335.4" cy="104.6" r="1.6"/></g>
<g fill="#f00"><circle cx="239.4" cy="113.7" r="1.6"/></g>
<g fill="#0f0"><circle cx="338.1" cy="94.0" r="1.6"/><circle cx="465.0" cy="84.2" r="1.6"/></g>
<g fill="#f00"><circle cx="437.7" cy="69.8" r="1.6"/></g>
<g fill="#0f0"><circle cx="463.9" cy="86.9" r="1.6"/><circle cx="272.3" cy="104.4" r="1.6"/><circle cx="272.5" cy="102.9" r="1.6"/><circle cx="266.6" cy="123.5" r="1.6"/></g>
<g fill="#f00"><circle cx="406.8" cy="65.4" r="1.6"/></g>
<g fill="#0f0"><circle cx="270.4" cy="108.5" r="1.6"/></g>
<g fill="#f00"><circle cx="273.1" cy="98.6" r="1.6"/></g>
<g fill="#0f0"><circle cx="431.4" cy="87.0" r="1.6"/><circle cx="171.4" cy="126.5" r="1.6"/><circle cx="462.2" cy="87.1" r="1.6"/><circle cx="301.9" cy="103.5" r="1.6"/></g>
<g fill="#f00"><circle cx="307.2" cy="83.3" r="1.6"/><circle cx="171.4" cy="124.3" r="1.6"/></g>
<g fill="#0f0"><circle cx="367.9" cy="88.4" r="1.6"/></g>
<g fill="#f00"><circle cx="405.1" cy="65.6" r="1.6"/></g>
<g fill="#0f0"><circle cx="137.4" cy="133.8" r="1.6"/><circle cx="302.3" cy="99.4" r="1.6"/><circle cx="302.1" cy="99.3" r="1.6"/></g>
<g fill="#f00"><circle cx="137.4" cy="132.5" r="1.6"/><circle cx="240.2" cy="97.8" r="1.6"/></g>
<g fill="#0f0"><circle cx="429.7" cy="87.2" r="1.6"/></g>
<g fill="#f00"><circle cx="270.4" cy="100.1" r="1.6"/><circle cx="235.7" cy="113.0" r="1.6"/></g>
<g fill="#0f0"><circle cx="233.1" cy="122.2" r="1.6"/></g>
<g fill="#f00"><circle cx="238.2" cy="102.8" r="1.6"/></g>
<g fill="#0f0"><circle cx="300.2" cy="103.7" r="1.6"/></g>
<g fill="#f00"><circle cx="305.5" cy="83.4" r="1.6"/></g>
<g fill="#0f0"><circle cx="366.2" cy="88.5" r="1.6"/><circle cx="427.0" cy="93.5" r="1.6"/><circle cx="334.3" cy="90.9" r="1.6"/></g>
<g fill="#f00"><circle cx="465.0" cy="68.0" r="1.6"/><circle cx="403.0" cy="66.6" r="1.6"/></g>
<g fill="#0f0"><circle cx="300.6" cy="99.6" r="1.6"/></g>
<g fill="#f00"><circle cx="238.5" cy="97.9" r="1.6"/><circle cx="267.9" cy="104.0" r="1.6"/></g>
<g fill="#0f0"><circle cx="267.4" cy="105.0" r="1.6"/></g>
<g fill="#f00"><circle cx="137.5" cy="123.9" r="1.6"/><circle cx="236.5" cy="103.0" r="1.6"/></g>
<g fill="#0f0"><circle cx="261.6" cy="125.0" r="1.6"/><circle cx="134.0" cy="135.2" r="1.6"/></g>
<g fill="#f00"><circle cx="233.1" cy="114.4" r="1.6"/><circle cx="267.8" cy="101.0" r="1.6"/></g>
<g fill="#0f0"><circle cx="425.3" cy="93.7" r="1.6"/><circle cx="359.4" cy="106.5" r="1.6"/></g>
<g fill="#f00"><circle cx="401.3" cy="66.8" r="1.6"/><circle cx="134.0" cy="133.9" r="1.6"/><circle cx="268.6" cy="96.4" r="1.6"/></g>
<g fill="#0f0"><circle cx="331.6" cy="93.2" r="1.6"/></g>
<g fill="#f00"><circle cx="302.8" cy="83.9" r="1.6"/></g>
<g fill="#0f0"><circle cx="265.7" cy="105.1" r="1.6"/></g>
<g fill="#f00"><circle cx="334.3" cy="81.9" r="1.6"/></g>
<g fill="#0f0"><circle cx="131.1" cy="142.1" r="1.6"/><circle cx="137.2" cy="119.7" r="1.6"/><circle cx="131.1" cy="140.9" r="1.6"/><circle cx="132.3" cy="136.0" r="1.6"/><circle cx="357.5" cy="108.7" r="1.6"/></g>
<g fill="#f00"><circle cx="137.2" cy="117.3" r="1.6"/><circle cx="132.3" cy="134.7" r="1.6"/></g>
<g fill="#0f0"><circle cx="357.7" cy="106.6" r="1.6"/><circle cx="131.1" cy="138.0" r="1.6"/></g>
<g fill="#f00"><circle cx="230.4" cy="116.2" r="1.6"/><circle cx="326.5" cy="106.0" r="1.6"/></g>
<g fill="#0f0"><circle cx="131.1" cy="137.3" r="1.6"/><circle cx="259.0" cy="124.7" r="1.6"/></g>
<g fill="#f00"><circle cx="301.1" cy="84.0" r="1.6"/></g>
<g fill="#0f0"><circle cx="135.7" cy="119.8" r="1.6"/><circle cx="266.0" cy="98.4" r="1.6"/></g>
<g fill="#f00"><circle cx="265.6" cy="99.9" r="1.6"/></g>
<g fill="#0f0"><circle cx="129.4" cy="142.2" r="1.6"/><circle cx="131.1" cy="135.7" r="1.6"/></g>
<g fill="#f00"><circle cx="460.8" cy="67.5" r="1.6"/><circle cx="331.6" cy="84.2" r="1.6"/></g>
<g fill="#0f0"><circle cx="129.4" cy="140.8" r="1.6"/></g>
<g fill="#f00"><circle cx="135.7" cy="117.4" r="1.6"/></g>
<g fill="#0f0"><circle cx="267.3" cy="91.1" r="1.6"/></g>
<g fill="#f00"><circle cx="366.1" cy="71.2" r="1.6"/></g>
<g fill="#0f0"><circle cx="355.8" cy="108.8" r="1.6"/><circle cx="328.2" cy="95.9" r="1.6"/></g>
<g fill="#f00"><circle cx="264.3" cy="101.4" r="1.6"/></g>
<g fill="#0f0"><circle cx="454.9" cy="87.0" r="1.6"/><circle cx="356.4" cy="105.5" r="1.6"/><circle cx="357.5" cy="101.3" r="1.6"/></g>
<g fill="#f00"><circle cx="356.1" cy="105.7" r="1.6"/></g>
<g fill="#0f0"><circle cx="134.3" cy="119.9" r="1.6"/></g>
<g fill="#f00"><circle cx="264.1" cy="99.9" r="1.6"/></g>
<g fill="#0f0"><circle cx="129.4" cy="137.3" r="1.6"/><circle cx="129.3" cy="137.3" r="1.6"/></g>
<g fill="#f00"><circle cx="263.9" cy="100.0" r="1.6"/></g>
<g fill="#0f0"><circle cx="127.7" cy="142.2" r="1.6"/><circle cx="129.4" cy="135.7" r="1.6"/></g>
<g fill="#f00"><circle cx="129.3" cy="136.0" r="1.6"/><circle cx="134.3" cy="117.5" r="1.6"/></g>
<g fill="#0f0"><circle cx="323.5" cy="108.1" r="1.6"/></g>
<g fill="#f00"><circle cx="490.0" cy="67.8" r="1.6"/></g>
<g fill="#0f0"><circle cx="294.4" cy="100.2" r="1.6"/><circle cx="260.0" cy="112.3" r="1.6"/><circle cx="127.7" cy="140.8" r="1.6"/><circle cx="265.6" cy="91.2" r="1.6"/></g>
<g fill="#f00"><circle cx="364.4" cy="71.4" r="1.6"/></g>
<g fill="#0f0"><circle cx="263.1" cy="100.4" r="1.6"/><circle cx="260.2" cy="110.9" r="1.6"/><circle cx="293.5" cy="102.6" r="1.6"/><circle cx="354.7" cy="106.3" r="1.6"/></g>
<g fill="#f00"><circle cx="295.9" cy="93.3" r="1.6"/></g>
<g fill="#0f0"><circle cx="127.7" cy="139.6" r="1.6"/><circle cx="293.3" cy="103.0" r="1.6"/><circle cx="453.2" cy="87.1" r="1.6"/><circle cx="355.8" cy="101.4" r="1.6"/><circle cx="132.8" cy="120.1" r="1.6"/><circle cx="387.0" cy="100.6" r="1.6"/><circle cx="324.2" cy="102.2" r="1.6"/><circle cx="127.7" cy="137.7" r="1.6"/></g>
<g fill="#f00"><circle cx="262.4" cy="100.1" r="1.6"/><circle cx="488.1" cy="70.7" r="1.6"/></g>
<g fill="#0f0"><circle cx="130.4" cy="127.1" r="1.6"/><circle cx="127.7" cy="136.5" r="1.6"/><circle cx="452.3" cy="87.7" r="1.6"/><circle cx="126.0" cy="142.6" r="1.6"/></g>
<g fill="#f00"><circle cx="132.8" cy="117.6" r="1.6"/></g>
<g fill="#0f0"><circle cx="259.2" cy="110.2" r="1.6"/></g>
<g fill="#f00"><circle cx="486.3" cy="76.3" r="1.6"/><circle cx="130.4" cy="125.8" r="1.6"/></g>
<g fill="#0f0"><circle cx="126.0" cy="141.4" r="1.6"/></g>
<g fill="#f00"><circle cx="425.9" cy="67.6" r="1.6"/></g>
<g fill="#0f0"><circle cx="126.0" cy="139.8" r="1.6"/><circle cx="353.0" cy="106.5" r="1.6"/><circle cx="126.0" cy="139.4" r="1.6"/><circle cx="322.6" cy="102.3" r="1.6"/></g>
<g fill="#f00"><circle cx="326.3" cy="88.2" r="1.6"/><circle cx="260.0" cy="103.1" r="1.6"/><circle cx="456.2" cy="68.2" r="1.6"/></g>
<g fill="#0f0"><circle cx="126.0" cy="137.3" r="1.6"/></g>
<g fill="#f00"><circle cx="293.3" cy="94.6" r="1.6"/></g>
<g fill="#0f0"><circle cx="450.6" cy="87.9" r="1.6"/><circle cx="257.5" cy="110.4" r="1.6"/><circle cx="126.0" cy="135.9" r="1.6"/><circle cx="321.5" cy="104.0" r="1.6"/></g>
<g fill="#f00"><circle cx="484.6" cy="76.4" r="1.6"/><circle cx="486.3" cy="69.6" r="1.6"/><circle cx="393.7" cy="65.7" r="1.6"/><circle cx="350.9" cy="106.6" r="1.6"/><circle cx="454.5" cy="68.3" r="1.6"/></g>
<g fill="#0f0"><circle cx="254.7" cy="115.7" r="1.6"/></g>
<g fill="#f00"><circle cx="320.4" cy="102.9" r="1.6"/><circle cx="256.8" cy="107.1" r="1.6"/><circle cx="484.6" cy="69.8" r="1.6"/><circle cx="320.2" cy="101.8" r="1.6"/></g>
<g fill="#0f0"><circle cx="321.7" cy="95.7" r="1.6"/></g>
<g fill="#f00"><circle cx="290.6" cy="95.2" r="1.6"/></g>
<g fill="#0f0"><circle cx="320.0" cy="101.0" r="1.6"/></g>
<g fill="#f00"><circle cx="221.0" cy="121.4" r="1.6"/><circle cx="256.2" cy="106.0" r="1.6"/><circle cx="349.2" cy="106.7" r="1.6"/></g>
<g fill="#0f0"><circle cx="218.3" cy="130.1" r="1.6"/></g>
<g fill="#f00"><circle cx="318.7" cy="103.0" r="1.6"/></g>
<g fill="#0f0"><circle cx="448.4" cy="83.6" r="1.6"/></g>
<g fill="#f00"><circle cx="255.8" cy="103.8" r="1.6"/></g>
<g fill="#0f0"><circle cx="318.3" cy="102.2" r="1.6"/></g>
<g fill="#f00"><circle cx="254.7" cy="106.5" r="1.6"/></g>
<g fill="#0f0"><circle cx="446.5" cy="87.6" r="1.6"/></g>
<g fill="#f00"><circle cx="318.1" cy="100.9" r="1.6"/><circle cx="450.8" cy="70.8" r="1.6"/></g>
<g fill="#0f0"><circle cx="378.6" cy="106.5" r="1.6"/></g>
<g fill="#f00"><circle cx="218.3" cy="122.9" r="1.6"/><circle cx="320.0" cy="92.3" r="1.6"/><circle cx="482.6" cy="66.5" r="1.6"/></g>
<g fill="#0f0"><circle cx="317.3" cy="101.9" r="1.6"/><circle cx="446.7" cy="83.7" r="1.6"/><circle cx="345.4" cy="111.1" r="1.6"/><circle cx="444.8" cy="87.7" r="1.6"/></g>
<g fill="#f00"><circle cx="377.2" cy="107.1" r="1.6"/><circle cx="253.8" cy="102.5" r="1.6"/><circle cx="316.4" cy="101.0" r="1.6"/><circle cx="449.1" cy="70.9" r="1.6"/></g>
<g fill="#0f0"><circle cx="316.4" cy="101.0" r="1.6"/><circle cx="376.0" cy="109.3" r="1.6"/></g>
<g fill="#f00"><circle cx="481.0" cy="66.6" r="1.6"/><circle cx="252.0" cy="106.5" r="1.6"/><circle cx="346.8" cy="100.3" r="1.6"/><circle cx="317.3" cy="93.2" r="1.6"/><circle cx="375.5" cy="107.2" r="1.6"/><circle cx="252.2" cy="102.7" r="1.6"/></g>
<g fill="#0f0"><circle cx="314.7" cy="101.2" r="1.6"/><circle cx="473.8" cy="87.2" r="1.6"/></g>
<g fill="#f00"><circle cx="250.9" cy="105.2" r="1.6"/></g>
<g fill="#0f0"><circle cx="344.2" cy="104.8" r="1.6"/><circle cx="314.0" cy="101.0" r="1.6"/><circle cx="281.3" cy="106.4" r="1.6"/></g>
<g fill="#f00"><circle cx="345.1" cy="100.5" r="1.6"/></g>
<g fill="#0f0"><circle cx="310.9" cy="111.5" r="1.6"/><circle cx="280.2" cy="108.5" r="1.6"/></g>
<g fill="#f00"><circle cx="283.9" cy="94.9" r="1.6"/><circle cx="314.7" cy="94.5" r="1.6"/></g>
<g fill="#0f0"><circle cx="313.0" cy="100.3" r="1.6"/><circle cx="472.1" cy="87.4" r="1.6"/></g>
<g fill="#f00"><circle cx="249.2" cy="105.3" r="1.6"/></g>
<g fill="#0f0"><circle cx="342.5" cy="104.9" r="1.6"/><circle cx="279.4" cy="107.5" r="1.6"/><circle cx="279.6" cy="106.5" r="1.6"/><circle cx="438.5" cy="93.3" r="1.6"/></g>
<g fill="#f00"><circle cx="414.0" cy="68.1" r="1.6"/><circle cx="444.8" cy="67.6" r="1.6"/></g>
<g fill="#0f0"><circle cx="311.3" cy="100.4" r="1.6"/></g>
<g fill="#f00"><circle cx="280.2" cy="100.1" r="1.6"/></g>
<g fill="#0f0"><circle cx="405.1" cy="96.5" r="1.6"/><circle cx="375.0" cy="92.6" r="1.6"/><circle cx="436.8" cy="93.4" r="1.6"/></g>
<g fill="#f00"><circle cx="412.3" cy="68.2" r="1.6"/></g>
<g fill="#0f0"><circle cx="309.0" cy="104.4" r="1.6"/><circle cx="144.5" cy="135.7" r="1.6"/><circle cx="309.5" cy="101.0" r="1.6"/><circle cx="309.3" cy="101.5" r="1.6"/></g>
<g fill="#f00"><circle cx="144.5" cy="134.4" r="1.6"/><circle cx="242.9" cy="116.2" r="1.6"/></g>
<g fill="#0f0"><circle cx="373.3" cy="92.7" r="1.6"/></g>
<g fill="#f00"><circle cx="347.2" cy="73.3" r="1.6"/></g>
<g fill="#0f0"><circle cx="341.4" cy="94.1" r="1.6"/><circle cx="498.8" cy="87.5" r="1.6"/><circle cx="307.3" cy="104.5" r="1.6"/><circle cx="274.5" cy="110.6" r="1.6"/></g>
<g fill="#f00"><circle cx="410.1" cy="69.5" r="1.6"/><circle cx="344.1" cy="83.1" r="1.6"/></g>
<g fill="#0f0"><circle cx="307.8" cy="101.1" r="1.6"/></g>
<g fill="#f00"><circle cx="245.5" cy="101.2" r="1.6"/><circle cx="275.0" cy="105.2" r="1.6"/><circle cx="275.4" cy="102.8" r="1.6"/></g>
<g fill="#0f0"><circle cx="237.5" cy="127.2" r="1.6"/><circle cx="497.2" cy="87.6" r="1.6"/></g>
<g fill="#f00"><circle cx="439.2" cy="71.4" r="1.6"/></g>
<g fill="#0f0"><circle cx="272.9" cy="110.7" r="1.6"/><circle cx="141.2" cy="137.1" r="1.6"/></g>
<g fill="#f00"><circle cx="408.4" cy="69.7" r="1.6"/></g>
<g fill="#0f0"><circle cx="338.8" cy="96.0" r="1.6"/></g>
<g fill="#f00"><circle cx="141.2" cy="135.8" r="1.6"/><circle cx="341.4" cy="85.1" r="1.6"/><circle cx="275.7" cy="97.6" r="1.6"/></g>
<g fill="#0f0"><circle cx="338.7" cy="94.6" r="1.6"/><circle cx="144.3" cy="121.6" r="1.6"/><circle cx="138.3" cy="143.8" r="1.6"/><circle cx="463.3" cy="92.8" r="1.6"/></g>
<g fill="#f00"><circle cx="408.9" cy="63.4" r="1.6"/></g>
<g fill="#0f0"><circle cx="366.5" cy="104.6" r="1.6"/><circle cx="138.3" cy="142.5" r="1.6"/><circle cx="139.5" cy="137.9" r="1.6"/></g>
<g fill="#f00"><circle cx="437.5" cy="71.5" r="1.6"/></g>
<g fill="#0f0"><circle cx="364.7" cy="110.3" r="1.6"/></g>
<g fill="#f00"><circle cx="144.3" cy="119.2" r="1.6"/><circle cx="139.5" cy="136.6" r="1.6"/><circle cx="237.5" cy="119.3" r="1.6"/></g>
<g fill="#0f0"><circle cx="337.1" cy="96.2" r="1.6"/></g>
<g fill="#f00"><circle cx="342.5" cy="75.4" r="1.6"/></g>
<g fill="#0f0"><circle cx="138.3" cy="138.8" r="1.6"/><circle cx="142.9" cy="121.8" r="1.6"/><circle cx="463.3" cy="87.7" r="1.6"/><circle cx="303.1" cy="104.0" r="1.6"/><circle cx="136.6" cy="144.0" r="1.6"/><circle cx="138.3" cy="137.4" r="1.6"/></g>
<g fill="#f00"><circle cx="467.9" cy="69.4" r="1.6"/><circle cx="272.7" cy="100.5" r="1.6"/></g>
<g fill="#0f0"><circle cx="136.6" cy="143.3" r="1.6"/></g>
<g fill="#f00"><circle cx="266.4" cy="123.5" r="1.6"/></g>
<g fill="#0f0"><circle cx="399.9" cy="90.4" r="1.6"/></g>
<g fill="#f00"><circle cx="407.2" cy="63.5" r="1.6"/></g>
<g fill="#0f0"><circle cx="335.3" cy="98.9" r="1.6"/><circle cx="364.8" cy="104.8" r="1.6"/></g>
<g fill="#f00"><circle cx="142.9" cy="119.3" r="1.6"/><circle cx="338.7" cy="85.6" r="1.6"/><circle cx="373.2" cy="73.1" r="1.6"/></g>
<g fill="#0f0"><circle cx="363.0" cy="110.4" r="1.6"/></g>
<g fill="#f00"><circle cx="333.7" cy="103.4" r="1.6"/></g>
<g fill="#0f0"><circle cx="364.7" cy="103.9" r="1.6"/><circle cx="363.5" cy="106.7" r="1.6"/></g>
<g fill="#f00"><circle cx="340.8" cy="75.6" r="1.6"/></g>
<g fill="#0f0"><circle cx="141.4" cy="121.9" r="1.6"/><circle cx="136.6" cy="139.2" r="1.6"/><circle cx="136.4" cy="139.2" r="1.6"/><circle cx="461.6" cy="87.8" r="1.6"/><circle cx="361.8" cy="111.0" r="1.6"/><circle cx="335.0" cy="95.1" r="1.6"/><circle cx="134.9" cy="144.3" r="1.6"/><circle cx="136.6" cy="138.0" r="1.6"/></g>
<g fill="#f00"><circle cx="435.5" cy="68.8" r="1.6"/></g>
<g fill="#0f0"><circle cx="331.4" cy="107.9" r="1.6"/></g>
<g fill="#f00"><circle cx="136.4" cy="137.9" r="1.6"/><circle cx="141.4" cy="119.4" r="1.6"/></g>
<g fill="#0f0"><circle cx="267.2" cy="114.8" r="1.6"/></g>
<g fill="#f00"><circle cx="271.0" cy="100.6" r="1.6"/></g>
<g fill="#0f0"><circle cx="398.2" cy="90.5" r="1.6"/><circle cx="398.3" cy="90.2" r="1.6"/><circle cx="134.9" cy="143.0" r="1.6"/></g>
<g fill="#f00"><circle cx="338.4" cy="80.7" r="1.6"/></g>
<g fill="#0f0"><circle cx="330.6" cy="109.4" r="1.6"/></g>
<g fill="#f00"><circle cx="371.5" cy="73.2" r="1.6"/><circle cx="497.2" cy="68.9" r="1.6"/></g>
<g fill="#0f0"><circle cx="134.9" cy="141.9" r="1.6"/></g>
<g fill="#f00"><circle cx="303.1" cy="95.6" r="1.6"/></g>
<g fill="#0f0"><circle cx="300.4" cy="105.3" r="1.6"/><circle cx="363.0" cy="104.0" r="1.6"/></g>
<g fill="#f00"><circle cx="363.2" cy="102.9" r="1.6"/></g>
<g fill="#0f0"><circle cx="270.2" cy="100.9" r="1.6"/></g>
<g fill="#f00"><circle cx="263.9" cy="124.2" r="1.6"/></g>
<g fill="#0f0"><circle cx="139.9" cy="122.0" r="1.6"/></g>
<g fill="#f00"><circle cx="434.1" cy="69.6" r="1.6"/><circle cx="433.0" cy="73.3" r="1.6"/><circle cx="493.4" cy="80.0" r="1.6"/></g>
<g fill="#0f0"><circle cx="134.9" cy="139.1" r="1.6"/><circle cx="394.1" cy="101.4" r="1.6"/><circle cx="137.5" cy="129.0" r="1.6"/></g>
<g fill="#f00"><circle cx="139.9" cy="119.6" r="1.6"/></g>
<g fill="#0f0"><circle cx="360.1" cy="111.2" r="1.6"/><circle cx="333.3" cy="95.2" r="1.6"/><circle cx="134.9" cy="138.1" r="1.6"/><circle cx="133.2" cy="144.2" r="1.6"/><circle cx="329.7" cy="108.0" r="1.6"/></g>
<g fill="#f00"><circle cx="137.5" cy="127.7" r="1.6"/><circle cx="137.5" cy="127.6" r="1.6"/></g>
<g fill="#0f0"><circle cx="396.6" cy="90.3" r="1.6"/><circle cx="133.2" cy="143.1" r="1.6"/></g>
<g fill="#f00"><circle cx="404.9" cy="58.6" r="1.6"/></g>
<g fill="#0f0"><circle cx="361.3" cy="104.7" r="1.6"/><circle cx="133.2" cy="141.7" r="1.6"/><circle cx="489.8" cy="88.9" r="1.6"/><circle cx="264.5" cy="115.5" r="1.6"/></g>
<g fill="#f00"><circle cx="267.2" cy="105.6" r="1.6"/><circle cx="329.2" cy="106.1" r="1.6"/></g>
<g fill="#0f0"><circle cx="133.2" cy="139.7" r="1.6"/></g>
<g fill="#f00"><circle cx="300.4" cy="96.8" r="1.6"/></g>
<g fill="#0f0"><circle cx="297.8" cy="106.6" r="1.6"/></g>
<g fill="#f00"><circle cx="491.7" cy="80.1" r="1.6"/><circle cx="463.3" cy="69.2" r="1.6"/></g>
<g fill="#0f0"><circle cx="133.2" cy="138.3" r="1.6"/></g>
<g fill="#f00"><circle cx="230.8" cy="122.5" r="1.6"/><circle cx="261.3" cy="124.2" r="1.6"/></g>
<g fill="#0f0"><circle cx="228.1" cy="131.9" r="1.6"/><circle cx="328.6" cy="104.4" r="1.6"/></g>
<g fill="#f00"><circle cx="399.0" cy="73.2" r="1.6"/></g>
<g fill="#0f0"><circle cx="488.1" cy="89.1" r="1.6"/></g>
<g fill="#f00"><circle cx="461.6" cy="69.4" r="1.6"/><circle cx="358.0" cy="106.5" r="1.6"/></g>
<g fill="#0f0"><circle cx="261.8" cy="116.5" r="1.6"/></g>
<g fill="#f00"><circle cx="264.5" cy="106.4" r="1.6"/><circle cx="297.8" cy="98.1" r="1.6"/><circle cx="228.1" cy="124.8" r="1.6"/><circle cx="428.7" cy="73.7" r="1.6"/><circle cx="327.4" cy="102.6" r="1.6"/></g>
<g fill="#0f0"><circle cx="225.4" cy="132.8" r="1.6"/></g>
<g fill="#f00"><circle cx="258.8" cy="124.5" r="1.6"/><circle cx="263.3" cy="106.4" r="1.6"/><circle cx="365.6" cy="72.7" r="1.6"/></g>
<g fill="#0f0"><circle cx="455.5" cy="85.3" r="1.6"/></g>
<g fill="#f00"><circle cx="356.3" cy="106.6" r="1.6"/><circle cx="262.9" cy="105.8" r="1.6"/><circle cx="427.0" cy="73.8" r="1.6"/></g>
<g fill="#0f0"><circle cx="259.2" cy="118.3" r="1.6"/></g>
<g fill="#f00"><circle cx="261.8" cy="107.3" r="1.6"/><circle cx="225.4" cy="125.7" r="1.6"/></g>
<g fill="#0f0"><circle cx="325.4" cy="101.1" r="1.6"/></g>
<g fill="#f00"><circle cx="327.1" cy="94.6" r="1.6"/><circle cx="484.5" cy="87.8" r="1.6"/><circle cx="489.8" cy="68.2" r="1.6"/><circle cx="364.0" cy="72.8" r="1.6"/><circle cx="256.3" cy="125.3" r="1.6"/></g>
<g fill="#0f0"><circle cx="453.8" cy="85.5" r="1.6"/><circle cx="352.5" cy="113.5" r="1.6"/><circle cx="262.4" cy="101.5" r="1.6"/></g>
<g fill="#f00"><circle cx="261.2" cy="105.3" r="1.6"/></g>
<g fill="#0f0"><circle cx="292.6" cy="103.1" r="1.6"/><circle cx="323.5" cy="103.8" r="1.6"/></g>
<g fill="#f00"><circle cx="261.0" cy="104.5" r="1.6"/></g>
<g fill="#0f0"><circle cx="383.1" cy="112.5" r="1.6"/></g>
<g fill="#f00"><circle cx="259.2" cy="109.2" r="1.6"/><circle cx="488.1" cy="68.3" r="1.6"/><circle cx="457.9" cy="63.8" r="1.6"/></g>
<g fill="#0f0"><circle cx="322.5" cy="103.4" r="1.6"/><circle cx="321.8" cy="105.8" r="1.6"/><circle cx="479.1" cy="99.8" r="1.6"/></g>
<g fill="#f00"><circle cx="255.4" cy="120.3" r="1.6"/></g>
<g fill="#0f0"><circle cx="315.1" cy="129.2" r="1.6"/><circle cx="290.9" cy="103.2" r="1.6"/></g>
<g fill="#f00"><circle cx="353.9" cy="100.4" r="1.6"/></g>
<g fill="#0f0"><circle cx="321.8" cy="103.9" r="1.6"/></g>
<g fill="#f00"><circle cx="253.7" cy="125.4" r="1.6"/><circle cx="259.3" cy="104.6" r="1.6"/></g>
<g fill="#0f0"><circle cx="321.1" cy="103.6" r="1.6"/><circle cx="481.0" cy="87.8" r="1.6"/><circle cx="287.4" cy="112.8" r="1.6"/></g>
<g fill="#f00"><circle cx="456.2" cy="64.0" r="1.6"/></g>
<g fill="#0f0"><circle cx="320.8" cy="103.5" r="1.6"/><circle cx="354.1" cy="95.3" r="1.6"/></g>
<g fill="#f00"><circle cx="257.6" cy="106.6" r="1.6"/></g>
<g fill="#0f0"><circle cx="351.4" cy="105.1" r="1.6"/></g>
<g fill="#f00"><circle cx="158.9" cy="125.8" r="1.6"/></g>
<g fill="#0f0"><circle cx="288.5" cy="107.2" r="1.6"/></g>
<g fill="#f00"><circle cx="253.7" cy="120.5" r="1.6"/><circle cx="291.0" cy="97.0" r="1.6"/><circle cx="352.3" cy="100.5" r="1.6"/><circle cx="321.8" cy="97.1" r="1.6"/></g>
<g fill="#0f0"><circle cx="318.0" cy="111.0" r="1.6"/><circle cx="312.6" cy="130.1" r="1.6"/></g>
<g fill="#f00"><circle cx="323.1" cy="90.9" r="1.6"/></g>
<g fill="#0f0"><circle cx="479.3" cy="87.9" r="1.6"/></g>
<g fill="#f00"><circle cx="324.1" cy="85.7" r="1.6"/><circle cx="251.2" cy="124.9" r="1.6"/></g>
<g fill="#0f0"><circle cx="352.4" cy="95.5" r="1.6"/><circle cx="349.7" cy="105.2" r="1.6"/><circle cx="286.8" cy="107.3" r="1.6"/></g>
<g fill="#f00"><circle cx="287.4" cy="104.3" r="1.6"/><circle cx="257.5" cy="99.5" r="1.6"/><circle cx="451.9" cy="71.2" r="1.6"/></g>
<g fill="#0f0"><circle cx="284.7" cy="113.8" r="1.6"/><circle cx="286.5" cy="106.7" r="1.6"/><circle cx="445.6" cy="92.1" r="1.6"/><circle cx="351.2" cy="95.0" r="1.6"/><circle cx="310.0" cy="130.6" r="1.6"/><circle cx="316.4" cy="106.6" r="1.6"/><circle cx="412.2" cy="97.4" r="1.6"/><circle cx="316.1" cy="107.0" r="1.6"/><circle cx="316.6" cy="104.4" r="1.6"/><circle cx="151.7" cy="137.7" r="1.6"/><circle cx="444.0" cy="92.2" r="1.6"/></g>
<g fill="#f00"><circle cx="284.7" cy="105.4" r="1.6"/><circle cx="151.7" cy="136.3" r="1.6"/><circle cx="354.4" cy="77.3" r="1.6"/><circle cx="353.7" cy="78.7" r="1.6"/><circle cx="480.1" cy="71.5" r="1.6"/></g>
<g fill="#0f0"><circle cx="314.5" cy="107.2" r="1.6"/></g>
<g fill="#f00"><circle cx="351.2" cy="86.0" r="1.6"/><circle cx="417.3" cy="71.9" r="1.6"/></g>
<g fill="#0f0"><circle cx="314.9" cy="104.6" r="1.6"/><circle cx="441.3" cy="97.8" r="1.6"/><circle cx="307.5" cy="131.1" r="1.6"/></g>
<g fill="#f00"><circle cx="252.6" cy="102.7" r="1.6"/><circle cx="246.1" cy="126.1" r="1.6"/><circle cx="478.4" cy="71.7" r="1.6"/><circle cx="415.6" cy="72.1" r="1.6"/><circle cx="252.5" cy="99.2" r="1.6"/></g>
<g fill="#0f0"><circle cx="148.3" cy="139.0" r="1.6"/><circle cx="439.6" cy="97.9" r="1.6"/><circle cx="281.7" cy="106.1" r="1.6"/></g>
<g fill="#f00"><circle cx="446.4" cy="71.8" r="1.6"/></g>
<g fill="#0f0"><circle cx="345.9" cy="98.0" r="1.6"/></g>
<g fill="#f00"><circle cx="148.3" cy="137.7" r="1.6"/></g>
<g fill="#0f0"><circle cx="373.7" cy="109.5" r="1.6"/></g>
<g fill="#f00"><circle cx="348.5" cy="86.5" r="1.6"/><circle cx="280.2" cy="108.9" r="1.6"/></g>
<g fill="#0f0"><circle cx="151.4" cy="123.6" r="1.6"/><circle cx="145.4" cy="145.7" r="1.6"/><circle cx="145.4" cy="144.6" r="1.6"/><circle cx="146.6" cy="139.9" r="1.6"/></g>
<g fill="#f00"><circle cx="243.6" cy="126.0" r="1.6"/></g>
<g fill="#0f0"><circle cx="302.7" cy="137.2" r="1.6"/></g>
<g fill="#f00"><circle cx="151.4" cy="121.1" r="1.6"/></g>
<g fill="#0f0"><circle cx="280.0" cy="106.3" r="1.6"/></g>
<g fill="#f00"><circle cx="146.6" cy="138.6" r="1.6"/><circle cx="444.7" cy="72.0" r="1.6"/></g>
<g fill="#0f0"><circle cx="371.8" cy="111.2" r="1.6"/><circle cx="407.0" cy="95.8" r="1.6"/><circle cx="372.0" cy="109.7" r="1.6"/><circle cx="281.6" cy="98.4" r="1.6"/><circle cx="145.4" cy="141.3" r="1.6"/><circle cx="280.3" cy="102.8" r="1.6"/><circle cx="310.2" cy="106.9" r="1.6"/><circle cx="150.0" cy="123.7" r="1.6"/><circle cx="470.4" cy="89.5" r="1.6"/><circle cx="145.4" cy="139.9" r="1.6"/><circle cx="143.7" cy="146.0" r="1.6"/></g>
<g fill="#f00"><circle cx="345.9" cy="89.0" r="1.6"/><circle cx="412.4" cy="73.0" r="1.6"/></g>
<g fill="#0f0"><circle cx="342.4" cy="101.0" r="1.6"/><circle cx="371.8" cy="107.5" r="1.6"/><circle cx="143.7" cy="144.9" r="1.6"/></g>
<g fill="#f00"><circle cx="150.0" cy="121.3" r="1.6"/></g>
<g fill="#0f0"><circle cx="370.1" cy="111.3" r="1.6"/><circle cx="405.4" cy="95.9" r="1.6"/></g>
<g fill="#f00"><circle cx="340.8" cy="104.1" r="1.6"/></g>
<g fill="#0f0"><circle cx="148.5" cy="123.8" r="1.6"/></g>
<g fill="#f00"><circle cx="241.0" cy="127.1" r="1.6"/><circle cx="475.0" cy="67.7" r="1.6"/></g>
<g fill="#0f0"><circle cx="279.9" cy="98.5" r="1.6"/><circle cx="177.2" cy="132.4" r="1.6"/><circle cx="143.7" cy="140.9" r="1.6"/><circle cx="143.6" cy="141.2" r="1.6"/><circle cx="300.2" cy="137.5" r="1.6"/><circle cx="468.7" cy="89.6" r="1.6"/><circle cx="142.0" cy="146.4" r="1.6"/><circle cx="143.7" cy="139.9" r="1.6"/><circle cx="274.3" cy="117.4" r="1.6"/><circle cx="342.1" cy="96.8" r="1.6"/></g>
<g fill="#f00"><circle cx="143.6" cy="139.9" r="1.6"/><circle cx="148.5" cy="121.4" r="1.6"/></g>
<g fill="#0f0"><circle cx="370.1" cy="107.7" r="1.6"/><circle cx="307.8" cy="107.8" r="1.6"/></g>
<g fill="#f00"><circle cx="177.2" cy="130.2" r="1.6"/></g>
<g fill="#0f0"><circle cx="142.0" cy="145.1" r="1.6"/></g>
<g fill="#f00"><circle cx="442.6" cy="69.5" r="1.6"/></g>
<g fill="#0f0"><circle cx="337.7" cy="111.8" r="1.6"/></g>
<g fill="#f00"><circle cx="310.2" cy="98.4" r="1.6"/><circle cx="500.5" cy="84.8" r="1.6"/><circle cx="504.3" cy="70.7" r="1.6"/></g>
<g fill="#0f0"><circle cx="307.5" cy="107.3" r="1.6"/><circle cx="142.0" cy="143.6" r="1.6"/><circle cx="369.0" cy="110.0" r="1.6"/></g>
<g fill="#f00"><circle cx="278.6" cy="98.6" r="1.6"/></g>
<g fill="#0f0"><circle cx="147.1" cy="123.9" r="1.6"/></g>
<g fill="#f00"><circle cx="412.0" cy="64.9" r="1.6"/><circle cx="502.4" cy="76.0" r="1.6"/><circle cx="370.3" cy="103.6" r="1.6"/></g>
<g fill="#0f0"><circle cx="237.9" cy="132.5" r="1.6"/><circle cx="274.4" cy="112.1" r="1.6"/><circle cx="142.0" cy="141.2" r="1.6"/><circle cx="401.3" cy="103.5" r="1.6"/><circle cx="144.7" cy="130.9" r="1.6"/></g>
<g fill="#f00"><circle cx="441.2" cy="70.4" r="1.6"/><circle cx="147.1" cy="121.5" r="1.6"/></g>
<g fill="#0f0"><circle cx="140.3" cy="146.5" r="1.6"/><circle cx="142.0" cy="140.2" r="1.6"/><circle cx="340.5" cy="96.9" r="1.6"/></g>
<g fill="#f00"><circle cx="144.7" cy="129.6" r="1.6"/></g>
<g fill="#0f0"><circle cx="140.3" cy="145.2" r="1.6"/></g>
<g fill="#f00"><circle cx="498.8" cy="85.0" r="1.6"/></g>
<g fill="#0f0"><circle cx="297.7" cy="137.7" r="1.6"/><circle cx="140.3" cy="143.5" r="1.6"/><circle cx="367.3" cy="110.1" r="1.6"/></g>
<g fill="#f00"><circle cx="274.3" cy="108.3" r="1.6"/></g>
<g fill="#0f0"><circle cx="273.5" cy="111.2" r="1.6"/><circle cx="496.9" cy="90.8" r="1.6"/><circle cx="304.9" cy="109.9" r="1.6"/></g>
<g fill="#f00"><circle cx="336.3" cy="107.6" r="1.6"/></g>
<g fill="#0f0"><circle cx="140.3" cy="141.6" r="1.6"/></g>
<g fill="#f00"><circle cx="307.5" cy="98.9" r="1.6"/><circle cx="408.0" cy="72.6" r="1.6"/></g>
<g fill="#0f0"><circle cx="335.7" cy="109.4" r="1.6"/></g>
<g fill="#f00"><circle cx="237.9" cy="125.3" r="1.6"/></g>
<g fill="#0f0"><circle cx="140.3" cy="140.5" r="1.6"/></g>
<g fill="#f00"><circle cx="340.6" cy="90.1" r="1.6"/></g>
<g fill="#0f0"><circle cx="235.2" cy="133.6" r="1.6"/></g>
<g fill="#f00"><circle cx="376.4" cy="71.1" r="1.6"/><circle cx="406.1" cy="75.8" r="1.6"/></g>
<g fill="#0f0"><circle cx="271.8" cy="111.3" r="1.6"/><circle cx="495.2" cy="90.9" r="1.6"/><circle cx="295.1" cy="138.0" r="1.6"/></g>
<g fill="#f00"><circle cx="304.9" cy="101.4" r="1.6"/><circle cx="271.6" cy="109.1" r="1.6"/></g>
<g fill="#0f0"><circle cx="269.0" cy="118.8" r="1.6"/><circle cx="334.3" cy="106.6" r="1.6"/></g>
<g fill="#f00"><circle cx="235.2" cy="126.4" r="1.6"/><circle cx="297.5" cy="125.8" r="1.6"/></g>
<g fill="#0f0"><circle cx="232.6" cy="135.2" r="1.6"/></g>
<g fill="#f00"><circle cx="334.5" cy="102.8" r="1.6"/><circle cx="435.8" cy="73.4" r="1.6"/><circle cx="270.4" cy="107.6" r="1.6"/></g>
<g fill="#0f0"><circle cx="294.8" cy="132.3" r="1.6"/><circle cx="462.7" cy="87.2" r="1.6"/></g>
<g fill="#f00"><circle cx="491.6" cy="94.5" r="1.6"/><circle cx="233.4" cy="127.3" r="1.6"/></g>
<g fill="#0f0"><circle cx="266.3" cy="120.7" r="1.6"/><circle cx="292.6" cy="138.2" r="1.6"/></g>
<g fill="#f00"><circle cx="496.8" cy="73.5" r="1.6"/></g>
<g fill="#0f0"><circle cx="460.8" cy="91.5" r="1.6"/><circle cx="332.6" cy="104.8" r="1.6"/></g>
<g fill="#f00"><circle cx="269.0" cy="109.6" r="1.6"/><circle cx="334.3" cy="97.9" r="1.6"/><circle cx="232.6" cy="128.0" r="1.6"/><circle cx="434.1" cy="73.5" r="1.6"/><circle cx="295.0" cy="126.8" r="1.6"/><circle cx="270.0" cy="103.7" r="1.6"/></g>
<g fill="#0f0"><circle cx="461.0" cy="87.3" r="1.6"/><circle cx="269.5" cy="104.4" r="1.6"/><circle cx="359.7" cy="116.0" r="1.6"/><circle cx="392.9" cy="107.4" r="1.6"/></g>
<g fill="#f00"><circle cx="495.1" cy="73.6" r="1.6"/></g>
<g fill="#0f0"><circle cx="459.1" cy="91.7" r="1.6"/><circle cx="292.3" cy="132.7" r="1.6"/></g>
<g fill="#f00"><circle cx="268.4" cy="104.8" r="1.6"/><circle cx="230.9" cy="127.8" r="1.6"/><circle cx="266.3" cy="111.6" r="1.6"/></g>
<g fill="#0f0"><circle cx="299.8" cy="103.0" r="1.6"/><circle cx="290.0" cy="138.5" r="1.6"/><circle cx="330.6" cy="103.1" r="1.6"/></g>
<g fill="#f00"><circle cx="495.7" cy="68.1" r="1.6"/><circle cx="465.0" cy="66.5" r="1.6"/></g>
<g fill="#0f0"><circle cx="329.0" cy="108.8" r="1.6"/><circle cx="329.7" cy="106.0" r="1.6"/><circle cx="486.2" cy="102.5" r="1.6"/></g>
<g fill="#f00"><circle cx="331.6" cy="98.4" r="1.6"/></g>
<g fill="#0f0"><circle cx="390.3" cy="111.6" r="1.6"/></g>
<g fill="#f00"><circle cx="262.5" cy="122.8" r="1.6"/><circle cx="292.4" cy="126.7" r="1.6"/></g>
<g fill="#0f0"><circle cx="298.1" cy="103.1" r="1.6"/><circle cx="425.7" cy="91.0" r="1.6"/><circle cx="328.9" cy="103.2" r="1.6"/></g>
<g fill="#f00"><circle cx="463.3" cy="66.7" r="1.6"/></g>
<g fill="#0f0"><circle cx="488.1" cy="89.9" r="1.6"/><circle cx="289.7" cy="132.6" r="1.6"/><circle cx="358.5" cy="108.5" r="1.6"/><circle cx="328.0" cy="106.1" r="1.6"/><circle cx="294.5" cy="114.3" r="1.6"/><circle cx="328.2" cy="104.3" r="1.6"/><circle cx="296.2" cy="107.6" r="1.6"/></g>
<g fill="#f00"><circle cx="260.8" cy="122.9" r="1.6"/></g>
<g fill="#0f0"><circle cx="287.5" cy="139.1" r="1.6"/></g>
<g fill="#f00"><circle cx="166.1" cy="127.3" r="1.6"/><circle cx="265.2" cy="105.9" r="1.6"/></g>
<g fill="#0f0"><circle cx="295.6" cy="108.5" r="1.6"/></g>
<g fill="#f00"><circle cx="329.0" cy="100.1" r="1.6"/><circle cx="264.7" cy="106.6" r="1.6"/></g>
<g fill="#0f0"><circle cx="325.1" cy="111.7" r="1.6"/><circle cx="424.0" cy="91.1" r="1.6"/><circle cx="486.4" cy="90.1" r="1.6"/><circle cx="356.8" cy="108.6" r="1.6"/></g>
<g fill="#f00"><circle cx="330.2" cy="90.3" r="1.6"/><circle cx="263.5" cy="106.1" r="1.6"/></g>
<g fill="#0f0"><circle cx="293.9" cy="108.6" r="1.6"/></g>
<g fill="#f00"><circle cx="294.5" cy="105.9" r="1.6"/></g>
<g fill="#0f0"><circle cx="293.7" cy="108.1" r="1.6"/></g>
<g fill="#f00"><circle cx="264.6" cy="100.2" r="1.6"/></g>
<g fill="#0f0"><circle cx="285.0" cy="139.2" r="1.6"/></g>
<g fill="#f00"><circle cx="225.8" cy="127.8" r="1.6"/></g>
<g fill="#0f0"><circle cx="358.3" cy="98.0" r="1.6"/></g>
<g fill="#f00"><circle cx="287.3" cy="128.1" r="1.6"/></g>
<g fill="#0f0"><circle cx="323.3" cy="109.1" r="1.6"/><circle cx="419.4" cy="99.0" r="1.6"/><circle cx="323.1" cy="107.9" r="1.6"/><circle cx="158.8" cy="139.6" r="1.6"/><circle cx="289.2" cy="117.2" r="1.6"/></g>
<g fill="#f00"><circle cx="458.0" cy="68.4" r="1.6"/><circle cx="291.8" cy="107.1" r="1.6"/><circle cx="158.8" cy="138.3" r="1.6"/></g>
<g fill="#0f0"><circle cx="388.6" cy="94.0" r="1.6"/><circle cx="323.5" cy="103.8" r="1.6"/><circle cx="282.4" cy="139.7" r="1.6"/><circle cx="355.7" cy="98.9" r="1.6"/></g>
<g fill="#f00"><circle cx="358.3" cy="89.0" r="1.6"/></g>
<g fill="#0f0"><circle cx="288.8" cy="115.5" r="1.6"/><circle cx="321.6" cy="109.2" r="1.6"/></g>
<g fill="#f00"><circle cx="259.9" cy="105.7" r="1.6"/></g>
<g fill="#0f0"><circle cx="321.4" cy="108.1" r="1.6"/><circle cx="386.9" cy="94.2" r="1.6"/></g>
<g fill="#f00"><circle cx="486.4" cy="71.1" r="1.6"/><circle cx="259.7" cy="103.1" r="1.6"/><circle cx="289.2" cy="108.8" r="1.6"/><circle cx="290.0" cy="105.6" r="1.6"/></g>
<g fill="#0f0"><circle cx="287.1" cy="115.7" r="1.6"/></g>
<g fill="#f00"><circle cx="314.3" cy="130.0" r="1.6"/><circle cx="324.2" cy="92.8" r="1.6"/></g>
<g fill="#0f0"><circle cx="155.4" cy="141.0" r="1.6"/></g>
<g fill="#f00"><circle cx="258.2" cy="105.8" r="1.6"/></g>
<g fill="#0f0"><circle cx="279.9" cy="140.5" r="1.6"/></g>
<g fill="#f00"><circle cx="155.4" cy="139.6" r="1.6"/></g>
<g fill="#0f0"><circle cx="380.8" cy="112.2" r="1.6"/></g>
<g fill="#f00"><circle cx="355.7" cy="89.9" r="1.6"/></g>
<g fill="#0f0"><circle cx="353.1" cy="98.8" r="1.6"/><circle cx="152.5" cy="149.3" r="1.6"/></g>
<g fill="#f00"><circle cx="423.1" cy="69.6" r="1.6"/><circle cx="289.3" cy="103.1" r="1.6"/></g>
<g fill="#0f0"><circle cx="158.6" cy="125.5" r="1.6"/><circle cx="152.5" cy="147.7" r="1.6"/><circle cx="152.5" cy="146.8" r="1.6"/><circle cx="153.7" cy="141.8" r="1.6"/><circle cx="378.9" cy="115.0" r="1.6"/></g>
<g fill="#f00"><circle cx="282.3" cy="126.9" r="1.6"/></g>
<g fill="#0f0"><circle cx="448.4" cy="87.9" r="1.6"/></g>
<g fill="#f00"><circle cx="322.5" cy="92.9" r="1.6"/><circle cx="356.8" cy="81.3" r="1.6"/><circle cx="158.6" cy="123.1" r="1.6"/></g>
<g fill="#0f0"><circle cx="288.7" cy="102.2" r="1.6"/></g>
<g fill="#f00"><circle cx="153.7" cy="140.5" r="1.6"/></g>
<g fill="#0f0"><circle cx="379.1" cy="112.3" r="1.6"/><circle cx="287.4" cy="105.7" r="1.6"/><circle cx="351.4" cy="99.0" r="1.6"/><circle cx="279.6" cy="134.2" r="1.6"/></g>
<g fill="#f00"><circle cx="421.4" cy="69.8" r="1.6"/></g>
<g fill="#0f0"><circle cx="150.8" cy="149.1" r="1.6"/><circle cx="157.1" cy="125.6" r="1.6"/><circle cx="152.5" cy="142.5" r="1.6"/><circle cx="317.3" cy="108.5" r="1.6"/><circle cx="152.5" cy="141.7" r="1.6"/><circle cx="150.8" cy="147.8" r="1.6"/></g>
<g fill="#f00"><circle cx="353.0" cy="90.4" r="1.6"/></g>
<g fill="#0f0"><circle cx="378.9" cy="109.1" r="1.6"/><circle cx="150.8" cy="146.6" r="1.6"/></g>
<g fill="#f00"><circle cx="157.1" cy="123.2" r="1.6"/></g>
<g fill="#0f0"><circle cx="377.2" cy="115.1" r="1.6"/><circle cx="446.7" cy="88.0" r="1.6"/></g>
<g fill="#f00"><circle cx="355.1" cy="81.4" r="1.6"/></g>
<g fill="#0f0"><circle cx="287.0" cy="102.4" r="1.6"/><circle cx="476.3" cy="93.1" r="1.6"/></g>
<g fill="#f00"><circle cx="482.2" cy="71.2" r="1.6"/><circle cx="279.7" cy="128.8" r="1.6"/></g>
<g fill="#0f0"><circle cx="155.7" cy="125.7" r="1.6"/></g>
<g fill="#f00"><circle cx="255.3" cy="102.5" r="1.6"/><circle cx="320.9" cy="89.9" r="1.6"/></g>
<g fill="#0f0"><circle cx="377.8" cy="109.7" r="1.6"/></g>
<g fill="#f00"><circle cx="347.9" cy="105.0" r="1.6"/></g>
<g fill="#0f0"><circle cx="150.8" cy="143.0" r="1.6"/><circle cx="149.1" cy="149.1" r="1.6"/><circle cx="150.7" cy="143.1" r="1.6"/><circle cx="414.2" cy="89.9" r="1.6"/><circle cx="345.7" cy="112.9" r="1.6"/><circle cx="149.1" cy="148.3" r="1.6"/></g>
<g fill="#f00"><circle cx="449.7" cy="72.7" r="1.6"/></g>
<g fill="#0f0"><circle cx="408.4" cy="110.1" r="1.6"/><circle cx="376.1" cy="114.4" r="1.6"/><circle cx="150.8" cy="141.4" r="1.6"/></g>
<g fill="#f00"><circle cx="150.7" cy="141.8" r="1.6"/><circle cx="155.7" cy="123.3" r="1.6"/><circle cx="309.2" cy="130.7" r="1.6"/></g>
<g fill="#0f0"><circle cx="377.2" cy="109.3" r="1.6"/><circle cx="149.1" cy="146.8" r="1.6"/></g>
<g fill="#f00"><circle cx="317.3" cy="100.1" r="1.6"/></g>
<g fill="#0f0"><circle cx="314.9" cy="108.8" r="1.6"/><circle cx="149.1" cy="145.7" r="1.6"/></g>
<g fill="#f00"><circle cx="285.7" cy="101.3" r="1.6"/></g>
<g fill="#0f0"><circle cx="474.6" cy="93.3" r="1.6"/><circle cx="154.2" cy="125.8" r="1.6"/><circle cx="245.0" cy="135.3" r="1.6"/><circle cx="281.3" cy="116.0" r="1.6"/><circle cx="274.8" cy="139.7" r="1.6"/><circle cx="284.5" cy="103.8" r="1.6"/></g>
<g fill="#f00"><circle cx="377.5" cy="105.3" r="1.6"/><circle cx="419.2" cy="66.2" r="1.6"/></g>
<g fill="#0f0"><circle cx="147.4" cy="149.9" r="1.6"/></g>
<g fill="#f00"><circle cx="285.5" cy="99.6" r="1.6"/><circle cx="151.8" cy="133.6" r="1.6"/><circle cx="319.2" cy="90.1" r="1.6"/></g>
<g fill="#0f0"><circle cx="149.1" cy="143.1" r="1.6"/><circle cx="412.5" cy="90.0" r="1.6"/><circle cx="151.8" cy="132.9" r="1.6"/><circle cx="344.0" cy="113.0" r="1.6"/></g>
<g fill="#f00"><circle cx="154.2" cy="123.4" r="1.6"/></g>
<g fill="#0f0"><circle cx="147.4" cy="148.3" r="1.6"/><circle cx="149.1" cy="141.9" r="1.6"/></g>
<g fill="#f00"><circle cx="447.3" cy="75.4" r="1.6"/></g>
<g fill="#0f0"><circle cx="374.4" cy="114.5" r="1.6"/></g>
<g fill="#f00"><circle cx="277.2" cy="128.5" r="1.6"/><circle cx="151.8" cy="131.6" r="1.6"/></g>
<g fill="#0f0"><circle cx="147.4" cy="146.7" r="1.6"/><circle cx="147.4" cy="145.5" r="1.6"/><circle cx="278.8" cy="119.7" r="1.6"/><circle cx="312.0" cy="111.6" r="1.6"/></g>
<g fill="#f00"><circle cx="252.2" cy="102.5" r="1.6"/><circle cx="306.6" cy="130.9" r="1.6"/><circle cx="245.0" cy="128.1" r="1.6"/><circle cx="283.9" cy="99.7" r="1.6"/><circle cx="347.7" cy="93.6" r="1.6"/></g>
<g fill="#0f0"><circle cx="147.4" cy="143.3" r="1.6"/><circle cx="342.9" cy="110.5" r="1.6"/><circle cx="147.4" cy="142.3" r="1.6"/><circle cx="242.4" cy="136.0" r="1.6"/></g>
<g fill="#f00"><circle cx="252.1" cy="99.9" r="1.6"/><circle cx="343.5" cy="107.3" r="1.6"/><circle cx="477.6" cy="71.4" r="1.6"/></g>
<g fill="#0f0"><circle cx="408.8" cy="94.7" r="1.6"/></g>
<g fill="#f00"><circle cx="413.3" cy="77.4" r="1.6"/><circle cx="274.6" cy="129.2" r="1.6"/><circle cx="250.5" cy="102.7" r="1.6"/></g>
<g fill="#0f0"><circle cx="276.1" cy="121.9" r="1.6"/></g>
<g fill="#f00"><circle cx="312.0" cy="103.1" r="1.6"/><circle cx="278.8" cy="110.5" r="1.6"/><circle cx="314.5" cy="93.3" r="1.6"/></g>
<g fill="#0f0"><circle cx="341.4" cy="108.7" r="1.6"/></g>
<g fill="#f00"><circle cx="304.1" cy="131.4" r="1.6"/><circle cx="475.9" cy="71.5" r="1.6"/><circle cx="242.4" cy="128.9" r="1.6"/><circle cx="249.2" cy="103.4" r="1.6"/></g>
<g fill="#0f0"><circle cx="239.7" cy="137.9" r="1.6"/><circle cx="269.7" cy="141.3" r="1.6"/><circle cx="469.8" cy="91.8" r="1.6"/><circle cx="177.1" cy="137.8" r="1.6"/></g>
<g fill="#f00"><circle cx="341.8" cy="103.4" r="1.6"/><circle cx="177.1" cy="135.6" r="1.6"/><circle cx="272.1" cy="129.4" r="1.6"/><circle cx="277.6" cy="108.3" r="1.6"/></g>
<g fill="#0f0"><circle cx="339.7" cy="108.5" r="1.6"/></g>
<g fill="#f00"><circle cx="247.5" cy="103.6" r="1.6"/></g>
<g fill="#0f0"><circle cx="273.4" cy="122.7" r="1.6"/></g>
<g fill="#f00"><circle cx="276.1" cy="112.7" r="1.6"/></g>
<g fill="#0f0"><circle cx="467.9" cy="94.2" r="1.6"/></g>
<g fill="#f00"><circle cx="239.7" cy="130.8" r="1.6"/><circle cx="341.4" cy="100.0" r="1.6"/></g>
<g fill="#0f0"><circle cx="468.1" cy="91.9" r="1.6"/></g>
<g fill="#f00"><circle cx="301.6" cy="131.7" r="1.6"/><circle cx="340.2" cy="103.5" r="1.6"/><circle cx="302.3" cy="127.7" r="1.6"/></g>
<g fill="#0f0"><circle cx="400.0" cy="111.4" r="1.6"/><circle cx="267.2" cy="141.8" r="1.6"/></g>
<g fill="#f00"><circle cx="277.2" cy="104.8" r="1.6"/><circle cx="339.5" cy="103.3" r="1.6"/></g>
<g fill="#0f0"><circle cx="207.2" cy="131.4" r="1.6"/><circle cx="466.2" cy="94.3" r="1.6"/><circle cx="276.7" cy="104.3" r="1.6"/></g>
<g fill="#f00"><circle cx="269.6" cy="130.0" r="1.6"/></g>
<g fill="#0f0"><circle cx="366.8" cy="115.7" r="1.6"/></g>
<g fill="#f00"><circle cx="207.2" cy="129.2" r="1.6"/></g>
<g fill="#0f0"><circle cx="306.9" cy="105.2" r="1.6"/></g>
<g fill="#f00"><circle cx="273.4" cy="113.5" r="1.6"/><circle cx="275.5" cy="105.5" r="1.6"/></g>
<g fill="#0f0"><circle cx="402.5" cy="95.3" r="1.6"/><circle cx="397.4" cy="114.1" r="1.6"/></g>
<g fill="#f00"><circle cx="274.3" cy="108.5" r="1.6"/><circle cx="337.8" cy="103.5" r="1.6"/></g>
<g fill="#0f0"><circle cx="264.7" cy="142.2" r="1.6"/><circle cx="365.6" cy="113.7" r="1.6"/></g>
<g fill="#f00"><circle cx="299.8" cy="126.9" r="1.6"/></g>
<g fill="#0f0"><circle cx="368.4" cy="102.5" r="1.6"/></g>
<g fill="#f00"><circle cx="398.6" cy="105.7" r="1.6"/></g>
<g fill="#0f0"><circle cx="305.2" cy="105.3" r="1.6"/></g>
<g fill="#f00"><circle cx="267.0" cy="130.6" r="1.6"/></g>
<g fill="#0f0"><circle cx="335.4" cy="107.9" r="1.6"/><circle cx="301.6" cy="117.2" r="1.6"/><circle cx="400.8" cy="95.5" r="1.6"/></g>
<g fill="#f00"><circle cx="272.6" cy="108.7" r="1.6"/><circle cx="336.1" cy="103.2" r="1.6"/><circle cx="173.2" cy="129.0" r="1.6"/></g>
<g fill="#0f0"><circle cx="363.9" cy="113.8" r="1.6"/><circle cx="303.3" cy="107.5" r="1.6"/></g>
<g fill="#f00"><circle cx="296.5" cy="132.6" r="1.6"/></g>
<g fill="#0f0"><circle cx="332.3" cy="115.2" r="1.6"/><circle cx="366.7" cy="102.6" r="1.6"/></g>
<g fill="#f00"><circle cx="396.9" cy="105.9" r="1.6"/></g>
<g fill="#0f0"><circle cx="302.7" cy="107.7" r="1.6"/></g>
<g fill="#f00"><circle cx="272.3" cy="103.9" r="1.6"/></g>
<g fill="#0f0"><circle cx="262.1" cy="141.5" r="1.6"/><circle cx="300.8" cy="112.2" r="1.6"/></g>
<g fill="#f00"><circle cx="301.6" cy="108.8" r="1.6"/><circle cx="264.5" cy="130.0" r="1.6"/><circle cx="435.4" cy="73.8" r="1.6"/></g>
<g fill="#0f0"><circle cx="365.5" cy="100.1" r="1.6"/><circle cx="301.1" cy="107.9" r="1.6"/></g>
<g fill="#f00"><circle cx="466.2" cy="71.8" r="1.6"/><circle cx="270.7" cy="104.0" r="1.6"/><circle cx="293.9" cy="132.8" r="1.6"/></g>
<g fill="#0f0"><circle cx="199.9" cy="133.5" r="1.6"/></g>
<g fill="#f00"><circle cx="294.7" cy="128.2" r="1.6"/><circle cx="433.7" cy="73.9" r="1.6"/></g>
<g fill="#0f0"><circle cx="330.7" cy="108.4" r="1.6"/></g>
<g fill="#f00"><circle cx="199.9" cy="131.3" r="1.6"/><circle cx="403.2" cy="70.4" r="1.6"/></g>
<g fill="#0f0"><circle cx="330.4" cy="109.3" r="1.6"/><circle cx="396.4" cy="95.3" r="1.6"/><circle cx="165.9" cy="141.5" r="1.6"/></g>
<g fill="#f00"><circle cx="299.0" cy="110.1" r="1.6"/><circle cx="368.0" cy="84.6" r="1.6"/></g>
<g fill="#0f0"><circle cx="296.3" cy="119.2" r="1.6"/></g>
<g fill="#f00"><circle cx="165.9" cy="140.2" r="1.6"/></g>
<g fill="#0f0"><circle cx="395.7" cy="95.6" r="1.6"/></g>
<g fill="#f00"><circle cx="365.5" cy="91.1" r="1.6"/></g>
<g fill="#0f0"><circle cx="362.8" cy="100.6" r="1.6"/></g>
<g fill="#f00"><circle cx="291.4" cy="132.8" r="1.6"/></g>
<g fill="#0f0"><circle cx="328.7" cy="109.4" r="1.6"/><circle cx="394.7" cy="95.4" r="1.6"/></g>
<g fill="#f00"><circle cx="266.7" cy="108.1" r="1.6"/></g>
<g fill="#0f0"><circle cx="291.1" cy="132.8" r="1.6"/></g>
<g fill="#f00"><circle cx="292.1" cy="128.9" r="1.6"/></g>
<g fill="#0f0"><circle cx="257.0" cy="143.2" r="1.6"/><circle cx="455.6" cy="99.8" r="1.6"/><circle cx="394.0" cy="95.7" r="1.6"/></g>
<g fill="#f00"><circle cx="296.3" cy="110.8" r="1.6"/></g>
<g fill="#0f0"><circle cx="162.6" cy="142.9" r="1.6"/><circle cx="360.2" cy="102.6" r="1.6"/><circle cx="294.2" cy="116.2" r="1.6"/></g>
<g fill="#f00"><circle cx="265.1" cy="108.2" r="1.6"/><circle cx="294.5" cy="114.5" r="1.6"/><circle cx="162.6" cy="141.6" r="1.6"/><circle cx="331.3" cy="93.1" r="1.6"/></g>
<g fill="#0f0"><circle cx="360.2" cy="101.5" r="1.6"/></g>
<g fill="#f00"><circle cx="362.8" cy="91.5" r="1.6"/></g>
<g fill="#0f0"><circle cx="453.9" cy="99.9" r="1.6"/></g>
<g fill="#f00"><circle cx="297.1" cy="103.3" r="1.6"/></g>
<g fill="#0f0"><circle cx="159.7" cy="150.9" r="1.6"/><circle cx="387.9" cy="112.2" r="1.6"/><circle cx="159.7" cy="149.9" r="1.6"/><circle cx="165.7" cy="127.4" r="1.6"/></g>
<g fill="#f00"><circle cx="296.4" cy="104.4" r="1.6"/><circle cx="266.8" cy="98.3" r="1.6"/></g>
<g fill="#0f0"><circle cx="386.1" cy="117.5" r="1.6"/><circle cx="159.7" cy="148.7" r="1.6"/></g>
<g fill="#f00"><circle cx="289.6" cy="128.6" r="1.6"/></g>
<g fill="#0f0"><circle cx="160.9" cy="143.7" r="1.6"/></g>
<g fill="#f00"><circle cx="165.7" cy="125.0" r="1.6"/></g>
<g fill="#0f0"><circle cx="358.5" cy="102.8" r="1.6"/></g>
<g fill="#f00"><circle cx="160.9" cy="142.4" r="1.6"/></g>
<g fill="#0f0"><circle cx="294.6" cy="108.1" r="1.6"/></g>
<g fill="#f00"><circle cx="329.6" cy="93.2" r="1.6"/></g>
<g fill="#0f0"><circle cx="391.5" cy="94.6" r="1.6"/><circle cx="295.9" cy="102.1" r="1.6"/><circle cx="158.0" cy="151.2" r="1.6"/><circle cx="159.7" cy="144.6" r="1.6"/><circle cx="164.3" cy="127.5" r="1.6"/></g>
<g fill="#f00"><circle cx="426.7" cy="77.9" r="1.6"/></g>
<g fill="#0f0"><circle cx="386.2" cy="112.3" r="1.6"/><circle cx="159.7" cy="143.9" r="1.6"/><circle cx="158.0" cy="149.5" r="1.6"/></g>
<g fill="#f00"><circle cx="360.2" cy="92.5" r="1.6"/></g>
<g fill="#0f0"><circle cx="384.4" cy="117.7" r="1.6"/><circle cx="158.0" cy="148.4" r="1.6"/></g>
<g fill="#f00"><circle cx="164.3" cy="125.1" r="1.6"/></g>
<g fill="#0f0"><circle cx="158.0" cy="147.8" r="1.6"/></g>
<g fill="#f00"><circle cx="394.6" cy="78.6" r="1.6"/><circle cx="294.1" cy="104.5" r="1.6"/></g>
<g fill="#0f0"><circle cx="286.0" cy="133.6" r="1.6"/><circle cx="356.4" cy="103.6" r="1.6"/></g>
<g fill="#f00"><circle cx="387.4" cy="103.8" r="1.6"/></g>
<g fill="#0f0"><circle cx="288.4" cy="124.5" r="1.6"/><circle cx="191.5" cy="137.3" r="1.6"/><circle cx="389.8" cy="94.7" r="1.6"/><circle cx="415.5" cy="114.5" r="1.6"/></g>
<g fill="#f00"><circle cx="287.1" cy="128.8" r="1.6"/></g>
<g fill="#0f0"><circle cx="162.8" cy="127.7" r="1.6"/><circle cx="386.1" cy="107.9" r="1.6"/><circle cx="294.2" cy="102.3" r="1.6"/><circle cx="356.7" cy="101.2" r="1.6"/><circle cx="158.0" cy="145.0" r="1.6"/><circle cx="383.2" cy="117.8" r="1.6"/><circle cx="156.3" cy="151.0" r="1.6"/><circle cx="157.8" cy="145.0" r="1.6"/><circle cx="309.5" cy="159.7" r="1.6"/><circle cx="156.3" cy="150.4" r="1.6"/></g>
<g fill="#f00"><circle cx="191.5" cy="135.1" r="1.6"/></g>
<g fill="#0f0"><circle cx="158.0" cy="143.3" r="1.6"/></g>
<g fill="#f00"><circle cx="157.8" cy="143.7" r="1.6"/><circle cx="162.8" cy="125.2" r="1.6"/></g>
<g fill="#0f0"><circle cx="156.3" cy="149.1" r="1.6"/><circle cx="384.9" cy="109.4" r="1.6"/></g>
<g fill="#f00"><circle cx="355.1" cy="103.8" r="1.6"/><circle cx="392.9" cy="78.7" r="1.6"/></g>
<g fill="#0f0"><circle cx="352.8" cy="111.7" r="1.6"/></g>
<g fill="#f00"><circle cx="292.4" cy="104.6" r="1.6"/></g>
<g fill="#0f0"><circle cx="291.6" cy="107.3" r="1.6"/><circle cx="252.2" cy="138.1" r="1.6"/><circle cx="352.0" cy="114.2" r="1.6"/><circle cx="156.3" cy="147.3" r="1.6"/><circle cx="322.1" cy="109.7" r="1.6"/><circle cx="354.7" cy="103.7" r="1.6"/></g>
<g fill="#f00"><circle cx="385.8" cy="104.0" r="1.6"/></g>
<g fill="#0f0"><circle cx="161.4" cy="127.8" r="1.6"/><circle cx="384.4" cy="108.1" r="1.6"/><circle cx="154.6" cy="151.7" r="1.6"/><circle cx="156.3" cy="145.3" r="1.6"/><circle cx="381.5" cy="117.9" r="1.6"/></g>
<g fill="#f00"><circle cx="283.8" cy="134.0" r="1.6"/></g>
<g fill="#0f0"><circle cx="158.9" cy="134.8" r="1.6"/></g>
<g fill="#f00"><circle cx="161.4" cy="125.4" r="1.6"/></g>
<g fill="#0f0"><circle cx="154.6" cy="150.1" r="1.6"/><circle cx="156.3" cy="143.8" r="1.6"/></g>
<g fill="#f00"><circle cx="292.7" cy="99.8" r="1.6"/><circle cx="384.6" cy="105.1" r="1.6"/><circle cx="455.5" cy="73.2" r="1.6"/><circle cx="158.9" cy="133.5" r="1.6"/></g>
<g fill="#0f0"><circle cx="283.5" cy="133.2" r="1.6"/><circle cx="154.6" cy="149.1" r="1.6"/></g>
<g fill="#f00"><circle cx="284.5" cy="129.1" r="1.6"/></g>
<g fill="#0f0"><circle cx="382.7" cy="111.6" r="1.6"/><circle cx="351.1" cy="111.8" r="1.6"/><circle cx="154.6" cy="147.6" r="1.6"/><circle cx="154.6" cy="147.0" r="1.6"/></g>
<g fill="#f00"><circle cx="252.2" cy="131.0" r="1.6"/></g>
<g fill="#0f0"><circle cx="249.5" cy="139.2" r="1.6"/><circle cx="154.6" cy="144.8" r="1.6"/><circle cx="154.6" cy="144.1" r="1.6"/></g>
<g fill="#f00"><circle cx="291.0" cy="100.0" r="1.6"/></g>
<g fill="#0f0"><circle cx="350.0" cy="110.6" r="1.6"/></g>
<g fill="#f00"><circle cx="281.2" cy="134.3" r="1.6"/><circle cx="259.3" cy="99.5" r="1.6"/></g>
<g fill="#0f0"><circle cx="416.0" cy="95.6" r="1.6"/></g>
<g fill="#f00"><circle cx="282.0" cy="129.7" r="1.6"/><circle cx="387.1" cy="85.3" r="1.6"/><circle cx="390.6" cy="72.0" r="1.6"/><circle cx="249.5" cy="132.1" r="1.6"/><circle cx="449.3" cy="84.1" r="1.6"/><circle cx="257.0" cy="103.2" r="1.6"/></g>
<g fill="#0f0"><circle cx="246.8" cy="140.4" r="1.6"/></g>
<g fill="#f00"><circle cx="256.3" cy="105.3" r="1.6"/></g>
<g fill="#0f0"><circle cx="413.6" cy="99.3" r="1.6"/></g>
<g fill="#f00"><circle cx="349.0" cy="105.3" r="1.6"/><circle cx="385.4" cy="85.5" r="1.6"/></g>
<g fill="#0f0"><circle cx="278.4" cy="133.8" r="1.6"/></g>
<g fill="#f00"><circle cx="255.3" cy="103.3" r="1.6"/><circle cx="254.6" cy="105.4" r="1.6"/><circle cx="246.8" cy="133.3" r="1.6"/><circle cx="285.3" cy="106.0" r="1.6"/><circle cx="284.7" cy="107.5" r="1.6"/><circle cx="347.3" cy="105.4" r="1.6"/></g>
<g fill="#0f0"><circle cx="407.1" cy="112.7" r="1.6"/></g>
<g fill="#f00"><circle cx="346.6" cy="104.9" r="1.6"/></g>
<g fill="#0f0"><circle cx="283.8" cy="106.8" r="1.6"/><circle cx="373.9" cy="118.7" r="1.6"/></g>
<g fill="#f00"><circle cx="284.3" cy="104.7" r="1.6"/></g>
<g fill="#0f0"><circle cx="314.0" cy="109.6" r="1.6"/><circle cx="275.9" cy="134.9" r="1.6"/><circle cx="409.6" cy="100.3" r="1.6"/></g>
<g fill="#f00"><circle cx="276.9" cy="130.3" r="1.6"/><circle cx="381.9" cy="85.1" r="1.6"/></g>
<g fill="#0f0"><circle cx="404.5" cy="115.4" r="1.6"/></g>
<g fill="#f00"><circle cx="282.6" cy="105.4" r="1.6"/><circle cx="344.9" cy="105.1" r="1.6"/></g>
<g fill="#0f0"><circle cx="312.4" cy="109.7" r="1.6"/><circle cx="342.5" cy="113.3" r="1.6"/></g>
<g fill="#f00"><circle cx="276.8" cy="125.7" r="1.6"/></g>
<g fill="#0f0"><circle cx="407.9" cy="100.4" r="1.6"/></g>
<g fill="#f00"><circle cx="252.9" cy="98.0" r="1.6"/><circle cx="279.0" cy="115.0" r="1.6"/></g>
<g fill="#0f0"><circle cx="372.8" cy="113.6" r="1.6"/><circle cx="297.2" cy="162.0" r="1.6"/></g>
<g fill="#f00"><circle cx="274.4" cy="131.0" r="1.6"/></g>
<g fill="#0f0"><circle cx="375.5" cy="102.4" r="1.6"/></g>
<g fill="#f00"><circle cx="282.5" cy="100.9" r="1.6"/><circle cx="375.4" cy="102.4" r="1.6"/></g>
<g fill="#0f0"><circle cx="339.4" cy="119.6" r="1.6"/></g>
<g fill="#f00"><circle cx="413.5" cy="75.3" r="1.6"/><circle cx="275.1" cy="125.9" r="1.6"/><circle cx="251.2" cy="98.1" r="1.6"/></g>
<g fill="#0f0"><circle cx="371.1" cy="113.7" r="1.6"/><circle cx="373.8" cy="102.5" r="1.6"/></g>
<g fill="#f00"><circle cx="280.8" cy="101.0" r="1.6"/><circle cx="373.7" cy="102.5" r="1.6"/><circle cx="344.5" cy="94.4" r="1.6"/><circle cx="279.5" cy="104.2" r="1.6"/></g>
<g fill="#0f0"><circle cx="307.9" cy="112.9" r="1.6"/><circle cx="294.6" cy="159.9" r="1.6"/><circle cx="293.9" cy="160.4" r="1.6"/></g>
<g fill="#f00"><circle cx="278.9" cy="100.5" r="1.6"/><circle cx="277.8" cy="104.3" r="1.6"/></g>
<g fill="#0f0"><circle cx="337.6" cy="112.8" r="1.6"/><circle cx="173.1" cy="143.4" r="1.6"/><circle cx="337.8" cy="109.0" r="1.6"/></g>
<g fill="#f00"><circle cx="173.1" cy="142.1" r="1.6"/></g>
<g fill="#0f0"><circle cx="335.9" cy="112.9" r="1.6"/></g>
<g fill="#f00"><circle cx="375.1" cy="80.8" r="1.6"/></g>
<g fill="#0f0"><circle cx="265.7" cy="136.0" r="1.6"/><circle cx="169.7" cy="144.8" r="1.6"/></g>
<g fill="#f00"><circle cx="169.7" cy="143.5" r="1.6"/></g>
<g fill="#0f0"><circle cx="367.3" cy="103.0" r="1.6"/><circle cx="395.1" cy="115.4" r="1.6"/><circle cx="303.1" cy="109.9" r="1.6"/><circle cx="166.8" cy="153.0" r="1.6"/></g>
<g fill="#f00"><circle cx="338.5" cy="93.6" r="1.6"/></g>
<g fill="#0f0"><circle cx="166.8" cy="151.7" r="1.6"/><circle cx="172.8" cy="129.4" r="1.6"/><circle cx="286.6" cy="168.8" r="1.6"/></g>
<g fill="#f00"><circle cx="301.6" cy="113.5" r="1.6"/></g>
<g fill="#0f0"><circle cx="166.8" cy="150.6" r="1.6"/><circle cx="168.0" cy="145.7" r="1.6"/></g>
<g fill="#f00"><circle cx="371.1" cy="85.0" r="1.6"/><circle cx="172.8" cy="126.9" r="1.6"/></g>
<g fill="#0f0"><circle cx="393.2" cy="117.7" r="1.6"/></g>
<g fill="#f00"><circle cx="168.0" cy="144.3" r="1.6"/></g>
<g fill="#0f0"><circle cx="303.0" cy="104.7" r="1.6"/><circle cx="365.7" cy="103.2" r="1.6"/><circle cx="393.4" cy="115.5" r="1.6"/><circle cx="263.2" cy="136.3" r="1.6"/></g>
<g fill="#f00"><circle cx="303.5" cy="102.2" r="1.6"/></g>
<g fill="#0f0"><circle cx="286.9" cy="163.4" r="1.6"/><circle cx="301.4" cy="110.0" r="1.6"/><circle cx="165.1" cy="153.3" r="1.6"/><circle cx="166.8" cy="146.8" r="1.6"/></g>
<g fill="#f00"><circle cx="336.8" cy="93.8" r="1.6"/></g>
<g fill="#0f0"><circle cx="171.4" cy="129.5" r="1.6"/><circle cx="166.8" cy="145.9" r="1.6"/></g>
<g fill="#f00"><circle cx="433.8" cy="79.4" r="1.6"/></g>
<g fill="#0f0"><circle cx="301.7" cy="107.3" r="1.6"/><circle cx="165.1" cy="151.7" r="1.6"/><circle cx="165.1" cy="150.7" r="1.6"/></g>
<g fill="#f00"><circle cx="171.4" cy="127.0" r="1.6"/><circle cx="369.4" cy="85.1" r="1.6"/></g>
<g fill="#0f0"><circle cx="391.5" cy="117.9" r="1.6"/><circle cx="287.0" cy="158.5" r="1.6"/><circle cx="301.3" cy="104.9" r="1.6"/><circle cx="393.2" cy="110.3" r="1.6"/><circle cx="426.8" cy="100.9" r="1.6"/><circle cx="330.1" cy="113.0" r="1.6"/><circle cx="169.9" cy="129.6" r="1.6"/><circle cx="163.4" cy="153.6" r="1.6"/></g>
<g fill="#f00"><circle cx="401.8" cy="77.8" r="1.6"/></g>
<g fill="#0f0"><circle cx="165.1" cy="146.8" r="1.6"/><circle cx="165.0" cy="147.0" r="1.6"/><circle cx="165.1" cy="145.8" r="1.6"/><circle cx="163.4" cy="151.9" r="1.6"/></g>
<g fill="#f00"><circle cx="165.0" cy="145.6" r="1.6"/><circle cx="169.9" cy="127.2" r="1.6"/><circle cx="366.9" cy="89.5" r="1.6"/></g>
<g fill="#0f0"><circle cx="390.4" cy="117.9" r="1.6"/><circle cx="359.9" cy="115.3" r="1.6"/><circle cx="260.6" cy="136.6" r="1.6"/><circle cx="329.2" cy="113.3" r="1.6"/><circle cx="163.4" cy="150.7" r="1.6"/><circle cx="422.7" cy="113.0" r="1.6"/><circle cx="259.3" cy="140.3" r="1.6"/><circle cx="163.4" cy="149.4" r="1.6"/><circle cx="363.6" cy="99.8" r="1.6"/><circle cx="168.5" cy="129.7" r="1.6"/><circle cx="391.5" cy="110.4" r="1.6"/><circle cx="298.8" cy="107.9" r="1.6"/><circle cx="425.1" cy="101.1" r="1.6"/><circle cx="161.7" cy="153.7" r="1.6"/><circle cx="163.4" cy="147.1" r="1.6"/></g>
<g fill="#f00"><circle cx="400.1" cy="77.9" r="1.6"/><circle cx="166.1" cy="137.2" r="1.6"/></g>
<g fill="#0f0"><circle cx="166.1" cy="136.7" r="1.6"/><circle cx="161.7" cy="152.4" r="1.6"/><circle cx="163.4" cy="146.1" r="1.6"/></g>
<g fill="#f00"><circle cx="168.5" cy="127.3" r="1.6"/></g>
<g fill="#0f0"><circle cx="295.8" cy="116.1" r="1.6"/></g>
<g fill="#f00"><circle cx="166.1" cy="135.4" r="1.6"/></g>
<g fill="#0f0"><circle cx="388.7" cy="118.0" r="1.6"/><circle cx="358.2" cy="115.4" r="1.6"/><circle cx="161.7" cy="150.6" r="1.6"/></g>
<g fill="#f00"><circle cx="391.8" cy="105.5" r="1.6"/></g>
<g fill="#0f0"><circle cx="161.7" cy="149.6" r="1.6"/><circle cx="361.9" cy="100.0" r="1.6"/></g>
<g fill="#f00"><circle cx="362.0" cy="99.3" r="1.6"/></g>
<g fill="#0f0"><circle cx="389.8" cy="111.5" r="1.6"/></g>
<g fill="#f00"><circle cx="259.3" cy="133.2" r="1.6"/></g>
<g fill="#0f0"><circle cx="357.1" cy="116.1" r="1.6"/><circle cx="258.1" cy="136.7" r="1.6"/><circle cx="281.1" cy="166.7" r="1.6"/><circle cx="256.6" cy="141.7" r="1.6"/><circle cx="161.7" cy="147.1" r="1.6"/></g>
<g fill="#f00"><circle cx="397.8" cy="80.1" r="1.6"/></g>
<g fill="#0f0"><circle cx="161.7" cy="146.0" r="1.6"/><circle cx="360.8" cy="100.4" r="1.6"/></g>
<g fill="#f00"><circle cx="266.4" cy="100.7" r="1.6"/><circle cx="256.6" cy="134.5" r="1.6"/><circle cx="427.5" cy="78.2" r="1.6"/></g>
<g fill="#0f0"><circle cx="255.6" cy="137.8" r="1.6"/><circle cx="254.0" cy="142.7" r="1.6"/></g>
<g fill="#f00"><circle cx="328.8" cy="95.1" r="1.6"/></g>
<g fill="#0f0"><circle cx="279.5" cy="160.9" r="1.6"/><circle cx="191.3" cy="141.0" r="1.6"/></g>
<g fill="#f00"><circle cx="394.2" cy="81.8" r="1.6"/></g>
<g fill="#0f0"><circle cx="323.2" cy="112.2" r="1.6"/></g>
<g fill="#f00"><circle cx="191.3" cy="138.8" r="1.6"/></g>
<g fill="#0f0"><circle cx="354.0" cy="111.9" r="1.6"/></g>
<g fill="#f00"><circle cx="386.5" cy="106.5" r="1.6"/><circle cx="254.0" cy="135.6" r="1.6"/></g>
<g fill="#0f0"><circle cx="253.0" cy="137.4" r="1.6"/></g>
<g fill="#f00"><circle cx="392.5" cy="81.9" r="1.6"/><circle cx="355.9" cy="102.1" r="1.6"/><circle cx="292.4" cy="106.3" r="1.6"/></g>
<g fill="#0f0"><circle cx="276.9" cy="163.1" r="1.6"/><circle cx="321.5" cy="112.3" r="1.6"/><circle cx="414.3" cy="113.9" r="1.6"/></g>
<g fill="#f00"><circle cx="384.8" cy="106.7" r="1.6"/></g>
<g fill="#0f0"><circle cx="321.2" cy="110.7" r="1.6"/><circle cx="290.9" cy="107.3" r="1.6"/></g>
<g fill="#f00"><circle cx="291.4" cy="105.3" r="1.6"/></g>
<g fill="#0f0"><circle cx="275.3" cy="164.6" r="1.6"/><circle cx="381.1" cy="118.8" r="1.6"/><circle cx="352.0" cy="109.8" r="1.6"/></g>
<g fill="#f00"><circle cx="353.8" cy="102.3" r="1.6"/></g>
<g fill="#0f0"><circle cx="351.1" cy="112.1" r="1.6"/><circle cx="411.7" cy="117.6" r="1.6"/><circle cx="250.5" cy="137.5" r="1.6"/></g>
<g fill="#f00"><circle cx="289.8" cy="106.0" r="1.6"/></g>
<g fill="#0f0"><circle cx="319.5" cy="110.8" r="1.6"/><circle cx="272.4" cy="169.4" r="1.6"/></g>
<g fill="#f00"><circle cx="389.1" cy="83.4" r="1.6"/><circle cx="283.9" cy="126.0" r="1.6"/></g>
<g fill="#0f0"><circle cx="350.3" cy="110.0" r="1.6"/></g>
<g fill="#f00"><circle cx="260.0" cy="98.1" r="1.6"/></g>
<g fill="#0f0"><circle cx="349.6" cy="111.7" r="1.6"/></g>
<g fill="#f00"><circle cx="352.1" cy="102.5" r="1.6"/></g>
<g fill="#0f0"><circle cx="349.4" cy="112.3" r="1.6"/></g>
<g fill="#f00"><circle cx="412.8" cy="106.3" r="1.6"/><circle cx="382.5" cy="103.0" r="1.6"/></g>
<g fill="#0f0"><circle cx="379.9" cy="112.5" r="1.6"/><circle cx="346.6" cy="120.4" r="1.6"/><circle cx="247.9" cy="138.7" r="1.6"/></g>
<g fill="#f00"><circle cx="282.2" cy="126.1" r="1.6"/><circle cx="258.3" cy="98.2" r="1.6"/></g>
<g fill="#0f0"><circle cx="317.0" cy="109.9" r="1.6"/></g>
<g fill="#f00"><circle cx="411.2" cy="106.4" r="1.6"/><circle cx="380.8" cy="103.1" r="1.6"/></g>
<g fill="#0f0"><circle cx="378.2" cy="112.6" r="1.6"/></g>
<g fill="#f00"><circle cx="286.6" cy="105.9" r="1.6"/></g>
<g fill="#0f0"><circle cx="315.1" cy="114.8" r="1.6"/><circle cx="300.9" cy="166.1" r="1.6"/><circle cx="302.2" cy="160.2" r="1.6"/><circle cx="315.3" cy="110.1" r="1.6"/><circle cx="245.4" cy="138.2" r="1.6"/><circle cx="410.7" cy="101.7" r="1.6"/></g>
<g fill="#f00"><circle cx="284.9" cy="106.1" r="1.6"/></g>
<g fill="#0f0"><circle cx="345.1" cy="113.5" r="1.6"/><circle cx="344.7" cy="114.0" r="1.6"/></g>
<g fill="#f00"><circle cx="286.0" cy="100.6" r="1.6"/></g>
<g fill="#0f0"><circle cx="345.0" cy="112.0" r="1.6"/><circle cx="180.2" cy="145.4" r="1.6"/></g>
<g fill="#f00"><circle cx="180.2" cy="144.1" r="1.6"/></g>
<g fill="#0f0"><circle cx="298.5" cy="164.9" r="1.6"/><circle cx="268.2" cy="161.8" r="1.6"/><circle cx="409.0" cy="101.9" r="1.6"/><circle cx="343.5" cy="113.7" r="1.6"/></g>
<g fill="#f00"><circle cx="382.2" cy="85.2" r="1.6"/></g>
<g fill="#0f0"><circle cx="343.0" cy="114.2" r="1.6"/></g>
<g fill="#f00"><circle cx="253.5" cy="99.3" r="1.6"/></g>
<g fill="#0f0"><circle cx="310.2" cy="118.0" r="1.6"/><circle cx="299.2" cy="158.6" r="1.6"/></g>
<g fill="#f00"><circle cx="180.3" cy="137.6" r="1.6"/></g>
<g fill="#0f0"><circle cx="297.9" cy="160.7" r="1.6"/><circle cx="176.8" cy="146.8" r="1.6"/></g>
<g fill="#f00"><circle cx="251.8" cy="99.4" r="1.6"/><circle cx="311.4" cy="108.5" r="1.6"/><circle cx="176.8" cy="145.4" r="1.6"/></g>
<g fill="#0f0"><circle cx="173.9" cy="155.9" r="1.6"/><circle cx="308.5" cy="118.1" r="1.6"/><circle cx="173.9" cy="154.9" r="1.6"/></g>
<g fill="#f00"><circle cx="281.1" cy="103.1" r="1.6"/></g>
<g fill="#0f0"><circle cx="173.9" cy="153.6" r="1.6"/><circle cx="180.0" cy="131.3" r="1.6"/><circle cx="296.3" cy="160.9" r="1.6"/><circle cx="173.9" cy="152.6" r="1.6"/><circle cx="175.1" cy="147.6" r="1.6"/><circle cx="400.3" cy="120.3" r="1.6"/></g>
<g fill="#f00"><circle cx="180.0" cy="128.9" r="1.6"/><circle cx="175.1" cy="146.3" r="1.6"/></g>
<g fill="#0f0"><circle cx="172.2" cy="156.3" r="1.6"/></g>
<g fill="#f00"><circle cx="249.7" cy="100.1" r="1.6"/></g>
<g fill="#0f0"><circle cx="405.7" cy="98.4" r="1.6"/><circle cx="173.9" cy="149.5" r="1.6"/><circle cx="308.8" cy="111.2" r="1.6"/></g>
<g fill="#f00"><circle cx="310.7" cy="104.3" r="1.6"/></g>
<g fill="#0f0"><circle cx="310.1" cy="105.9" r="1.6"/></g>
<g fill="#f00"><circle cx="281.0" cy="98.3" r="1.6"/></g>
<g fill="#0f0"><circle cx="173.9" cy="148.6" r="1.6"/><circle cx="172.2" cy="154.8" r="1.6"/><circle cx="178.5" cy="131.4" r="1.6"/><circle cx="173.9" cy="147.6" r="1.6"/><circle cx="172.2" cy="153.2" r="1.6"/><circle cx="172.2" cy="152.4" r="1.6"/></g>
<g fill="#f00"><circle cx="178.5" cy="129.0" r="1.6"/></g>
<g fill="#0f0"><circle cx="294.7" cy="159.8" r="1.6"/></g>
<g fill="#f00"><circle cx="342.3" cy="98.7" r="1.6"/></g>
<g fill="#0f0"><circle cx="398.6" cy="120.4" r="1.6"/><circle cx="400.3" cy="113.4" r="1.6"/><circle cx="170.5" cy="156.6" r="1.6"/></g>
<g fill="#f00"><circle cx="248.0" cy="100.3" r="1.6"/></g>
<g fill="#0f0"><circle cx="404.1" cy="98.5" r="1.6"/><circle cx="177.1" cy="131.5" r="1.6"/><circle cx="172.2" cy="149.3" r="1.6"/><circle cx="205.7" cy="140.4" r="1.6"/><circle cx="308.4" cy="106.0" r="1.6"/><circle cx="170.5" cy="154.8" r="1.6"/><circle cx="172.1" cy="148.9" r="1.6"/><circle cx="172.2" cy="147.6" r="1.6"/><circle cx="170.5" cy="153.7" r="1.6"/><circle cx="397.5" cy="120.2" r="1.6"/></g>
<g fill="#f00"><circle cx="172.1" cy="147.6" r="1.6"/></g>
<g fill="#0f0"><circle cx="399.2" cy="113.7" r="1.6"/></g>
<g fill="#f00"><circle cx="177.1" cy="129.1" r="1.6"/><circle cx="205.7" cy="138.2" r="1.6"/></g>
<g fill="#0f0"><circle cx="170.5" cy="152.6" r="1.6"/><circle cx="302.7" cy="124.4" r="1.6"/><circle cx="367.1" cy="116.6" r="1.6"/><circle cx="303.0" cy="123.2" r="1.6"/></g>
<g fill="#f00"><circle cx="340.6" cy="98.9" r="1.6"/></g>
<g fill="#0f0"><circle cx="336.3" cy="114.3" r="1.6"/><circle cx="170.5" cy="151.5" r="1.6"/><circle cx="266.4" cy="142.1" r="1.6"/><circle cx="398.6" cy="113.5" r="1.6"/><circle cx="366.3" cy="117.9" r="1.6"/><circle cx="175.6" cy="131.6" r="1.6"/><circle cx="305.9" cy="110.0" r="1.6"/><circle cx="168.9" cy="156.2" r="1.6"/><circle cx="259.8" cy="164.8" r="1.6"/><circle cx="168.9" cy="155.5" r="1.6"/><circle cx="170.5" cy="148.6" r="1.6"/><circle cx="173.2" cy="138.7" r="1.6"/></g>
<g fill="#f00"><circle cx="175.6" cy="129.2" r="1.6"/></g>
<g fill="#0f0"><circle cx="168.9" cy="154.0" r="1.6"/></g>
<g fill="#f00"><circle cx="173.2" cy="137.6" r="1.6"/></g>
<g fill="#0f0"><circle cx="170.5" cy="147.5" r="1.6"/><circle cx="395.8" cy="120.3" r="1.6"/></g>
<g fill="#f00"><circle cx="369.1" cy="103.7" r="1.6"/><circle cx="276.7" cy="100.0" r="1.6"/><circle cx="173.2" cy="137.3" r="1.6"/></g>
<g fill="#0f0"><circle cx="168.9" cy="152.8" r="1.6"/><circle cx="365.4" cy="116.7" r="1.6"/><circle cx="168.9" cy="152.1" r="1.6"/><circle cx="368.0" cy="105.3" r="1.6"/></g>
<g fill="#f00"><circle cx="266.4" cy="135.0" r="1.6"/></g>
<g fill="#0f0"><circle cx="396.9" cy="112.7" r="1.6"/><circle cx="263.8" cy="144.1" r="1.6"/></g>
<g fill="#f00"><circle cx="307.1" cy="98.8" r="1.6"/></g>
<g fill="#0f0"><circle cx="168.9" cy="149.3" r="1.6"/></g>
<g fill="#f00"><circle cx="307.0" cy="99.0" r="1.6"/></g>
<g fill="#0f0"><circle cx="168.9" cy="147.8" r="1.6"/><circle cx="364.3" cy="115.1" r="1.6"/><circle cx="231.7" cy="142.7" r="1.6"/></g>
<g fill="#f00"><circle cx="305.3" cy="99.1" r="1.6"/><circle cx="263.8" cy="137.0" r="1.6"/><circle cx="231.7" cy="140.3" r="1.6"/><circle cx="364.9" cy="108.1" r="1.6"/></g>
<g fill="#0f0"><circle cx="261.1" cy="146.0" r="1.6"/><circle cx="230.3" cy="142.8" r="1.6"/><circle cx="287.0" cy="163.0" r="1.6"/><circle cx="330.4" cy="116.7" r="1.6"/></g>
<g fill="#f00"><circle cx="230.3" cy="140.4" r="1.6"/><circle cx="261.1" cy="138.8" r="1.6"/></g>
<g fill="#0f0"><circle cx="228.8" cy="142.9" r="1.6"/><circle cx="328.7" cy="116.9" r="1.6"/></g>
<g fill="#f00"><circle cx="228.8" cy="140.5" r="1.6"/></g>
<g fill="#0f0"><circle cx="361.1" cy="111.6" r="1.6"/></g>
<g fill="#f00"><circle cx="299.6" cy="107.5" r="1.6"/></g>
<g fill="#0f0"><circle cx="285.0" cy="161.0" r="1.6"/><circle cx="227.4" cy="143.0" r="1.6"/></g>
<g fill="#f00"><circle cx="227.4" cy="140.6" r="1.6"/></g>
<g fill="#0f0"><circle cx="298.1" cy="109.6" r="1.6"/><circle cx="388.2" cy="121.0" r="1.6"/><circle cx="250.5" cy="169.7" r="1.6"/><circle cx="359.2" cy="113.0" r="1.6"/><circle cx="283.1" cy="163.9" r="1.6"/></g>
<g fill="#f00"><circle cx="396.2" cy="89.8" r="1.6"/></g>
<g fill="#0f0"><circle cx="328.3" cy="110.3" r="1.6"/><circle cx="358.2" cy="114.5" r="1.6"/><circle cx="314.7" cy="159.6" r="1.6"/><circle cx="282.4" cy="163.1" r="1.6"/><circle cx="357.5" cy="113.1" r="1.6"/></g>
<g fill="#f00"><circle cx="293.3" cy="120.3" r="1.6"/></g>
<g fill="#0f0"><circle cx="248.9" cy="168.7" r="1.6"/><circle cx="356.8" cy="115.1" r="1.6"/><circle cx="387.0" cy="118.3" r="1.6"/></g>
<g fill="#f00"><circle cx="291.1" cy="127.6" r="1.6"/></g>
<g fill="#0f0"><circle cx="326.6" cy="110.5" r="1.6"/><circle cx="356.5" cy="114.6" r="1.6"/></g>
<g fill="#f00"><circle cx="267.2" cy="98.3" r="1.6"/></g>
<g fill="#0f0"><circle cx="353.7" cy="122.7" r="1.6"/><circle cx="313.0" cy="156.8" r="1.6"/></g>
<g fill="#f00"><circle cx="389.6" cy="103.7" r="1.6"/></g>
<g fill="#0f0"><circle cx="385.3" cy="118.4" r="1.6"/></g>
<g fill="#f00"><circle cx="289.4" cy="127.8" r="1.6"/></g>
<g fill="#0f0"><circle cx="310.5" cy="163.7" r="1.6"/><circle cx="324.7" cy="111.0" r="1.6"/><circle cx="278.3" cy="166.7" r="1.6"/></g>
<g fill="#f00"><circle cx="265.5" cy="98.5" r="1.6"/><circle cx="387.9" cy="103.9" r="1.6"/></g>
<g fill="#0f0"><circle cx="322.2" cy="116.5" r="1.6"/></g>
<g fill="#f00"><circle cx="293.8" cy="106.4" r="1.6"/></g>
<g fill="#0f0"><circle cx="245.6" cy="169.1" r="1.6"/></g>
<g fill="#f00"><circle cx="357.1" cy="101.7" r="1.6"/></g>
<g fill="#0f0"><circle cx="388.0" cy="102.5" r="1.6"/><circle cx="246.3" cy="162.0" r="1.6"/><circle cx="351.8" cy="116.4" r="1.6"/></g>
<g fill="#f00"><circle cx="288.2" cy="121.2" r="1.6"/><circle cx="292.1" cy="106.6" r="1.6"/><circle cx="355.4" cy="101.9" r="1.6"/></g>
<g fill="#0f0"><circle cx="352.3" cy="113.2" r="1.6"/><circle cx="386.3" cy="102.6" r="1.6"/><circle cx="187.4" cy="147.3" r="1.6"/><circle cx="352.1" cy="113.4" r="1.6"/></g>
<g fill="#f00"><circle cx="187.4" cy="146.0" r="1.6"/></g>
<g fill="#0f0"><circle cx="243.3" cy="167.8" r="1.6"/><circle cx="243.9" cy="164.0" r="1.6"/><circle cx="350.1" cy="116.5" r="1.6"/></g>
<g fill="#f00"><circle cx="286.5" cy="121.3" r="1.6"/></g>
<g fill="#0f0"><circle cx="350.6" cy="113.3" r="1.6"/><circle cx="241.8" cy="169.7" r="1.6"/></g>
<g fill="#f00"><circle cx="389.4" cy="82.7" r="1.6"/><circle cx="352.7" cy="102.0" r="1.6"/></g>
<g fill="#0f0"><circle cx="184.0" cy="148.7" r="1.6"/></g>
<g fill="#f00"><circle cx="258.7" cy="102.4" r="1.6"/></g>
<g fill="#0f0"><circle cx="303.7" cy="165.8" r="1.6"/><circle cx="240.7" cy="168.1" r="1.6"/><circle cx="181.1" cy="158.1" r="1.6"/></g>
<g fill="#f00"><circle cx="184.0" cy="147.4" r="1.6"/></g>
<g fill="#0f0"><circle cx="181.1" cy="156.7" r="1.6"/><circle cx="381.6" cy="105.2" r="1.6"/><circle cx="181.1" cy="155.5" r="1.6"/><circle cx="187.1" cy="133.2" r="1.6"/></g>
<g fill="#f00"><circle cx="351.0" cy="102.2" r="1.6"/></g>
<g fill="#0f0"><circle cx="181.1" cy="154.2" r="1.6"/><circle cx="182.3" cy="149.5" r="1.6"/></g>
<g fill="#f00"><circle cx="187.1" cy="130.8" r="1.6"/><circle cx="182.3" cy="148.2" r="1.6"/></g>
<g fill="#0f0"><circle cx="240.0" cy="164.7" r="1.6"/><circle cx="179.4" cy="158.4" r="1.6"/><circle cx="316.0" cy="113.7" r="1.6"/><circle cx="179.4" cy="157.0" r="1.6"/></g>
<g fill="#f00"><circle cx="256.8" cy="100.8" r="1.6"/></g>
<g fill="#0f0"><circle cx="181.1" cy="150.4" r="1.6"/><circle cx="185.7" cy="133.3" r="1.6"/><circle cx="238.8" cy="166.9" r="1.6"/></g>
<g fill="#f00"><circle cx="317.8" cy="105.0" r="1.6"/></g>
<g fill="#0f0"><circle cx="379.9" cy="105.3" r="1.6"/><circle cx="179.4" cy="155.8" r="1.6"/><circle cx="303.5" cy="157.4" r="1.6"/><circle cx="181.1" cy="149.3" r="1.6"/><circle cx="179.4" cy="154.2" r="1.6"/></g>
<g fill="#f00"><circle cx="185.7" cy="130.9" r="1.6"/></g>
<g fill="#0f0"><circle cx="300.9" cy="163.9" r="1.6"/><circle cx="177.7" cy="158.4" r="1.6"/><circle cx="184.2" cy="133.4" r="1.6"/><circle cx="309.8" cy="129.2" r="1.6"/><circle cx="179.4" cy="150.9" r="1.6"/><circle cx="177.7" cy="157.0" r="1.6"/></g>
<g fill="#f00"><circle cx="255.1" cy="101.0" r="1.6"/></g>
<g fill="#0f0"><circle cx="179.3" cy="150.8" r="1.6"/><circle cx="179.4" cy="150.0" r="1.6"/><circle cx="177.7" cy="155.9" r="1.6"/></g>
<g fill="#f00"><circle cx="179.3" cy="149.5" r="1.6"/><circle cx="184.2" cy="131.0" r="1.6"/></g>
<g fill="#0f0"><circle cx="177.7" cy="154.3" r="1.6"/><circle cx="268.9" cy="162.1" r="1.6"/><circle cx="177.7" cy="153.4" r="1.6"/><circle cx="377.8" cy="103.8" r="1.6"/><circle cx="182.8" cy="133.6" r="1.6"/><circle cx="313.0" cy="112.3" r="1.6"/><circle cx="176.0" cy="158.4" r="1.6"/><circle cx="373.4" cy="118.9" r="1.6"/><circle cx="177.7" cy="151.7" r="1.6"/><circle cx="298.6" cy="164.3" r="1.6"/><circle cx="177.7" cy="151.0" r="1.6"/><circle cx="176.0" cy="157.2" r="1.6"/><circle cx="180.3" cy="140.6" r="1.6"/></g>
<g fill="#f00"><circle cx="182.8" cy="131.1" r="1.6"/></g>
<g fill="#0f0"><circle cx="177.7" cy="149.8" r="1.6"/></g>
<g fill="#f00"><circle cx="252.9" cy="102.1" r="1.6"/></g>
<g fill="#0f0"><circle cx="176.0" cy="156.0" r="1.6"/><circle cx="330.0" cy="161.8" r="1.6"/></g>
<g fill="#f00"><circle cx="376.5" cy="105.2" r="1.6"/></g>
<g fill="#0f0"><circle cx="297.3" cy="167.2" r="1.6"/></g>
<g fill="#f00"><circle cx="180.3" cy="139.3" r="1.6"/><circle cx="376.3" cy="105.3" r="1.6"/></g>
<g fill="#0f0"><circle cx="176.0" cy="154.8" r="1.6"/><circle cx="234.5" cy="168.5" r="1.6"/><circle cx="309.1" cy="122.2" r="1.6"/><circle cx="176.0" cy="153.7" r="1.6"/><circle cx="376.1" cy="104.0" r="1.6"/></g>
<g fill="#f00"><circle cx="314.2" cy="102.4" r="1.6"/></g>
<g fill="#0f0"><circle cx="296.9" cy="164.1" r="1.6"/><circle cx="176.0" cy="150.8" r="1.6"/><circle cx="371.4" cy="118.7" r="1.6"/></g>
<g fill="#f00"><circle cx="251.2" cy="102.2" r="1.6"/></g>
<g fill="#0f0"><circle cx="176.0" cy="149.9" r="1.6"/></g>
<g fill="#f00"><circle cx="314.1" cy="99.0" r="1.6"/></g>
<g fill="#0f0"><circle cx="307.5" cy="122.3" r="1.6"/><circle cx="238.9" cy="144.4" r="1.6"/><circle cx="264.0" cy="165.7" r="1.6"/><circle cx="231.9" cy="168.5" r="1.6"/><circle cx="328.5" cy="156.6" r="1.6"/></g>
<g fill="#f00"><circle cx="280.7" cy="103.1" r="1.6"/><circle cx="238.9" cy="142.0" r="1.6"/><circle cx="312.4" cy="99.1" r="1.6"/><circle cx="372.0" cy="108.1" r="1.6"/></g>
<g fill="#0f0"><circle cx="237.4" cy="144.6" r="1.6"/><circle cx="326.8" cy="159.0" r="1.6"/><circle cx="263.6" cy="160.9" r="1.6"/></g>
<g fill="#f00"><circle cx="237.4" cy="142.1" r="1.6"/><circle cx="279.0" cy="103.3" r="1.6"/></g>
<g fill="#0f0"><circle cx="326.5" cy="155.9" r="1.6"/></g>
<g fill="#f00"><circle cx="278.4" cy="103.5" r="1.6"/></g>
<g fill="#0f0"><circle cx="368.3" cy="116.3" r="1.6"/><circle cx="236.0" cy="144.7" r="1.6"/><circle cx="261.9" cy="164.0" r="1.6"/></g>
<g fill="#f00"><circle cx="277.7" cy="104.7" r="1.6"/><circle cx="236.0" cy="142.3" r="1.6"/></g>
<g fill="#0f0"><circle cx="229.1" cy="167.2" r="1.6"/><circle cx="291.4" cy="166.8" r="1.6"/></g>
<g fill="#f00"><circle cx="370.4" cy="104.5" r="1.6"/></g>
<g fill="#0f0"><circle cx="234.5" cy="144.8" r="1.6"/></g>
<g fill="#f00"><circle cx="276.7" cy="103.6" r="1.6"/><circle cx="306.7" cy="107.5" r="1.6"/></g>
<g fill="#0f0"><circle cx="325.6" cy="152.4" r="1.6"/><circle cx="305.2" cy="112.4" r="1.6"/></g>
<g fill="#f00"><circle cx="276.1" cy="104.8" r="1.6"/><circle cx="370.2" cy="102.0" r="1.6"/><circle cx="234.5" cy="142.4" r="1.6"/></g>
<g fill="#0f0"><circle cx="335.4" cy="113.5" r="1.6"/></g>
<g fill="#f00"><circle cx="368.7" cy="104.7" r="1.6"/></g>
<g fill="#0f0"><circle cx="365.4" cy="113.9" r="1.6"/></g>
<g fill="#f00"><circle cx="298.2" cy="131.2" r="1.6"/><circle cx="368.0" cy="102.4" r="1.6"/></g>
<g fill="#0f0"><circle cx="333.8" cy="113.6" r="1.6"/><circle cx="289.5" cy="160.9" r="1.6"/></g>
<g fill="#f00"><circle cx="300.4" cy="120.5" r="1.6"/></g>
<g fill="#0f0"><circle cx="319.6" cy="163.9" r="1.6"/><circle cx="331.9" cy="118.2" r="1.6"/><circle cx="288.0" cy="164.8" r="1.6"/><circle cx="320.7" cy="158.9" r="1.6"/><circle cx="318.6" cy="165.9" r="1.6"/></g>
<g fill="#f00"><circle cx="304.0" cy="104.8" r="1.6"/></g>
<g fill="#0f0"><circle cx="360.8" cy="124.9" r="1.6"/><circle cx="363.7" cy="114.0" r="1.6"/><circle cx="319.5" cy="161.9" r="1.6"/><circle cx="363.9" cy="113.1" r="1.6"/></g>
<g fill="#f00"><circle cx="296.5" cy="131.4" r="1.6"/><circle cx="274.3" cy="97.9" r="1.6"/><circle cx="366.3" cy="102.6" r="1.6"/></g>
<g fill="#0f0"><circle cx="288.6" cy="159.3" r="1.6"/><circle cx="362.9" cy="112.2" r="1.6"/></g>
<g fill="#f00"><circle cx="303.9" cy="99.1" r="1.6"/></g>
<g fill="#0f0"><circle cx="329.3" cy="119.8" r="1.6"/></g>
<g fill="#f00"><circle cx="272.6" cy="98.1" r="1.6"/></g>
<g fill="#0f0"><circle cx="284.2" cy="169.4" r="1.6"/><circle cx="223.1" cy="164.7" r="1.6"/></g>
<g fill="#f00"><circle cx="300.9" cy="105.7" r="1.6"/></g>
<g fill="#0f0"><circle cx="361.2" cy="112.3" r="1.6"/><circle cx="317.5" cy="158.7" r="1.6"/><circle cx="222.2" cy="165.3" r="1.6"/></g>
<g fill="#f00"><circle cx="302.2" cy="99.3" r="1.6"/></g>
<g fill="#0f0"><circle cx="228.5" cy="141.3" r="1.6"/><circle cx="315.4" cy="164.2" r="1.6"/><circle cx="359.0" cy="118.2" r="1.6"/><circle cx="252.5" cy="165.8" r="1.6"/></g>
<g fill="#f00"><circle cx="228.5" cy="139.1" r="1.6"/></g>
<g fill="#0f0"><circle cx="194.5" cy="149.2" r="1.6"/><circle cx="359.4" cy="114.7" r="1.6"/><circle cx="251.2" cy="168.7" r="1.6"/><circle cx="282.6" cy="167.7" r="1.6"/></g>
<g fill="#f00"><circle cx="194.5" cy="147.9" r="1.6"/><circle cx="299.2" cy="105.8" r="1.6"/></g>
<g fill="#0f0"><circle cx="359.2" cy="113.2" r="1.6"/></g>
<g fill="#f00"><circle cx="300.3" cy="99.8" r="1.6"/></g>
<g fill="#0f0"><circle cx="357.3" cy="118.4" r="1.6"/><circle cx="219.6" cy="166.3" r="1.6"/><circle cx="313.6" cy="163.7" r="1.6"/><circle cx="357.7" cy="114.9" r="1.6"/><circle cx="281.9" cy="164.2" r="1.6"/><circle cx="312.9" cy="164.4" r="1.6"/><circle cx="251.1" cy="161.9" r="1.6"/></g>
<g fill="#f00"><circle cx="267.7" cy="100.4" r="1.6"/></g>
<g fill="#0f0"><circle cx="191.1" cy="150.6" r="1.6"/></g>
<g fill="#f00"><circle cx="325.3" cy="114.6" r="1.6"/><circle cx="191.1" cy="149.3" r="1.6"/></g>
<g fill="#0f0"><circle cx="188.2" cy="160.0" r="1.6"/><circle cx="314.7" cy="152.5" r="1.6"/><circle cx="188.2" cy="158.6" r="1.6"/><circle cx="248.3" cy="166.0" r="1.6"/></g>
<g fill="#f00"><circle cx="266.0" cy="100.5" r="1.6"/></g>
<g fill="#0f0"><circle cx="188.2" cy="157.6" r="1.6"/><circle cx="194.2" cy="135.1" r="1.6"/><circle cx="279.5" cy="165.0" r="1.6"/><circle cx="248.1" cy="166.1" r="1.6"/></g>
<g fill="#f00"><circle cx="295.6" cy="104.9" r="1.6"/></g>
<g fill="#0f0"><circle cx="189.4" cy="151.5" r="1.6"/><circle cx="313.4" cy="153.1" r="1.6"/><circle cx="248.3" cy="162.8" r="1.6"/></g>
<g fill="#f00"><circle cx="194.2" cy="132.7" r="1.6"/><circle cx="189.4" cy="150.1" r="1.6"/></g>
<g fill="#0f0"><circle cx="186.5" cy="160.1" r="1.6"/><circle cx="323.1" cy="114.9" r="1.6"/><circle cx="186.5" cy="159.2" r="1.6"/><circle cx="188.2" cy="152.7" r="1.6"/><circle cx="192.8" cy="135.3" r="1.6"/><circle cx="186.5" cy="157.6" r="1.6"/></g>
<g fill="#f00"><circle cx="322.6" cy="114.7" r="1.6"/></g>
<g fill="#0f0"><circle cx="309.5" cy="163.0" r="1.6"/><circle cx="279.3" cy="159.5" r="1.6"/><circle cx="188.2" cy="150.8" r="1.6"/><circle cx="186.5" cy="156.9" r="1.6"/></g>
<g fill="#f00"><circle cx="293.9" cy="105.1" r="1.6"/><circle cx="192.8" cy="132.8" r="1.6"/></g>
<g fill="#0f0"><circle cx="310.6" cy="157.2" r="1.6"/><circle cx="186.5" cy="155.4" r="1.6"/></g>
<g fill="#f00"><circle cx="295.3" cy="98.6" r="1.6"/></g>
<g fill="#0f0"><circle cx="184.8" cy="160.4" r="1.6"/><circle cx="275.6" cy="169.0" r="1.6"/><circle cx="191.3" cy="135.4" r="1.6"/><circle cx="351.5" cy="118.2" r="1.6"/><circle cx="186.5" cy="152.6" r="1.6"/><circle cx="186.4" cy="152.8" r="1.6"/><circle cx="184.8" cy="158.5" r="1.6"/><circle cx="184.8" cy="158.1" r="1.6"/><circle cx="186.5" cy="151.4" r="1.6"/></g>
<g fill="#f00"><circle cx="320.9" cy="114.9" r="1.6"/><circle cx="356.6" cy="98.2" r="1.6"/><circle cx="186.4" cy="151.4" r="1.6"/><circle cx="191.3" cy="133.0" r="1.6"/></g>
<g fill="#0f0"><circle cx="184.8" cy="156.7" r="1.6"/><circle cx="184.8" cy="155.2" r="1.6"/><circle cx="350.6" cy="117.8" r="1.6"/><circle cx="189.9" cy="135.5" r="1.6"/><circle cx="244.5" cy="163.6" r="1.6"/><circle cx="320.2" cy="114.1" r="1.6"/><circle cx="183.1" cy="160.3" r="1.6"/><circle cx="275.1" cy="165.4" r="1.6"/><circle cx="212.6" cy="166.0" r="1.6"/><circle cx="184.8" cy="153.7" r="1.6"/><circle cx="243.3" cy="167.1" r="1.6"/><circle cx="183.1" cy="159.3" r="1.6"/><circle cx="184.8" cy="152.9" r="1.6"/><circle cx="275.4" cy="162.7" r="1.6"/><circle cx="187.5" cy="142.5" r="1.6"/></g>
<g fill="#f00"><circle cx="189.9" cy="133.1" r="1.6"/></g>
<g fill="#0f0"><circle cx="183.1" cy="157.8" r="1.6"/></g>
<g fill="#f00"><circle cx="354.9" cy="98.3" r="1.6"/></g>
<g fill="#0f0"><circle cx="184.8" cy="151.4" r="1.6"/></g>
<g fill="#f00"><circle cx="187.5" cy="141.2" r="1.6"/></g>
<g fill="#0f0"><circle cx="183.1" cy="157.0" r="1.6"/><circle cx="183.1" cy="155.5" r="1.6"/><circle cx="304.1" cy="167.1" r="1.6"/><circle cx="183.1" cy="153.2" r="1.6"/><circle cx="211.4" cy="163.6" r="1.6"/><circle cx="183.1" cy="151.4" r="1.6"/><circle cx="211.0" cy="163.3" r="1.6"/><circle cx="272.5" cy="165.7" r="1.6"/></g>
<g fill="#f00"><circle cx="321.2" cy="100.6" r="1.6"/></g>
<g fill="#0f0"><circle cx="270.8" cy="169.9" r="1.6"/><circle cx="334.9" cy="162.8" r="1.6"/><circle cx="246.0" cy="146.2" r="1.6"/><circle cx="303.7" cy="162.9" r="1.6"/><circle cx="337.0" cy="153.8" r="1.6"/><circle cx="337.4" cy="152.3" r="1.6"/></g>
<g fill="#f00"><circle cx="350.2" cy="104.9" r="1.6"/></g>
<g fill="#0f0"><circle cx="272.5" cy="161.3" r="1.6"/><circle cx="208.9" cy="165.9" r="1.6"/></g>
<g fill="#f00"><circle cx="246.0" cy="143.8" r="1.6"/><circle cx="287.9" cy="103.5" r="1.6"/></g>
<g fill="#0f0"><circle cx="270.0" cy="169.1" r="1.6"/></g>
<g fill="#f00"><circle cx="319.5" cy="100.7" r="1.6"/></g>
<g fill="#0f0"><circle cx="244.6" cy="146.3" r="1.6"/><circle cx="207.0" cy="169.7" r="1.6"/></g>
<g fill="#f00"><circle cx="287.8" cy="101.0" r="1.6"/></g>
<g fill="#0f0"><circle cx="207.5" cy="167.1" r="1.6"/><circle cx="333.0" cy="162.3" r="1.6"/><circle cx="334.0" cy="158.5" r="1.6"/></g>
<g fill="#f00"><circle cx="244.6" cy="143.9" r="1.6"/></g>
<g fill="#0f0"><circle cx="239.3" cy="163.3" r="1.6"/><circle cx="206.5" cy="169.2" r="1.6"/></g>
<g fill="#f00"><circle cx="286.2" cy="103.7" r="1.6"/></g>
<g fill="#0f0"><circle cx="268.2" cy="169.3" r="1.6"/><circle cx="208.0" cy="161.6" r="1.6"/><circle cx="243.1" cy="146.4" r="1.6"/><circle cx="270.1" cy="160.9" r="1.6"/></g>
<g fill="#f00"><circle cx="285.5" cy="103.6" r="1.6"/></g>
<g fill="#0f0"><circle cx="269.2" cy="163.8" r="1.6"/><circle cx="331.8" cy="162.4" r="1.6"/><circle cx="205.3" cy="169.2" r="1.6"/></g>
<g fill="#f00"><circle cx="284.9" cy="105.4" r="1.6"/><circle cx="243.1" cy="144.0" r="1.6"/></g>
<g fill="#0f0"><circle cx="269.5" cy="159.9" r="1.6"/><circle cx="312.3" cy="116.6" r="1.6"/><circle cx="236.1" cy="167.5" r="1.6"/><circle cx="204.8" cy="167.8" r="1.6"/><circle cx="241.6" cy="146.6" r="1.6"/><circle cx="297.8" cy="167.9" r="1.6"/><circle cx="332.2" cy="155.4" r="1.6"/></g>
<g fill="#f00"><circle cx="283.9" cy="103.7" r="1.6"/></g>
<g fill="#0f0"><circle cx="332.8" cy="152.7" r="1.6"/></g>
<g fill="#f00"><circle cx="241.6" cy="144.1" r="1.6"/><circle cx="310.0" cy="121.7" r="1.6"/><circle cx="310.9" cy="118.2" r="1.6"/><circle cx="313.8" cy="107.4" r="1.6"/><circle cx="283.2" cy="105.5" r="1.6"/></g>
<g fill="#0f0"><circle cx="331.9" cy="155.2" r="1.6"/><circle cx="342.6" cy="114.8" r="1.6"/><circle cx="298.4" cy="162.7" r="1.6"/><circle cx="297.3" cy="164.6" r="1.6"/><circle cx="267.1" cy="160.9" r="1.6"/></g>
<g fill="#f00"><circle cx="305.3" cy="133.7" r="1.6"/></g>
<g fill="#0f0"><circle cx="233.3" cy="169.6" r="1.6"/><circle cx="234.6" cy="164.7" r="1.6"/></g>
<g fill="#f00"><circle cx="308.3" cy="121.8" r="1.6"/><circle cx="309.2" cy="118.3" r="1.6"/></g>
<g fill="#0f0"><circle cx="331.4" cy="151.2" r="1.6"/><circle cx="266.6" cy="160.4" r="1.6"/><circle cx="340.9" cy="115.0" r="1.6"/><circle cx="327.4" cy="164.3" r="1.6"/><circle cx="265.4" cy="162.6" r="1.6"/><circle cx="328.8" cy="157.5" r="1.6"/><circle cx="233.1" cy="165.8" r="1.6"/></g>
<g fill="#f00"><circle cx="208.9" cy="140.2" r="1.6"/></g>
<g fill="#0f0"><circle cx="328.5" cy="157.2" r="1.6"/></g>
<g fill="#f00"><circle cx="303.6" cy="133.9" r="1.6"/></g>
<g fill="#0f0"><circle cx="326.6" cy="163.3" r="1.6"/></g>
<g fill="#f00"><circle cx="281.4" cy="99.7" r="1.6"/></g>
<g fill="#0f0"><circle cx="201.4" cy="164.3" r="1.6"/><circle cx="293.7" cy="167.2" r="1.6"/><circle cx="325.2" cy="164.6" r="1.6"/><circle cx="293.0" cy="168.4" r="1.6"/></g>
<g fill="#f00"><circle cx="248.2" cy="103.7" r="1.6"/><circle cx="311.0" cy="100.2" r="1.6"/><circle cx="279.7" cy="99.8" r="1.6"/></g>
<g fill="#0f0"><circle cx="200.6" cy="162.1" r="1.6"/><circle cx="231.1" cy="163.9" r="1.6"/><circle cx="336.5" cy="119.4" r="1.6"/><circle cx="261.4" cy="164.6" r="1.6"/><circle cx="325.4" cy="157.5" r="1.6"/></g>
<g fill="#f00"><circle cx="246.5" cy="103.8" r="1.6"/></g>
<g fill="#0f0"><circle cx="259.7" cy="168.8" r="1.6"/></g>
<g fill="#f00"><circle cx="309.3" cy="100.3" r="1.6"/></g>
<g fill="#0f0"><circle cx="201.6" cy="151.2" r="1.6"/><circle cx="322.9" cy="162.8" r="1.6"/></g>
<g fill="#f00"><circle cx="201.6" cy="149.8" r="1.6"/></g>
<g fill="#0f0"><circle cx="323.4" cy="158.8" r="1.6"/><circle cx="325.1" cy="151.9" r="1.6"/><circle cx="331.6" cy="127.5" r="1.6"/><circle cx="293.3" cy="154.2" r="1.6"/><circle cx="258.5" cy="167.2" r="1.6"/><circle cx="293.0" cy="154.5" r="1.6"/><circle cx="289.3" cy="166.6" r="1.6"/><circle cx="258.4" cy="163.5" r="1.6"/><circle cx="194.8" cy="168.3" r="1.6"/><circle cx="288.3" cy="166.5" r="1.6"/><circle cx="329.9" cy="127.7" r="1.6"/><circle cx="256.8" cy="167.7" r="1.6"/><circle cx="225.7" cy="166.5" r="1.6"/><circle cx="198.2" cy="152.5" r="1.6"/></g>
<g fill="#f00"><circle cx="198.2" cy="151.2" r="1.6"/></g>
<g fill="#0f0"><circle cx="290.6" cy="154.8" r="1.6"/><circle cx="195.3" cy="161.4" r="1.6"/><circle cx="195.3" cy="160.7" r="1.6"/><circle cx="195.3" cy="159.5" r="1.6"/></g>
<g fill="#f00"><circle cx="330.1" cy="121.6" r="1.6"/></g>
<g fill="#0f0"><circle cx="255.0" cy="169.2" r="1.6"/><circle cx="201.4" cy="137.1" r="1.6"/></g>
<g fill="#f00"><circle cx="273.0" cy="102.1" r="1.6"/></g>
<g fill="#0f0"><circle cx="195.3" cy="158.4" r="1.6"/><circle cx="256.1" cy="163.8" r="1.6"/><circle cx="256.6" cy="162.0" r="1.6"/><circle cx="196.5" cy="153.4" r="1.6"/><circle cx="254.7" cy="168.3" r="1.6"/></g>
<g fill="#f00"><circle cx="201.4" cy="134.6" r="1.6"/><circle cx="196.5" cy="152.1" r="1.6"/></g>
<g fill="#0f0"><circle cx="193.6" cy="162.1" r="1.6"/><circle cx="330.2" cy="117.5" r="1.6"/></g>
<g fill="#f00"><circle cx="302.5" cy="104.0" r="1.6"/></g>
<g fill="#0f0"><circle cx="193.6" cy="160.7" r="1.6"/><circle cx="195.3" cy="154.2" r="1.6"/><circle cx="199.9" cy="137.2" r="1.6"/><circle cx="286.7" cy="161.6" r="1.6"/><circle cx="288.4" cy="154.9" r="1.6"/><circle cx="255.5" cy="161.3" r="1.6"/><circle cx="331.5" cy="110.2" r="1.6"/><circle cx="193.6" cy="159.4" r="1.6"/><circle cx="195.3" cy="153.0" r="1.6"/><circle cx="193.6" cy="158.1" r="1.6"/></g>
<g fill="#f00"><circle cx="199.9" cy="134.8" r="1.6"/></g>
<g fill="#0f0"><circle cx="287.6" cy="154.9" r="1.6"/><circle cx="192.0" cy="162.4" r="1.6"/><circle cx="221.2" cy="169.0" r="1.6"/><circle cx="198.5" cy="137.3" r="1.6"/><circle cx="193.6" cy="154.8" r="1.6"/><circle cx="192.0" cy="161.1" r="1.6"/><circle cx="284.7" cy="163.4" r="1.6"/><circle cx="193.5" cy="154.7" r="1.6"/><circle cx="190.9" cy="164.3" r="1.6"/><circle cx="192.0" cy="159.7" r="1.6"/><circle cx="193.6" cy="153.4" r="1.6"/><circle cx="329.8" cy="110.3" r="1.6"/><circle cx="317.9" cy="153.9" r="1.6"/></g>
<g fill="#f00"><circle cx="193.5" cy="153.4" r="1.6"/><circle cx="198.5" cy="134.9" r="1.6"/></g>
<g fill="#0f0"><circle cx="192.0" cy="158.4" r="1.6"/><circle cx="317.5" cy="154.0" r="1.6"/><circle cx="192.0" cy="157.1" r="1.6"/><circle cx="197.0" cy="137.4" r="1.6"/><circle cx="313.6" cy="166.8" r="1.6"/><circle cx="190.3" cy="162.1" r="1.6"/><circle cx="251.1" cy="166.9" r="1.6"/><circle cx="190.3" cy="161.5" r="1.6"/><circle cx="192.0" cy="155.1" r="1.6"/><circle cx="327.3" cy="114.9" r="1.6"/><circle cx="282.3" cy="166.1" r="1.6"/><circle cx="282.2" cy="166.0" r="1.6"/><circle cx="194.6" cy="144.5" r="1.6"/></g>
<g fill="#f00"><circle cx="197.0" cy="135.0" r="1.6"/></g>
<g fill="#0f0"><circle cx="250.0" cy="169.3" r="1.6"/><circle cx="192.0" cy="153.6" r="1.6"/><circle cx="281.6" cy="167.4" r="1.6"/><circle cx="190.3" cy="159.6" r="1.6"/></g>
<g fill="#f00"><circle cx="194.6" cy="143.1" r="1.6"/></g>
<g fill="#0f0"><circle cx="190.3" cy="158.5" r="1.6"/><circle cx="190.3" cy="157.5" r="1.6"/><circle cx="218.3" cy="168.6" r="1.6"/><circle cx="280.4" cy="169.0" r="1.6"/></g>
<g fill="#f00"><circle cx="267.1" cy="102.1" r="1.6"/></g>
<g fill="#0f0"><circle cx="250.0" cy="165.4" r="1.6"/><circle cx="250.2" cy="164.0" r="1.6"/><circle cx="190.3" cy="155.1" r="1.6"/></g>
<g fill="#f00"><circle cx="298.1" cy="101.4" r="1.6"/></g>
<g fill="#0f0"><circle cx="314.9" cy="154.0" r="1.6"/><circle cx="279.7" cy="168.3" r="1.6"/><circle cx="190.3" cy="153.4" r="1.6"/></g>
<g fill="#f00"><circle cx="328.5" cy="101.2" r="1.6"/><circle cx="328.4" cy="100.9" r="1.6"/></g>
<g fill="#0f0"><circle cx="253.1" cy="148.0" r="1.6"/></g>
<g fill="#f00"><circle cx="265.5" cy="102.3" r="1.6"/><circle cx="253.1" cy="145.5" r="1.6"/></g>
<g fill="#0f0"><circle cx="312.5" cy="156.3" r="1.6"/><circle cx="311.4" cy="159.6" r="1.6"/></g>
<g fill="#f00"><circle cx="295.0" cy="103.8" r="1.6"/></g>
<g fill="#0f0"><circle cx="309.4" cy="165.4" r="1.6"/><circle cx="246.7" cy="166.9" r="1.6"/><circle cx="251.7" cy="148.1" r="1.6"/></g>
<g fill="#f00"><circle cx="326.7" cy="101.0" r="1.6"/><circle cx="294.9" cy="101.5" r="1.6"/><circle cx="251.7" cy="145.6" r="1.6"/></g>
<g fill="#0f0"><circle cx="310.3" cy="156.8" r="1.6"/><circle cx="250.2" cy="148.2" r="1.6"/></g>
<g fill="#f00"><circle cx="292.7" cy="106.2" r="1.6"/><circle cx="293.3" cy="103.9" r="1.6"/></g>
<g fill="#0f0"><circle cx="307.9" cy="164.1" r="1.6"/><circle cx="213.0" cy="169.4" r="1.6"/><circle cx="310.6" cy="153.4" r="1.6"/></g>
<g fill="#f00"><circle cx="250.2" cy="145.8" r="1.6"/></g>
<g fill="#0f0"><circle cx="309.7" cy="155.6" r="1.6"/><circle cx="276.6" cy="162.4" r="1.6"/><circle cx="309.7" cy="154.1" r="1.6"/><circle cx="248.8" cy="148.3" r="1.6"/><circle cx="319.5" cy="116.7" r="1.6"/></g>
<g fill="#f00"><circle cx="291.0" cy="106.4" r="1.6"/><circle cx="248.8" cy="145.9" r="1.6"/></g>
<g fill="#0f0"><circle cx="244.0" cy="163.6" r="1.6"/><circle cx="242.5" cy="169.0" r="1.6"/></g>
<g fill="#f00"><circle cx="318.1" cy="118.9" r="1.6"/></g>
<g fill="#0f0"><circle cx="276.7" cy="155.9" r="1.6"/><circle cx="308.3" cy="153.5" r="1.6"/><circle cx="210.5" cy="168.7" r="1.6"/><circle cx="274.4" cy="162.2" r="1.6"/><circle cx="242.0" cy="166.9" r="1.6"/></g>
<g fill="#f00"><circle cx="314.7" cy="127.7" r="1.6"/></g>
<g fill="#0f0"><circle cx="306.5" cy="157.7" r="1.6"/><circle cx="306.5" cy="156.6" r="1.6"/><circle cx="273.2" cy="164.4" r="1.6"/></g>
<g fill="#f00"><circle cx="320.0" cy="105.9" r="1.6"/><circle cx="316.4" cy="119.0" r="1.6"/></g>
<g fill="#0f0"><circle cx="240.2" cy="169.9" r="1.6"/><circle cx="306.0" cy="156.3" r="1.6"/><circle cx="240.3" cy="166.4" r="1.6"/><circle cx="272.5" cy="161.9" r="1.6"/><circle cx="305.0" cy="156.8" r="1.6"/><circle cx="271.4" cy="164.8" r="1.6"/><circle cx="301.5" cy="168.0" r="1.6"/><circle cx="209.3" cy="163.2" r="1.6"/><circle cx="207.4" cy="169.7" r="1.6"/></g>
<g fill="#f00"><circle cx="288.6" cy="99.8" r="1.6"/></g>
<g fill="#0f0"><circle cx="270.1" cy="167.3" r="1.6"/></g>
<g fill="#f00"><circle cx="318.1" cy="100.8" r="1.6"/></g>
<g fill="#0f0"><circle cx="300.0" cy="167.4" r="1.6"/></g>
<g fill="#f00"><circle cx="286.9" cy="99.9" r="1.6"/></g>
<g fill="#0f0"><circle cx="298.8" cy="169.9" r="1.6"/><circle cx="271.0" cy="156.4" r="1.6"/><circle cx="242.7" cy="145.2" r="1.6"/><circle cx="298.3" cy="168.9" r="1.6"/><circle cx="302.0" cy="155.0" r="1.6"/><circle cx="267.1" cy="168.4" r="1.6"/></g>
<g fill="#f00"><circle cx="316.4" cy="100.9" r="1.6"/><circle cx="242.7" cy="143.0" r="1.6"/></g>
<g fill="#0f0"><circle cx="266.9" cy="168.6" r="1.6"/><circle cx="208.8" cy="153.1" r="1.6"/><circle cx="204.3" cy="168.5" r="1.6"/><circle cx="266.6" cy="168.4" r="1.6"/></g>
<g fill="#f00"><circle cx="208.8" cy="151.8" r="1.6"/></g>
<g fill="#0f0"><circle cx="298.8" cy="160.9" r="1.6"/><circle cx="296.7" cy="166.7" r="1.6"/><circle cx="297.6" cy="161.3" r="1.6"/><circle cx="298.3" cy="158.3" r="1.6"/></g>
<g fill="#f00"><circle cx="208.9" cy="143.2" r="1.6"/></g>
<g fill="#0f0"><circle cx="233.7" cy="166.4" r="1.6"/><circle cx="202.4" cy="167.0" r="1.6"/><circle cx="202.4" cy="166.9" r="1.6"/><circle cx="205.4" cy="154.5" r="1.6"/><circle cx="202.5" cy="164.8" r="1.6"/></g>
<g fill="#f00"><circle cx="282.0" cy="100.7" r="1.6"/></g>
<g fill="#0f0"><circle cx="202.5" cy="164.0" r="1.6"/></g>
<g fill="#f00"><circle cx="205.4" cy="153.2" r="1.6"/></g>
<g fill="#0f0"><circle cx="297.1" cy="159.2" r="1.6"/><circle cx="294.8" cy="166.7" r="1.6"/><circle cx="202.5" cy="162.8" r="1.6"/><circle cx="202.5" cy="161.4" r="1.6"/><circle cx="295.9" cy="161.5" r="1.6"/><circle cx="208.5" cy="139.0" r="1.6"/><circle cx="296.4" cy="159.2" r="1.6"/><circle cx="202.5" cy="159.9" r="1.6"/><circle cx="203.7" cy="155.3" r="1.6"/></g>
<g fill="#f00"><circle cx="208.5" cy="136.6" r="1.6"/><circle cx="203.7" cy="154.0" r="1.6"/></g>
<g fill="#0f0"><circle cx="200.8" cy="164.7" r="1.6"/></g>
<g fill="#f00"><circle cx="280.3" cy="100.9" r="1.6"/></g>
<g fill="#0f0"><circle cx="200.8" cy="164.1" r="1.6"/><circle cx="293.7" cy="165.2" r="1.6"/><circle cx="262.2" cy="166.8" r="1.6"/><circle cx="202.5" cy="157.3" r="1.6"/><circle cx="200.8" cy="162.6" r="1.6"/><circle cx="202.5" cy="156.2" r="1.6"/><circle cx="207.1" cy="139.1" r="1.6"/><circle cx="230.6" cy="166.7" r="1.6"/><circle cx="202.5" cy="155.3" r="1.6"/><circle cx="200.8" cy="161.5" r="1.6"/><circle cx="200.8" cy="160.2" r="1.6"/></g>
<g fill="#f00"><circle cx="207.1" cy="136.7" r="1.6"/></g>
<g fill="#0f0"><circle cx="293.2" cy="163.4" r="1.6"/><circle cx="199.1" cy="165.4" r="1.6"/><circle cx="228.7" cy="169.6" r="1.6"/><circle cx="197.9" cy="168.3" r="1.6"/><circle cx="199.1" cy="163.7" r="1.6"/><circle cx="198.6" cy="165.1" r="1.6"/><circle cx="293.4" cy="159.9" r="1.6"/><circle cx="292.7" cy="162.7" r="1.6"/><circle cx="205.6" cy="139.2" r="1.6"/><circle cx="199.1" cy="162.9" r="1.6"/><circle cx="234.3" cy="147.7" r="1.6"/><circle cx="200.7" cy="156.6" r="1.6"/></g>
<g fill="#f00"><circle cx="309.6" cy="99.2" r="1.6"/></g>
<g fill="#0f0"><circle cx="200.8" cy="155.9" r="1.6"/><circle cx="200.8" cy="155.8" r="1.6"/><circle cx="199.1" cy="161.4" r="1.6"/><circle cx="293.2" cy="158.7" r="1.6"/><circle cx="293.5" cy="157.4" r="1.6"/></g>
<g fill="#f00"><circle cx="200.7" cy="155.3" r="1.6"/><circle cx="205.6" cy="136.8" r="1.6"/></g>
<g fill="#0f0"><circle cx="261.0" cy="161.9" r="1.6"/><circle cx="199.1" cy="160.5" r="1.6"/></g>
<g fill="#f00"><circle cx="234.3" cy="145.5" r="1.6"/></g>
<g fill="#0f0"><circle cx="228.1" cy="167.5" r="1.6"/><circle cx="197.8" cy="164.5" r="1.6"/><circle cx="197.2" cy="166.5" r="1.6"/><circle cx="197.4" cy="165.5" r="1.6"/><circle cx="291.2" cy="164.1" r="1.6"/><circle cx="199.1" cy="158.9" r="1.6"/><circle cx="204.2" cy="139.4" r="1.6"/><circle cx="197.4" cy="164.1" r="1.6"/><circle cx="291.9" cy="159.2" r="1.6"/><circle cx="197.4" cy="163.1" r="1.6"/><circle cx="199.1" cy="156.4" r="1.6"/><circle cx="260.1" cy="161.2" r="1.6"/><circle cx="201.7" cy="146.4" r="1.6"/><circle cx="258.9" cy="165.1" r="1.6"/></g>
<g fill="#f00"><circle cx="204.2" cy="136.9" r="1.6"/></g>
<g fill="#0f0"><circle cx="199.1" cy="155.6" r="1.6"/><circle cx="197.4" cy="161.7" r="1.6"/></g>
<g fill="#f00"><circle cx="201.7" cy="145.1" r="1.6"/></g>
<g fill="#0f0"><circle cx="292.4" cy="155.3" r="1.6"/></g>
<g fill="#f00"><circle cx="201.7" cy="144.4" r="1.6"/></g>
<g fill="#0f0"><circle cx="292.4" cy="154.4" r="1.6"/><circle cx="197.4" cy="160.1" r="1.6"/><circle cx="197.4" cy="159.0" r="1.6"/><circle cx="256.4" cy="169.4" r="1.6"/><circle cx="225.7" cy="168.1" r="1.6"/><circle cx="287.7" cy="168.8" r="1.6"/><circle cx="197.4" cy="156.5" r="1.6"/></g>
<g fill="#f00"><circle cx="274.3" cy="101.9" r="1.6"/></g>
<g fill="#0f0"><circle cx="197.4" cy="155.7" r="1.6"/><circle cx="226.1" cy="163.7" r="1.6"/><circle cx="225.9" cy="164.4" r="1.6"/><circle cx="224.5" cy="169.3" r="1.6"/><circle cx="260.3" cy="149.7" r="1.6"/></g>
<g fill="#f00"><circle cx="272.6" cy="102.1" r="1.6"/><circle cx="260.3" cy="147.3" r="1.6"/></g>
<g fill="#0f0"><circle cx="285.7" cy="167.1" r="1.6"/><circle cx="258.8" cy="149.8" r="1.6"/><circle cx="254.0" cy="165.2" r="1.6"/></g>
<g fill="#f00"><circle cx="258.8" cy="147.4" r="1.6"/><circle cx="302.1" cy="102.4" r="1.6"/></g>
<g fill="#0f0"><circle cx="222.0" cy="166.5" r="1.6"/><circle cx="222.1" cy="165.2" r="1.6"/><circle cx="257.4" cy="149.9" r="1.6"/><circle cx="251.5" cy="169.5" r="1.6"/><circle cx="220.8" cy="167.9" r="1.6"/></g>
<g fill="#f00"><circle cx="257.4" cy="147.5" r="1.6"/></g>
<g fill="#0f0"><circle cx="254.4" cy="157.3" r="1.6"/></g>
<g fill="#f00"><circle cx="299.8" cy="104.1" r="1.6"/><circle cx="299.2" cy="106.3" r="1.6"/></g>
<g fill="#0f0"><circle cx="220.1" cy="167.7" r="1.6"/><circle cx="255.9" cy="150.1" r="1.6"/><circle cx="251.0" cy="168.0" r="1.6"/><circle cx="282.2" cy="167.7" r="1.6"/><circle cx="284.6" cy="158.2" r="1.6"/><circle cx="283.1" cy="163.6" r="1.6"/></g>
<g fill="#f00"><circle cx="255.9" cy="147.6" r="1.6"/></g>
<g fill="#0f0"><circle cx="218.6" cy="168.5" r="1.6"/></g>
<g fill="#f00"><circle cx="298.1" cy="104.2" r="1.6"/><circle cx="297.5" cy="106.4" r="1.6"/></g>
<g fill="#0f0"><circle cx="283.2" cy="156.5" r="1.6"/><circle cx="218.4" cy="165.5" r="1.6"/><circle cx="248.8" cy="166.7" r="1.6"/><circle cx="249.4" cy="164.2" r="1.6"/><circle cx="216.8" cy="168.6" r="1.6"/><circle cx="279.1" cy="166.9" r="1.6"/><circle cx="280.7" cy="160.7" r="1.6"/><circle cx="217.0" cy="165.7" r="1.6"/><circle cx="247.5" cy="168.1" r="1.6"/><circle cx="280.9" cy="159.1" r="1.6"/><circle cx="278.4" cy="165.1" r="1.6"/><circle cx="246.1" cy="169.1" r="1.6"/><circle cx="215.9" cy="165.4" r="1.6"/><circle cx="278.4" cy="162.3" r="1.6"/><circle cx="277.2" cy="166.2" r="1.6"/><circle cx="215.6" cy="163.3" r="1.6"/><circle cx="214.0" cy="167.0" r="1.6"/></g>
<g fill="#f00"><circle cx="262.4" cy="102.7" r="1.6"/></g>
<g fill="#0f0"><circle cx="212.3" cy="169.2" r="1.6"/><circle cx="243.9" cy="166.9" r="1.6"/><circle cx="215.9" cy="155.0" r="1.6"/></g>
<g fill="#f00"><circle cx="215.9" cy="153.7" r="1.6"/><circle cx="260.7" cy="102.8" r="1.6"/></g>
<g fill="#0f0"><circle cx="273.1" cy="168.6" r="1.6"/><circle cx="211.8" cy="163.4" r="1.6"/><circle cx="272.6" cy="168.5" r="1.6"/></g>
<g fill="#f00"><circle cx="216.0" cy="146.6" r="1.6"/></g>
<g fill="#0f0"><circle cx="242.7" cy="162.5" r="1.6"/><circle cx="272.0" cy="169.4" r="1.6"/><circle cx="211.4" cy="162.2" r="1.6"/><circle cx="272.8" cy="165.2" r="1.6"/><circle cx="273.2" cy="163.3" r="1.6"/><circle cx="209.7" cy="167.7" r="1.6"/><circle cx="272.0" cy="166.7" r="1.6"/><circle cx="212.5" cy="156.4" r="1.6"/><circle cx="209.6" cy="166.7" r="1.6"/><circle cx="271.8" cy="166.9" r="1.6"/></g>
<g fill="#f00"><circle cx="212.5" cy="155.1" r="1.6"/></g>
<g fill="#0f0"><circle cx="209.6" cy="165.7" r="1.6"/><circle cx="209.6" cy="164.7" r="1.6"/><circle cx="270.4" cy="169.4" r="1.6"/><circle cx="215.7" cy="140.9" r="1.6"/><circle cx="209.6" cy="163.2" r="1.6"/><circle cx="241.0" cy="162.2" r="1.6"/><circle cx="209.6" cy="162.0" r="1.6"/><circle cx="210.8" cy="157.2" r="1.6"/><circle cx="271.5" cy="162.3" r="1.6"/><circle cx="271.3" cy="163.2" r="1.6"/></g>
<g fill="#f00"><circle cx="215.7" cy="138.5" r="1.6"/></g>
<g fill="#0f0"><circle cx="207.9" cy="167.0" r="1.6"/></g>
<g fill="#f00"><circle cx="210.8" cy="155.9" r="1.6"/></g>
<g fill="#0f0"><circle cx="271.1" cy="162.5" r="1.6"/><circle cx="207.9" cy="165.8" r="1.6"/><circle cx="272.1" cy="158.2" r="1.6"/><circle cx="207.9" cy="164.7" r="1.6"/><circle cx="271.1" cy="161.1" r="1.6"/><circle cx="209.6" cy="158.3" r="1.6"/><circle cx="214.2" cy="141.1" r="1.6"/><circle cx="207.9" cy="163.5" r="1.6"/><circle cx="271.9" cy="156.9" r="1.6"/><circle cx="209.6" cy="156.9" r="1.6"/><circle cx="272.0" cy="155.8" r="1.6"/><circle cx="237.6" cy="168.0" r="1.6"/><circle cx="207.9" cy="162.4" r="1.6"/><circle cx="270.4" cy="161.4" r="1.6"/></g>
<g fill="#f00"><circle cx="214.2" cy="138.6" r="1.6"/></g>
<g fill="#0f0"><circle cx="206.2" cy="167.5" r="1.6"/><circle cx="206.2" cy="166.0" r="1.6"/><circle cx="205.7" cy="167.7" r="1.6"/><circle cx="212.8" cy="141.2" r="1.6"/><circle cx="206.2" cy="165.1" r="1.6"/><circle cx="207.9" cy="158.6" r="1.6"/><circle cx="241.4" cy="149.5" r="1.6"/><circle cx="207.8" cy="158.5" r="1.6"/><circle cx="206.2" cy="163.7" r="1.6"/><circle cx="207.9" cy="157.5" r="1.6"/></g>
<g fill="#f00"><circle cx="285.3" cy="101.0" r="1.6"/><circle cx="207.8" cy="157.2" r="1.6"/><circle cx="212.8" cy="138.7" r="1.6"/><circle cx="241.4" cy="147.3" r="1.6"/></g>
<g fill="#0f0"><circle cx="206.2" cy="162.0" r="1.6"/><circle cx="206.2" cy="161.2" r="1.6"/><circle cx="204.5" cy="167.0" r="1.6"/><circle cx="204.6" cy="166.4" r="1.6"/><circle cx="236.5" cy="163.5" r="1.6"/><circle cx="211.3" cy="141.3" r="1.6"/><circle cx="267.2" cy="164.5" r="1.6"/><circle cx="204.5" cy="165.9" r="1.6"/><circle cx="204.5" cy="165.5" r="1.6"/><circle cx="266.5" cy="166.3" r="1.6"/><circle cx="206.2" cy="158.4" r="1.6"/><circle cx="208.9" cy="148.3" r="1.6"/><circle cx="204.1" cy="165.8" r="1.6"/><circle cx="204.5" cy="163.9" r="1.6"/></g>
<g fill="#f00"><circle cx="211.3" cy="138.9" r="1.6"/><circle cx="283.6" cy="101.2" r="1.6"/></g>
<g fill="#0f0"><circle cx="206.2" cy="157.0" r="1.6"/></g>
<g fill="#f00"><circle cx="208.9" cy="147.0" r="1.6"/><circle cx="208.9" cy="146.7" r="1.6"/></g>
<g fill="#0f0"><circle cx="204.5" cy="162.0" r="1.6"/><circle cx="204.5" cy="161.2" r="1.6"/><circle cx="236.1" cy="159.4" r="1.6"/><circle cx="265.2" cy="166.5" r="1.6"/><circle cx="203.5" cy="162.2" r="1.6"/><circle cx="204.5" cy="158.0" r="1.6"/><circle cx="266.4" cy="159.3" r="1.6"/><circle cx="263.9" cy="168.2" r="1.6"/><circle cx="204.5" cy="157.2" r="1.6"/></g>
<g fill="#f00"><circle cx="281.4" cy="101.1" r="1.6"/></g>
<g fill="#0f0"><circle cx="264.5" cy="162.9" r="1.6"/><circle cx="267.4" cy="151.5" r="1.6"/><circle cx="262.5" cy="169.0" r="1.6"/></g>
<g fill="#f00"><circle cx="267.4" cy="149.0" r="1.6"/><circle cx="279.7" cy="101.2" r="1.6"/></g>
<g fill="#0f0"><circle cx="266.0" cy="151.6" r="1.6"/><circle cx="264.2" cy="156.5" r="1.6"/><circle cx="262.9" cy="160.5" r="1.6"/></g>
<g fill="#f00"><circle cx="266.0" cy="149.2" r="1.6"/></g>
<g fill="#0f0"><circle cx="230.8" cy="162.6" r="1.6"/><circle cx="231.5" cy="159.7" r="1.6"/><circle cx="260.2" cy="168.7" r="1.6"/><circle cx="264.5" cy="151.7" r="1.6"/><circle cx="262.6" cy="158.4" r="1.6"/></g>
<g fill="#f00"><circle cx="264.5" cy="149.3" r="1.6"/></g>
<g fill="#0f0"><circle cx="261.7" cy="159.6" r="1.6"/><circle cx="263.1" cy="151.8" r="1.6"/><circle cx="226.7" cy="169.1" r="1.6"/></g>
<g fill="#f00"><circle cx="263.1" cy="149.4" r="1.6"/></g>
<g fill="#0f0"><circle cx="260.4" cy="158.6" r="1.6"/><circle cx="226.0" cy="169.4" r="1.6"/><circle cx="256.8" cy="169.0" r="1.6"/><circle cx="226.9" cy="163.9" r="1.6"/><circle cx="257.8" cy="160.0" r="1.6"/><circle cx="256.8" cy="163.2" r="1.6"/><circle cx="257.2" cy="158.3" r="1.6"/><circle cx="225.3" cy="160.2" r="1.6"/><circle cx="222.9" cy="167.6" r="1.6"/><circle cx="253.9" cy="166.0" r="1.6"/><circle cx="254.2" cy="160.4" r="1.6"/><circle cx="220.6" cy="168.9" r="1.6"/></g>
<g fill="#f00"><circle cx="269.6" cy="103.0" r="1.6"/></g>
<g fill="#0f0"><circle cx="252.2" cy="164.9" r="1.6"/><circle cx="223.0" cy="157.0" r="1.6"/></g>
<g fill="#f00"><circle cx="223.0" cy="155.6" r="1.6"/><circle cx="267.9" cy="103.1" r="1.6"/></g>
<g fill="#0f0"><circle cx="249.9" cy="168.4" r="1.6"/><circle cx="249.9" cy="167.1" r="1.6"/><circle cx="219.1" cy="164.4" r="1.6"/></g>
<g fill="#f00"><circle cx="223.2" cy="147.5" r="1.6"/></g>
<g fill="#0f0"><circle cx="250.6" cy="160.0" r="1.6"/><circle cx="216.8" cy="169.4" r="1.6"/><circle cx="219.6" cy="158.3" r="1.6"/><circle cx="216.7" cy="168.9" r="1.6"/><circle cx="248.1" cy="167.8" r="1.6"/></g>
<g fill="#f00"><circle cx="219.6" cy="157.0" r="1.6"/></g>
<g fill="#0f0"><circle cx="216.7" cy="167.6" r="1.6"/><circle cx="216.7" cy="166.1" r="1.6"/><circle cx="222.8" cy="142.9" r="1.6"/><circle cx="216.7" cy="164.9" r="1.6"/><circle cx="216.7" cy="163.7" r="1.6"/><circle cx="218.0" cy="159.2" r="1.6"/><circle cx="248.2" cy="161.9" r="1.6"/><circle cx="215.0" cy="169.1" r="1.6"/></g>
<g fill="#f00"><circle cx="222.8" cy="140.4" r="1.6"/></g>
<g fill="#0f0"><circle cx="248.6" cy="159.9" r="1.6"/><circle cx="248.6" cy="159.5" r="1.6"/></g>
<g fill="#f00"><circle cx="218.0" cy="157.9" r="1.6"/></g>
<g fill="#0f0"><circle cx="248.5" cy="159.5" r="1.6"/><circle cx="217.0" cy="160.7" r="1.6"/><circle cx="215.0" cy="167.5" r="1.6"/><circle cx="216.6" cy="160.9" r="1.6"/><circle cx="216.7" cy="160.2" r="1.6"/><circle cx="215.0" cy="166.3" r="1.6"/><circle cx="221.3" cy="143.0" r="1.6"/><circle cx="215.0" cy="165.4" r="1.6"/><circle cx="216.7" cy="158.9" r="1.6"/><circle cx="214.2" cy="168.1" r="1.6"/><circle cx="215.0" cy="164.6" r="1.6"/><circle cx="248.5" cy="155.4" r="1.6"/></g>
<g fill="#f00"><circle cx="221.3" cy="140.6" r="1.6"/></g>
<g fill="#0f0"><circle cx="244.9" cy="168.6" r="1.6"/><circle cx="213.4" cy="169.1" r="1.6"/></g>
<g fill="#f00"><circle cx="248.5" cy="153.2" r="1.6"/></g>
<g fill="#0f0"><circle cx="213.4" cy="168.0" r="1.6"/><circle cx="219.9" cy="143.1" r="1.6"/><circle cx="215.0" cy="160.4" r="1.6"/><circle cx="213.9" cy="164.4" r="1.6"/><circle cx="214.9" cy="160.5" r="1.6"/><circle cx="213.4" cy="166.2" r="1.6"/><circle cx="246.4" cy="158.9" r="1.6"/><circle cx="213.4" cy="165.5" r="1.6"/><circle cx="215.0" cy="159.1" r="1.6"/></g>
<g fill="#f00"><circle cx="214.9" cy="159.2" r="1.6"/><circle cx="219.9" cy="140.7" r="1.6"/></g>
<g fill="#0f0"><circle cx="213.4" cy="164.6" r="1.6"/><circle cx="213.4" cy="164.1" r="1.6"/><circle cx="245.7" cy="159.4" r="1.6"/><circle cx="243.3" cy="167.7" r="1.6"/><circle cx="211.7" cy="169.5" r="1.6"/><circle cx="213.4" cy="162.9" r="1.6"/><circle cx="245.3" cy="159.3" r="1.6"/><circle cx="218.4" cy="143.2" r="1.6"/><circle cx="211.7" cy="167.9" r="1.6"/><circle cx="213.4" cy="160.4" r="1.6"/><circle cx="211.7" cy="166.4" r="1.6"/><circle cx="216.0" cy="150.2" r="1.6"/><circle cx="210.7" cy="169.6" r="1.6"/><circle cx="211.7" cy="165.9" r="1.6"/></g>
<g fill="#f00"><circle cx="218.4" cy="140.8" r="1.6"/></g>
<g fill="#0f0"><circle cx="213.4" cy="159.5" r="1.6"/></g>
<g fill="#f00"><circle cx="216.0" cy="148.9" r="1.6"/></g>
<g fill="#0f0"><circle cx="211.7" cy="164.4" r="1.6"/></g>
<g fill="#f00"><circle cx="216.0" cy="148.1" r="1.6"/></g>
<g fill="#0f0"><circle cx="243.4" cy="161.7" r="1.6"/><circle cx="211.7" cy="163.0" r="1.6"/><circle cx="210.5" cy="167.2" r="1.6"/><circle cx="243.7" cy="158.5" r="1.6"/><circle cx="210.3" cy="166.4" r="1.6"/><circle cx="211.7" cy="160.7" r="1.6"/><circle cx="241.2" cy="166.3" r="1.6"/><circle cx="240.2" cy="169.1" r="1.6"/><circle cx="211.7" cy="159.2" r="1.6"/><circle cx="241.4" cy="160.6" r="1.6"/><circle cx="239.6" cy="166.6" r="1.6"/><circle cx="239.0" cy="167.3" r="1.6"/><circle cx="238.1" cy="169.5" r="1.6"/><circle cx="237.2" cy="166.0" r="1.6"/><circle cx="234.1" cy="165.7" r="1.6"/><circle cx="234.9" cy="160.3" r="1.6"/><circle cx="234.7" cy="159.6" r="1.6"/><circle cx="232.7" cy="166.9" r="1.6"/><circle cx="231.7" cy="162.3" r="1.6"/><circle cx="231.1" cy="162.5" r="1.6"/><circle cx="230.8" cy="163.1" r="1.6"/><circle cx="230.0" cy="162.6" r="1.6"/><circle cx="229.4" cy="163.5" r="1.6"/><circle cx="414.4" cy="167.1" r="1.6"/><circle cx="167.8" cy="165.9" r="1.6"/><circle cx="173.8" cy="165.5" r="1.6"/><circle cx="175.5" cy="165.5" r="1.6"/><circle cx="384.2" cy="174.6" r="1.6"/><circle cx="385.9" cy="174.6" r="1.6"/><circle cx="351.0" cy="175.3" r="1.6"/><circle cx="202.5" cy="182.5" r="1.6"/><circle cx="339.9" cy="173.5" r="1.6"/><circle cx="263.0" cy="168.0" r="1.6"/><circle cx="421.3" cy="166.0" r="1.6"/><circle cx="423.0" cy="166.0" r="1.6"/><circle cx="416.3" cy="167.9" r="1.6"/><circle cx="204.2" cy="181.3" r="1.6"/><circle cx="205.9" cy="181.3" r="1.6"/><circle cx="414.8" cy="160.4" r="1.6"/><circle cx="230.0" cy="184.1" r="1.6"/><circle cx="286.1" cy="191.9" r="1.6"/><circle cx="287.8" cy="191.9" r="1.6"/><circle cx="354.3" cy="163.2" r="1.6"/><circle cx="210.1" cy="168.5" r="1.6"/><circle cx="211.8" cy="168.5" r="1.6"/><circle cx="230.3" cy="170.3" r="1.6"/><circle cx="232.0" cy="170.3" r="1.6"/><circle cx="356.6" cy="171.8" r="1.6"/><circle cx="341.5" cy="166.0" r="1.6"/><circle cx="354.3" cy="163.6" r="1.6"/><circle cx="187.3" cy="171.8" r="1.6"/><circle cx="304.4" cy="185.6" r="1.6"/><circle cx="370.9" cy="169.7" r="1.6"/><circle cx="243.5" cy="169.2" r="1.6"/><circle cx="245.2" cy="169.2" r="1.6"/><circle cx="225.3" cy="177.6" r="1.6"/><circle cx="310.4" cy="190.6" r="1.6"/><circle cx="284.2" cy="177.0" r="1.6"/><circle cx="285.9" cy="177.0" r="1.6"/><circle cx="208.2" cy="172.2" r="1.6"/><circle cx="422.4" cy="165.2" r="1.6"/><circle cx="424.1" cy="165.2" r="1.6"/><circle cx="381.0" cy="166.2" r="1.6"/><circle cx="382.7" cy="166.2" r="1.6"/><circle cx="180.0" cy="170.7" r="1.6"/><circle cx="222.6" cy="172.5" r="1.6"/><circle cx="353.9" cy="186.3" r="1.6"/><circle cx="264.7" cy="169.7" r="1.6"/><circle cx="382.5" cy="177.6" r="1.6"/><circle cx="362.9" cy="171.8" r="1.6"/><circle cx="169.9" cy="165.2" r="1.6"/><circle cx="349.1" cy="177.0" r="1.6"/><circle cx="378.8" cy="164.1" r="1.6"/><circle cx="321.6" cy="177.8" r="1.6"/><circle cx="346.5" cy="177.6" r="1.6"/><circle cx="312.2" cy="182.5" r="1.6"/><circle cx="313.9" cy="182.5" r="1.6"/><circle cx="269.8" cy="194.0" r="1.6"/><circle cx="271.5" cy="194.0" r="1.6"/><circle cx="212.6" cy="183.5" r="1.6"/><circle cx="214.3" cy="183.5" r="1.6"/><circle cx="175.1" cy="162.4" r="1.6"/><circle cx="176.8" cy="162.4" r="1.6"/><circle cx="181.5" cy="172.5" r="1.6"/><circle cx="356.2" cy="163.2" r="1.6"/><circle cx="175.7" cy="160.2" r="1.6"/><circle cx="177.4" cy="160.2" r="1.6"/><circle cx="225.2" cy="186.8" r="1.6"/><circle cx="323.4" cy="169.7" r="1.6"/><circle cx="325.1" cy="169.7" r="1.6"/><circle cx="223.0" cy="172.9" r="1.6"/><circle cx="352.9" cy="165.8" r="1.6"/><circle cx="212.6" cy="186.1" r="1.6"/><circle cx="214.3" cy="186.1" r="1.6"/><circle cx="366.1" cy="183.5" r="1.6"/><circle cx="367.8" cy="183.5" r="1.6"/><circle cx="277.5" cy="189.5" r="1.6"/><circle cx="415.7" cy="160.3" r="1.6"/><circle cx="391.5" cy="165.7" r="1.6"/><circle cx="160.6" cy="161.0" r="1.6"/><circle cx="162.3" cy="161.0" r="1.6"/><circle cx="267.8" cy="170.2" r="1.6"/><circle cx="205.7" cy="178.3" r="1.6"/><circle cx="318.9" cy="185.9" r="1.6"/><circle cx="165.4" cy="163.4" r="1.6"/><circle cx="274.8" cy="185.7" r="1.6"/><circle cx="345.5" cy="185.9" r="1.6"/><circle cx="298.4" cy="175.3" r="1.6"/><circle cx="338.7" cy="174.0" r="1.6"/><circle cx="297.8" cy="192.8" r="1.6"/><circle cx="308.5" cy="177.9" r="1.6"/><circle cx="213.6" cy="184.6" r="1.6"/><circle cx="215.3" cy="184.6" r="1.6"/><circle cx="263.3" cy="184.2" r="1.6"/><circle cx="396.1" cy="161.1" r="1.6"/><circle cx="299.4" cy="178.2" r="1.6"/><circle cx="415.3" cy="162.3" r="1.6"/><circle cx="235.3" cy="171.9" r="1.6"/><circle cx="262.9" cy="190.5" r="1.6"/><circle cx="236.0" cy="196.8" r="1.6"/><circle cx="352.2" cy="172.5" r="1.6"/><circle cx="224.8" cy="174.2" r="1.6"/><circle cx="348.2" cy="186.1" r="1.6"/><circle cx="349.9" cy="186.1" r="1.6"/><circle cx="298.9" cy="168.3" r="1.6"/><circle cx="226.4" cy="168.9" r="1.6"/><circle cx="329.5" cy="168.4" r="1.6"/><circle cx="171.1" cy="161.5" r="1.6"/><circle cx="172.8" cy="161.5" r="1.6"/><circle cx="288.7" cy="184.8" r="1.6"/><circle cx="392.7" cy="165.1" r="1.6"/><circle cx="394.4" cy="165.1" r="1.6"/><circle cx="262.8" cy="188.7" r="1.6"/><circle cx="228.5" cy="182.1" r="1.6"/><circle cx="297.8" cy="200.6" r="1.6"/><circle cx="188.3" cy="171.9" r="1.6"/><circle cx="308.1" cy="176.9" r="1.6"/><circle cx="348.5" cy="179.2" r="1.6"/><circle cx="193.1" cy="164.3" r="1.6"/><circle cx="254.8" cy="200.6" r="1.6"/><circle cx="215.5" cy="188.0" r="1.6"/><circle cx="346.5" cy="166.9" r="1.6"/><circle cx="337.6" cy="193.0" r="1.6"/><circle cx="339.3" cy="193.0" r="1.6"/><circle cx="293.0" cy="193.9" r="1.6"/><circle cx="251.8" cy="172.4" r="1.6"/><circle cx="253.5" cy="172.4" r="1.6"/><circle cx="239.9" cy="186.6" r="1.6"/><circle cx="241.6" cy="186.6" r="1.6"/><circle cx="357.2" cy="165.0" r="1.6"/><circle cx="396.5" cy="172.8" r="1.6"/><circle cx="173.9" cy="161.8" r="1.6"/><circle cx="175.6" cy="161.8" r="1.6"/><circle cx="352.7" cy="162.9" r="1.6"/><circle cx="355.8" cy="169.0" r="1.6"/><circle cx="241.4" cy="175.7" r="1.6"/><circle cx="247.2" cy="175.9" r="1.6"/><circle cx="275.0" cy="199.1" r="1.6"/><circle cx="207.5" cy="180.6" r="1.6"/><circle cx="241.6" cy="169.9" r="1.6"/><circle cx="399.6" cy="167.8" r="1.6"/><circle cx="401.3" cy="167.8" r="1.6"/><circle cx="200.2" cy="181.3" r="1.6"/><circle cx="282.6" cy="183.4" r="1.6"/><circle cx="276.9" cy="204.4" r="1.6"/><circle cx="232.5" cy="187.9" r="1.6"/><circle cx="169.7" cy="162.8" r="1.6"/><circle cx="421.6" cy="160.2" r="1.6"/><circle cx="334.5" cy="168.0" r="1.6"/><circle cx="336.2" cy="168.0" r="1.6"/><circle cx="249.5" cy="197.9" r="1.6"/><circle cx="417.5" cy="171.9" r="1.6"/><circle cx="343.1" cy="174.1" r="1.6"/><circle cx="398.8" cy="174.0" r="1.6"/><circle cx="215.0" cy="169.1" r="1.6"/><circle cx="193.4" cy="165.6" r="1.6"/><circle cx="235.3" cy="176.6" r="1.6"/><circle cx="346.9" cy="177.6" r="1.6"/><circle cx="194.7" cy="164.0" r="1.6"/><circle cx="196.4" cy="164.0" r="1.6"/><circle cx="241.5" cy="180.9" r="1.6"/><circle cx="335.4" cy="170.8" r="1.6"/><circle cx="351.8" cy="176.2" r="1.6"/><circle cx="353.5" cy="176.2" r="1.6"/><circle cx="352.5" cy="168.0" r="1.6"/><circle cx="308.5" cy="199.2" r="1.6"/><circle cx="268.8" cy="173.8" r="1.6"/><circle cx="256.9" cy="174.9" r="1.6"/><circle cx="167.4" cy="161.8" r="1.6"/><circle cx="349.2" cy="169.1" r="1.6"/><circle cx="247.0" cy="168.1" r="1.6"/><circle cx="250.9" cy="181.0" r="1.6"/><circle cx="332.9" cy="168.0" r="1.6"/><circle cx="288.5" cy="196.3" r="1.6"/><circle cx="290.2" cy="196.3" r="1.6"/><circle cx="216.5" cy="167.9" r="1.6"/><circle cx="218.2" cy="167.9" r="1.6"/><circle cx="370.1" cy="184.0" r="1.6"/><circle cx="371.8" cy="184.0" r="1.6"/><circle cx="231.0" cy="177.9" r="1.6"/><circle cx="338.4" cy="174.2" r="1.6"/><circle cx="340.1" cy="174.2" r="1.6"/><circle cx="298.0" cy="169.9" r="1.6"/><circle cx="241.3" cy="186.8" r="1.6"/><circle cx="330.9" cy="188.3" r="1.6"/><circle cx="229.2" cy="179.7" r="1.6"/><circle cx="351.4" cy="163.1" r="1.6"/><circle cx="248.5" cy="195.5" r="1.6"/><circle cx="190.5" cy="170.8" r="1.6"/><circle cx="230.2" cy="158.9" r="1.6"/><circle cx="229.5" cy="160.1" r="1.6"/></g>
<g fill="#f00"><circle cx="230.2" cy="157.6" r="1.6"/></g>
<g fill="#0f0"><circle cx="229.0" cy="159.6" r="1.6"/><circle cx="226.5" cy="167.1" r="1.6"/><circle cx="227.3" cy="163.4" r="1.6"/><circle cx="227.7" cy="161.4" r="1.6"/><circle cx="225.6" cy="167.5" r="1.6"/><circle cx="226.4" cy="164.6" r="1.6"/><circle cx="223.9" cy="171.8" r="1.6"/><circle cx="223.9" cy="171.2" r="1.6"/><circle cx="226.8" cy="160.3" r="1.6"/><circle cx="223.9" cy="169.7" r="1.6"/></g>
<g fill="#f00"><circle cx="226.8" cy="158.9" r="1.6"/></g>
<g fill="#0f0"><circle cx="223.9" cy="168.4" r="1.6"/><circle cx="225.2" cy="162.5" r="1.6"/><circle cx="229.9" cy="144.8" r="1.6"/><circle cx="223.9" cy="166.7" r="1.6"/><circle cx="224.9" cy="162.6" r="1.6"/><circle cx="223.9" cy="166.2" r="1.6"/><circle cx="222.2" cy="171.9" r="1.6"/><circle cx="225.1" cy="161.1" r="1.6"/><circle cx="223.9" cy="164.8" r="1.6"/><circle cx="222.2" cy="171.0" r="1.6"/></g>
<g fill="#f00"><circle cx="229.9" cy="142.4" r="1.6"/><circle cx="225.1" cy="159.8" r="1.6"/></g>
<g fill="#0f0"><circle cx="223.9" cy="163.5" r="1.6"/><circle cx="222.2" cy="169.5" r="1.6"/><circle cx="222.2" cy="168.8" r="1.6"/><circle cx="223.9" cy="162.2" r="1.6"/><circle cx="223.7" cy="162.9" r="1.6"/><circle cx="222.4" cy="167.4" r="1.6"/><circle cx="228.5" cy="144.9" r="1.6"/><circle cx="223.9" cy="161.3" r="1.6"/><circle cx="222.2" cy="167.1" r="1.6"/><circle cx="220.5" cy="172.2" r="1.6"/></g>
<g fill="#f00"><circle cx="228.5" cy="142.5" r="1.6"/></g>
<g fill="#0f0"><circle cx="222.2" cy="165.6" r="1.6"/><circle cx="220.5" cy="171.2" r="1.6"/><circle cx="222.2" cy="165.0" r="1.6"/><circle cx="222.2" cy="163.8" r="1.6"/><circle cx="220.5" cy="169.7" r="1.6"/><circle cx="227.0" cy="145.0" r="1.6"/><circle cx="220.5" cy="168.8" r="1.6"/><circle cx="222.2" cy="162.2" r="1.6"/><circle cx="222.1" cy="162.4" r="1.6"/><circle cx="221.8" cy="163.0" r="1.6"/><circle cx="222.2" cy="161.2" r="1.6"/><circle cx="220.5" cy="167.1" r="1.6"/></g>
<g fill="#f00"><circle cx="222.1" cy="161.1" r="1.6"/><circle cx="227.0" cy="142.6" r="1.6"/></g>
<g fill="#0f0"><circle cx="218.8" cy="172.6" r="1.6"/><circle cx="220.5" cy="166.2" r="1.6"/><circle cx="220.5" cy="165.2" r="1.6"/><circle cx="218.8" cy="171.3" r="1.6"/><circle cx="220.5" cy="164.3" r="1.6"/><circle cx="218.8" cy="170.3" r="1.6"/><circle cx="220.5" cy="164.0" r="1.6"/><circle cx="225.6" cy="145.1" r="1.6"/><circle cx="218.8" cy="169.0" r="1.6"/><circle cx="220.5" cy="162.4" r="1.6"/><circle cx="223.2" cy="152.2" r="1.6"/></g>
<g fill="#f00"><circle cx="223.2" cy="151.7" r="1.6"/><circle cx="225.6" cy="142.7" r="1.6"/></g>
<g fill="#0f0"><circle cx="218.8" cy="167.4" r="1.6"/><circle cx="220.5" cy="161.1" r="1.6"/></g>
<g fill="#f00"><circle cx="223.2" cy="150.9" r="1.6"/></g>
<g fill="#0f0"><circle cx="218.8" cy="166.1" r="1.6"/><circle cx="218.8" cy="165.4" r="1.6"/><circle cx="219.6" cy="161.2" r="1.6"/><circle cx="218.8" cy="163.9" r="1.6"/><circle cx="218.8" cy="162.2" r="1.6"/><circle cx="218.8" cy="161.6" r="1.6"/></g>
<rect x="419" y="179.3" width="77" height="27.1" fill="#fff" stroke="#8a8a8a" stroke-width="0.9"/>
<circle cx="428.5" cy="187.4" r="1.3" fill="#f00"/>
<circle cx="428.5" cy="198.3" r="1.3" fill="#0f0"/>
<text x="435" y="190.2" textLength="51.5" lengthAdjust="spacingAndGlyphs" style="font-family:'Liberation Sans',Arial,sans-serif;fill:#262626;font-size:9.4px;fill:#111;stroke:#111;stroke-width:0.15px">No regulation</text>
<text x="435" y="202.6" textLength="58.3" lengthAdjust="spacingAndGlyphs" style="font-family:'Liberation Sans',Arial,sans-serif;fill:#262626;font-size:9.4px;fill:#111;stroke:#111;stroke-width:0.15px">With regulation</text>
</svg>
</body></html>
